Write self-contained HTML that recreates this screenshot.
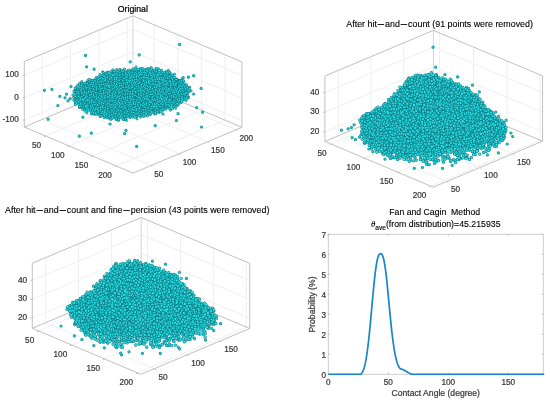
<!DOCTYPE html>
<html><head><meta charset="utf-8"><title>Figure</title>
<style>html,body{margin:0;padding:0;background:#fff;overflow:hidden}svg{display:block}</style>
</head><body>
<svg width="550" height="402" viewBox="0 0 550 402" font-family="Liberation Sans, Arial, sans-serif">
<rect width="550" height="402" fill="#fff"/>
<line x1="45.41" y1="135.94" x2="154.05" y2="90.14" stroke="#efefef" stroke-width="1.0"/>
<line x1="69.02" y1="145.95" x2="177.7" y2="100.15" stroke="#efefef" stroke-width="1.0"/>
<line x1="92.63" y1="155.95" x2="201.35" y2="110.15" stroke="#efefef" stroke-width="1.0"/>
<line x1="116.24" y1="165.95" x2="225" y2="120.15" stroke="#efefef" stroke-width="1.0"/>
<line x1="42.11" y1="119.49" x2="150.94" y2="165.59" stroke="#efefef" stroke-width="1.0"/>
<line x1="70.45" y1="107.53" x2="179.34" y2="153.63" stroke="#efefef" stroke-width="1.0"/>
<line x1="98.8" y1="95.58" x2="207.74" y2="141.68" stroke="#efefef" stroke-width="1.0"/>
<line x1="127.14" y1="83.63" x2="236.13" y2="129.73" stroke="#efefef" stroke-width="1.0"/>
<line x1="42.11" y1="119.49" x2="42.11" y2="54.09" stroke="#efefef" stroke-width="1.0"/>
<line x1="70.45" y1="107.53" x2="70.45" y2="42.13" stroke="#efefef" stroke-width="1.0"/>
<line x1="98.8" y1="95.58" x2="98.8" y2="30.18" stroke="#efefef" stroke-width="1.0"/>
<line x1="127.14" y1="83.63" x2="127.14" y2="18.23" stroke="#efefef" stroke-width="1.0"/>
<line x1="24.3" y1="120" x2="132.9" y2="74.2" stroke="#efefef" stroke-width="1.0"/>
<line x1="24.3" y1="97.6" x2="132.9" y2="51.8" stroke="#efefef" stroke-width="1.0"/>
<line x1="24.3" y1="75.2" x2="132.9" y2="29.4" stroke="#efefef" stroke-width="1.0"/>
<line x1="154.05" y1="90.14" x2="154.05" y2="24.74" stroke="#efefef" stroke-width="1.0"/>
<line x1="177.7" y1="100.15" x2="177.7" y2="34.75" stroke="#efefef" stroke-width="1.0"/>
<line x1="201.35" y1="110.15" x2="201.35" y2="44.75" stroke="#efefef" stroke-width="1.0"/>
<line x1="225" y1="120.15" x2="225" y2="54.75" stroke="#efefef" stroke-width="1.0"/>
<line x1="132.9" y1="74.2" x2="241.9" y2="120.3" stroke="#efefef" stroke-width="1.0"/>
<line x1="132.9" y1="51.8" x2="241.9" y2="97.9" stroke="#efefef" stroke-width="1.0"/>
<line x1="132.9" y1="29.4" x2="241.9" y2="75.5" stroke="#efefef" stroke-width="1.0"/>
<line x1="132.9" y1="81.2" x2="132.9" y2="15.8" stroke="#d6d6d6" stroke-width="1.0"/>
<line x1="24.3" y1="127" x2="132.9" y2="81.2" stroke="#c0c0c0" stroke-width="1.0"/>
<line x1="132.9" y1="81.2" x2="241.9" y2="127.3" stroke="#c0c0c0" stroke-width="1.0"/>
<line x1="24.3" y1="61.6" x2="132.9" y2="15.8" stroke="#c0c0c0" stroke-width="1.0"/>
<line x1="132.9" y1="15.8" x2="241.9" y2="61.9" stroke="#c0c0c0" stroke-width="1.0"/>
<line x1="241.9" y1="61.9" x2="241.9" y2="127.3" stroke="#c0c0c0" stroke-width="1.0"/>
<line x1="24.3" y1="127" x2="133.1" y2="173.1" stroke="#c0c0c0" stroke-width="1.0"/>
<line x1="133.1" y1="173.1" x2="241.9" y2="127.3" stroke="#c0c0c0" stroke-width="1.0"/>
<line x1="24.3" y1="127" x2="24.3" y2="61.6" stroke="#c0c0c0" stroke-width="1.0"/>
<line x1="45.41" y1="135.94" x2="43.81" y2="136.84" stroke="#c0c0c0" stroke-width="1.0"/>
<line x1="69.02" y1="145.95" x2="67.42" y2="146.85" stroke="#c0c0c0" stroke-width="1.0"/>
<line x1="92.63" y1="155.95" x2="91.03" y2="156.85" stroke="#c0c0c0" stroke-width="1.0"/>
<line x1="116.24" y1="165.95" x2="114.64" y2="166.85" stroke="#c0c0c0" stroke-width="1.0"/>
<line x1="150.94" y1="165.59" x2="152.54" y2="166.49" stroke="#c0c0c0" stroke-width="1.0"/>
<line x1="179.34" y1="153.63" x2="180.94" y2="154.53" stroke="#c0c0c0" stroke-width="1.0"/>
<line x1="207.74" y1="141.68" x2="209.34" y2="142.58" stroke="#c0c0c0" stroke-width="1.0"/>
<line x1="236.13" y1="129.73" x2="237.73" y2="130.63" stroke="#c0c0c0" stroke-width="1.0"/>
<line x1="24.3" y1="120" x2="22.5" y2="120" stroke="#c0c0c0" stroke-width="1.0"/>
<line x1="24.3" y1="97.6" x2="22.5" y2="97.6" stroke="#c0c0c0" stroke-width="1.0"/>
<line x1="24.3" y1="75.2" x2="22.5" y2="75.2" stroke="#c0c0c0" stroke-width="1.0"/>
<text x="41.01" y="147.74" font-size="8.2" text-anchor="end" fill="#383838" stroke="#383838" stroke-width="0.22">50</text>
<text x="64.62" y="157.75" font-size="8.2" text-anchor="end" fill="#383838" stroke="#383838" stroke-width="0.22">100</text>
<text x="88.23" y="167.75" font-size="8.2" text-anchor="end" fill="#383838" stroke="#383838" stroke-width="0.22">150</text>
<text x="111.84" y="177.75" font-size="8.2" text-anchor="end" fill="#383838" stroke="#383838" stroke-width="0.22">200</text>
<text x="154.24" y="176.79" font-size="8.2" text-anchor="start" fill="#383838" stroke="#383838" stroke-width="0.22">50</text>
<text x="182.64" y="164.83" font-size="8.2" text-anchor="start" fill="#383838" stroke="#383838" stroke-width="0.22">100</text>
<text x="211.04" y="152.88" font-size="8.2" text-anchor="start" fill="#383838" stroke="#383838" stroke-width="0.22">150</text>
<text x="239.43" y="140.93" font-size="8.2" text-anchor="start" fill="#383838" stroke="#383838" stroke-width="0.22">200</text>
<text x="18.9" y="122.2" font-size="8.2" text-anchor="end" fill="#383838" stroke="#383838" stroke-width="0.22">-100</text>
<text x="18.9" y="99.8" font-size="8.2" text-anchor="end" fill="#383838" stroke="#383838" stroke-width="0.22">0</text>
<text x="18.9" y="77.4" font-size="8.2" text-anchor="end" fill="#383838" stroke="#383838" stroke-width="0.22">100</text>
<line x1="331.07" y1="144.01" x2="439.62" y2="98.39" stroke="#efefef" stroke-width="1.0"/>
<line x1="364.65" y1="158.21" x2="473.44" y2="112.46" stroke="#efefef" stroke-width="1.0"/>
<line x1="397.79" y1="172.22" x2="506.82" y2="126.35" stroke="#efefef" stroke-width="1.0"/>
<line x1="430.82" y1="186.19" x2="540.1" y2="140.2" stroke="#efefef" stroke-width="1.0"/>
<line x1="338.35" y1="135.75" x2="446.75" y2="181.5" stroke="#efefef" stroke-width="1.0"/>
<line x1="371.12" y1="121.97" x2="479.76" y2="167.6" stroke="#efefef" stroke-width="1.0"/>
<line x1="403.78" y1="108.25" x2="512.66" y2="153.76" stroke="#efefef" stroke-width="1.0"/>
<line x1="338.35" y1="135.75" x2="338.35" y2="70.35" stroke="#efefef" stroke-width="1.0"/>
<line x1="371.12" y1="121.97" x2="371.12" y2="56.57" stroke="#efefef" stroke-width="1.0"/>
<line x1="403.78" y1="108.25" x2="403.78" y2="42.85" stroke="#efefef" stroke-width="1.0"/>
<line x1="324.9" y1="131.81" x2="433.4" y2="86.21" stroke="#efefef" stroke-width="1.0"/>
<line x1="324.9" y1="112.23" x2="433.4" y2="66.63" stroke="#efefef" stroke-width="1.0"/>
<line x1="324.9" y1="92.68" x2="433.4" y2="47.08" stroke="#efefef" stroke-width="1.0"/>
<line x1="439.62" y1="98.39" x2="439.62" y2="32.99" stroke="#efefef" stroke-width="1.0"/>
<line x1="473.44" y1="112.46" x2="473.44" y2="47.06" stroke="#efefef" stroke-width="1.0"/>
<line x1="506.82" y1="126.35" x2="506.82" y2="60.95" stroke="#efefef" stroke-width="1.0"/>
<line x1="540.1" y1="140.2" x2="540.1" y2="74.8" stroke="#efefef" stroke-width="1.0"/>
<line x1="433.4" y1="86.21" x2="542.5" y2="131.61" stroke="#efefef" stroke-width="1.0"/>
<line x1="433.4" y1="66.63" x2="542.5" y2="112.03" stroke="#efefef" stroke-width="1.0"/>
<line x1="433.4" y1="47.08" x2="542.5" y2="92.48" stroke="#efefef" stroke-width="1.0"/>
<line x1="433.4" y1="95.8" x2="433.4" y2="30.4" stroke="#d6d6d6" stroke-width="1.0"/>
<line x1="324.9" y1="141.4" x2="433.4" y2="95.8" stroke="#c0c0c0" stroke-width="1.0"/>
<line x1="433.4" y1="95.8" x2="542.5" y2="141.2" stroke="#c0c0c0" stroke-width="1.0"/>
<line x1="324.9" y1="76" x2="433.4" y2="30.4" stroke="#c0c0c0" stroke-width="1.0"/>
<line x1="433.4" y1="30.4" x2="542.5" y2="75.8" stroke="#c0c0c0" stroke-width="1.0"/>
<line x1="542.5" y1="75.8" x2="542.5" y2="141.2" stroke="#c0c0c0" stroke-width="1.0"/>
<line x1="324.9" y1="141.4" x2="433.2" y2="187.2" stroke="#c0c0c0" stroke-width="1.0"/>
<line x1="433.2" y1="187.2" x2="542.5" y2="141.2" stroke="#c0c0c0" stroke-width="1.0"/>
<line x1="324.9" y1="141.4" x2="324.9" y2="76" stroke="#c0c0c0" stroke-width="1.0"/>
<line x1="331.07" y1="144.01" x2="329.47" y2="144.91" stroke="#c0c0c0" stroke-width="1.0"/>
<line x1="364.65" y1="158.21" x2="363.05" y2="159.11" stroke="#c0c0c0" stroke-width="1.0"/>
<line x1="397.79" y1="172.22" x2="396.19" y2="173.12" stroke="#c0c0c0" stroke-width="1.0"/>
<line x1="430.82" y1="186.19" x2="429.22" y2="187.09" stroke="#c0c0c0" stroke-width="1.0"/>
<line x1="446.75" y1="181.5" x2="448.35" y2="182.4" stroke="#c0c0c0" stroke-width="1.0"/>
<line x1="479.76" y1="167.6" x2="481.36" y2="168.5" stroke="#c0c0c0" stroke-width="1.0"/>
<line x1="512.66" y1="153.76" x2="514.26" y2="154.66" stroke="#c0c0c0" stroke-width="1.0"/>
<line x1="324.9" y1="131.81" x2="323.1" y2="131.81" stroke="#c0c0c0" stroke-width="1.0"/>
<line x1="324.9" y1="112.23" x2="323.1" y2="112.23" stroke="#c0c0c0" stroke-width="1.0"/>
<line x1="324.9" y1="92.68" x2="323.1" y2="92.68" stroke="#c0c0c0" stroke-width="1.0"/>
<text x="326.67" y="155.81" font-size="8.2" text-anchor="end" fill="#383838" stroke="#383838" stroke-width="0.22">50</text>
<text x="360.25" y="170.01" font-size="8.2" text-anchor="end" fill="#383838" stroke="#383838" stroke-width="0.22">100</text>
<text x="393.39" y="184.02" font-size="8.2" text-anchor="end" fill="#383838" stroke="#383838" stroke-width="0.22">150</text>
<text x="426.42" y="197.99" font-size="8.2" text-anchor="end" fill="#383838" stroke="#383838" stroke-width="0.22">200</text>
<text x="451.05" y="192.28" font-size="8.2" text-anchor="start" fill="#383838" stroke="#383838" stroke-width="0.22">50</text>
<text x="484.06" y="178.38" font-size="8.2" text-anchor="start" fill="#383838" stroke="#383838" stroke-width="0.22">100</text>
<text x="516.96" y="164.54" font-size="8.2" text-anchor="start" fill="#383838" stroke="#383838" stroke-width="0.22">150</text>
<text x="319.4" y="134.01" font-size="8.2" text-anchor="end" fill="#383838" stroke="#383838" stroke-width="0.22">20</text>
<text x="319.4" y="114.43" font-size="8.2" text-anchor="end" fill="#383838" stroke="#383838" stroke-width="0.22">30</text>
<text x="319.4" y="94.88" font-size="8.2" text-anchor="end" fill="#383838" stroke="#383838" stroke-width="0.22">40</text>
<line x1="38.6" y1="330.97" x2="147.49" y2="285.26" stroke="#efefef" stroke-width="1.0"/>
<line x1="71.61" y1="344.95" x2="180.48" y2="299.22" stroke="#efefef" stroke-width="1.0"/>
<line x1="104.52" y1="358.89" x2="213.35" y2="313.12" stroke="#efefef" stroke-width="1.0"/>
<line x1="137.53" y1="372.87" x2="246.34" y2="327.08" stroke="#efefef" stroke-width="1.0"/>
<line x1="45.69" y1="322.68" x2="154.28" y2="368.67" stroke="#efefef" stroke-width="1.0"/>
<line x1="78.58" y1="308.88" x2="187.14" y2="354.84" stroke="#efefef" stroke-width="1.0"/>
<line x1="111.58" y1="295.03" x2="220.11" y2="340.96" stroke="#efefef" stroke-width="1.0"/>
<line x1="45.69" y1="322.68" x2="45.69" y2="257.58" stroke="#efefef" stroke-width="1.0"/>
<line x1="78.58" y1="308.88" x2="78.58" y2="243.78" stroke="#efefef" stroke-width="1.0"/>
<line x1="111.58" y1="295.03" x2="111.58" y2="229.93" stroke="#efefef" stroke-width="1.0"/>
<line x1="32.3" y1="318.01" x2="141.2" y2="272.31" stroke="#efefef" stroke-width="1.0"/>
<line x1="32.3" y1="299.2" x2="141.2" y2="253.5" stroke="#efefef" stroke-width="1.0"/>
<line x1="32.3" y1="280.32" x2="141.2" y2="234.62" stroke="#efefef" stroke-width="1.0"/>
<line x1="147.49" y1="285.26" x2="147.49" y2="220.16" stroke="#efefef" stroke-width="1.0"/>
<line x1="180.48" y1="299.22" x2="180.48" y2="234.12" stroke="#efefef" stroke-width="1.0"/>
<line x1="213.35" y1="313.12" x2="213.35" y2="248.02" stroke="#efefef" stroke-width="1.0"/>
<line x1="246.34" y1="327.08" x2="246.34" y2="261.98" stroke="#efefef" stroke-width="1.0"/>
<line x1="141.2" y1="272.31" x2="249.7" y2="318.21" stroke="#efefef" stroke-width="1.0"/>
<line x1="141.2" y1="253.5" x2="249.7" y2="299.4" stroke="#efefef" stroke-width="1.0"/>
<line x1="141.2" y1="234.62" x2="249.7" y2="280.52" stroke="#efefef" stroke-width="1.0"/>
<line x1="141.2" y1="282.6" x2="141.2" y2="217.5" stroke="#d6d6d6" stroke-width="1.0"/>
<line x1="32.3" y1="328.3" x2="141.2" y2="282.6" stroke="#c0c0c0" stroke-width="1.0"/>
<line x1="141.2" y1="282.6" x2="249.7" y2="328.5" stroke="#c0c0c0" stroke-width="1.0"/>
<line x1="32.3" y1="263.2" x2="141.2" y2="217.5" stroke="#c0c0c0" stroke-width="1.0"/>
<line x1="141.2" y1="217.5" x2="249.7" y2="263.4" stroke="#c0c0c0" stroke-width="1.0"/>
<line x1="249.7" y1="263.4" x2="249.7" y2="328.5" stroke="#c0c0c0" stroke-width="1.0"/>
<line x1="32.3" y1="328.3" x2="140.9" y2="374.3" stroke="#c0c0c0" stroke-width="1.0"/>
<line x1="140.9" y1="374.3" x2="249.7" y2="328.5" stroke="#c0c0c0" stroke-width="1.0"/>
<line x1="32.3" y1="328.3" x2="32.3" y2="263.2" stroke="#c0c0c0" stroke-width="1.0"/>
<line x1="38.6" y1="330.97" x2="37" y2="331.87" stroke="#c0c0c0" stroke-width="1.0"/>
<line x1="71.61" y1="344.95" x2="70.01" y2="345.85" stroke="#c0c0c0" stroke-width="1.0"/>
<line x1="104.52" y1="358.89" x2="102.92" y2="359.79" stroke="#c0c0c0" stroke-width="1.0"/>
<line x1="137.53" y1="372.87" x2="135.93" y2="373.77" stroke="#c0c0c0" stroke-width="1.0"/>
<line x1="154.28" y1="368.67" x2="155.88" y2="369.57" stroke="#c0c0c0" stroke-width="1.0"/>
<line x1="187.14" y1="354.84" x2="188.74" y2="355.74" stroke="#c0c0c0" stroke-width="1.0"/>
<line x1="220.11" y1="340.96" x2="221.71" y2="341.86" stroke="#c0c0c0" stroke-width="1.0"/>
<line x1="32.3" y1="318.01" x2="30.5" y2="318.01" stroke="#c0c0c0" stroke-width="1.0"/>
<line x1="32.3" y1="299.2" x2="30.5" y2="299.2" stroke="#c0c0c0" stroke-width="1.0"/>
<line x1="32.3" y1="280.32" x2="30.5" y2="280.32" stroke="#c0c0c0" stroke-width="1.0"/>
<text x="34.2" y="342.77" font-size="8.2" text-anchor="end" fill="#383838" stroke="#383838" stroke-width="0.22">50</text>
<text x="67.21" y="356.75" font-size="8.2" text-anchor="end" fill="#383838" stroke="#383838" stroke-width="0.22">100</text>
<text x="100.12" y="370.69" font-size="8.2" text-anchor="end" fill="#383838" stroke="#383838" stroke-width="0.22">150</text>
<text x="133.13" y="384.67" font-size="8.2" text-anchor="end" fill="#383838" stroke="#383838" stroke-width="0.22">200</text>
<text x="158.38" y="379.53" font-size="8.2" text-anchor="start" fill="#383838" stroke="#383838" stroke-width="0.22">50</text>
<text x="191.24" y="365.7" font-size="8.2" text-anchor="start" fill="#383838" stroke="#383838" stroke-width="0.22">100</text>
<text x="224.21" y="351.82" font-size="8.2" text-anchor="start" fill="#383838" stroke="#383838" stroke-width="0.22">150</text>
<text x="27" y="320.21" font-size="8.2" text-anchor="end" fill="#383838" stroke="#383838" stroke-width="0.22">20</text>
<text x="27" y="301.4" font-size="8.2" text-anchor="end" fill="#383838" stroke="#383838" stroke-width="0.22">30</text>
<text x="27" y="282.52" font-size="8.2" text-anchor="end" fill="#383838" stroke="#383838" stroke-width="0.22">40</text>
<polygon points="75.63,94.83 76.3,99.86 77.97,103.27 81.76,106.39 87.27,109.78 95.82,112.67 104.65,115.61 114.65,117.82 124.35,118.47 133.11,115.93 133.47,115.84 142.16,114.38 149.46,112.14 149.77,112.06 157.13,110.59 164.39,108.43 164.4,108.43 171.61,106.31 176.8,103.68 180.94,99.54 181.17,99.33 181.42,99.14 185.39,96.49 187.65,93.11 188.08,90.4 186.56,87.29 182.6,83.32 177,79.13 171.48,76.32 164.25,73.43 157.33,71.37 147.19,70.69 147.15,70.69 137.28,69.93 128.79,72.1 128.49,72.16 128.18,72.19 127.88,72.2 120.41,71.91 111.95,73.34 103.61,75.37 99.58,78.06 99.3,78.23 99,78.37 91.6,81.37 91.59,81.37 84.34,84.27 79.03,87.54 76.23,90.95 75.63,94.83" fill="#18b0b6"/>
<polygon points="361.65,126.44 361.69,126.72 361.7,127 361.7,131.83 365.77,138.34 372.56,144.16 383.37,149.57 395.22,153.02 410.02,155.49 424.87,153.51 424.87,153.51 449.87,150.31 474.78,147.02 494.69,140.55 501.66,138.23 501.76,138.14 502,137.96 505.29,135.71 507.1,131.14 505.11,127.08 502.45,122.95 499.43,119.57 493.79,115.37 493.44,115.06 481.44,103.06 481.13,102.71 476.95,97.11 472.75,93.56 468.67,90.2 463.15,88.09 462.87,87.96 455.48,84.27 448.1,80.62 440.75,77.69 435.22,75.62 429.97,74.92 423.47,75.68 423.4,75.69 416.6,76.33 411.44,78.91 408.13,81.59 402.96,86.66 398.59,91.14 398.56,91.16 394.06,95.66 394.04,95.69 389.55,100.08 385.06,104.56 384.78,104.82 384.46,105.03 377.06,109.53 376.83,109.66 364.83,115.66 364.6,115.77 361.4,117.06 360.57,120.32 361.65,126.44" fill="#18b0b6"/>
<polygon points="68.3,309.02 68.57,309.17 68.83,309.35 69.07,309.55 69.29,309.77 69.48,310.01 69.65,310.27 69.8,310.54 69.91,310.83 70,311.12 71.35,316.5 74.58,320.81 76.07,322.54 76.83,323.31 95.32,333.04 121.87,337 152.64,337 183.36,333.02 204.82,325.11 215.06,317.62 214.31,315.61 211.27,310.7 207.59,307.01 202.66,303.24 202.48,303.1 196.59,297.91 190.6,292.72 190.44,292.56 184.44,286.56 184.24,286.34 184.06,286.1 181.22,281.94 176.15,276.79 171.02,275.5 170.7,275.4 170.38,275.27 162.88,271.57 162.84,271.55 155.56,267.81 147.01,264.3 138.66,262.89 130.11,262.5 123.41,262.87 115.53,266.11 111.59,270.14 111.56,270.16 107.14,274.58 102.72,279.69 102.68,279.73 96.68,286.43 96.44,286.68 90.54,291.98 90.29,292.18 84.29,296.58 84.11,296.7 78.11,300.5 77.83,300.66 71,304.08 67.22,308.44 67.2,308.49 68.3,309.02" fill="#18b0b6"/>
<g transform="scale(0.1)" fill="none" stroke-linecap="round">
<path d="M1262 962h0m151-89h0m-277-57h0m607 106h0m56 84h0m-707 24h0m-50 147h0m546-47h0m-113-430h0m-309 227h0m-92 89h0m394-268h0m342 234h0m-437-91h0m-106 181h0m505-98h0m-942 48h0m393 123h0m416-288h0m249 116h0m-848-16h0m-147 1h0m434 179h0m148-249h0m133-39h0m-116 11h0m-635 53h0m632-127h0m-103 93h0m-350 167h0m-183-164h0m757 142h0m-108-56h0m198-158h0m-518-69h0m297 269h0m-536 51h0m424 8h0m89-353h0m-216 312h0" stroke="#0b6a74" stroke-width="27"/>
<path d="M1262 962h0m151-89h0m-277-57h0m607 106h0m56 84h0m-707 24h0m-50 147h0m546-47h0m-113-430h0m-309 227h0m-92 89h0m394-268h0m342 234h0m-437-91h0m-106 181h0m505-98h0m-942 48h0m393 123h0m416-288h0m249 116h0m-848-16h0m-147 1h0m434 179h0m148-249h0m133-39h0m-116 11h0m-635 53h0m632-127h0m-103 93h0m-350 167h0m-183-164h0m757 142h0m-108-56h0m198-158h0m-518-69h0m297 269h0m-536 51h0m424 8h0m89-353h0m-216 312h0" stroke="#28dce2" stroke-width="19"/>
<path d="M1177 844h0m526-114h0m-942 161h0m485-32h0m173-4h0m-204-36h0m-296 172h0m248-27h0m-172 88h0m148-201h0m361-167h0m-568 308h0m712 87h0m-518-42h0m224 117h0m-360-386h0m428 358h0m144-143h0m257-24h0m-898-91h0m-39-31h0m316 284h0m390-143h0m-177-69h0m0-184h0m-289 76h0m-142 202h0m131 148h0m665-184h0m-934-30h0m311 204h0m137-136h0m83-98h0m139 106h0m90 105h0m-156-3h0m172-3h0m-663-251h0m672 9h0m-532-138h0" stroke="#0b6a74" stroke-width="27"/>
<path d="M1177 844h0m526-114h0m-942 161h0m485-32h0m173-4h0m-204-36h0m-296 172h0m248-27h0m-172 88h0m148-201h0m361-167h0m-568 308h0m712 87h0m-518-42h0m224 117h0m-360-386h0m428 358h0m144-143h0m257-24h0m-898-91h0m-39-31h0m316 284h0m390-143h0m-177-69h0m0-184h0m-289 76h0m-142 202h0m131 148h0m665-184h0m-934-30h0m311 204h0m137-136h0m83-98h0m139 106h0m90 105h0m-156-3h0m172-3h0m-663-251h0m672 9h0m-532-138h0" stroke="#28dce2" stroke-width="19"/>
<path d="M1457 808h0m54-7h0m-52 78h0m-661-49h0m627-37h0m-466 224h0m296-299h0m-320 94h0m-113 62h0m953-38h0m-261 131h0m-420 217h0m82-316h0m78-26h0m340 181h0m88 24h0m-302-295h0m-400 186h0m564-109h0m255 98h0m-728 252h0m21-71h0m393-267h0m-114 64h0m-488 108h0m342 74h0m554-33h0m-365 55h0m247-392h0m-545 23h0m433 334h0m-57-364h0m404 161h0m-445 42h0m-96-135h0m-156-85h0m143 6h0m346 342h0m-910-11h0m662-282h0" stroke="#0b6a74" stroke-width="27"/>
<path d="M1457 808h0m54-7h0m-52 78h0m-661-49h0m627-37h0m-466 224h0m296-299h0m-320 94h0m-113 62h0m953-38h0m-261 131h0m-420 217h0m82-316h0m78-26h0m340 181h0m88 24h0m-302-295h0m-400 186h0m564-109h0m255 98h0m-728 252h0m21-71h0m393-267h0m-114 64h0m-488 108h0m342 74h0m554-33h0m-365 55h0m247-392h0m-545 23h0m433 334h0m-57-364h0m404 161h0m-445 42h0m-96-135h0m-156-85h0m143 6h0m346 342h0m-910-11h0m662-282h0" stroke="#28dce2" stroke-width="19"/>
<path d="M904 1095h0m150-38h0m-244-130h0m258 39h0m354 67h0m-77-108h0m-481 21h0m166-166h0m590-38h0m-454 234h0m103 110h0m564-176h0m-184 121h0m-443-286h0m320 306h0m-628-80h0m258 24h0m158-9h0m411-59h0m99-22h0m-252 193h0m72-320h0m32 242h0m-915-138h0m124-66h0m52 327h0m146-40h0m433-30h0m11-46h0m88-239h0m-416-13h0m5 340h0m132-376h0m207 37h0m-363 304h0m666-132h0m-189-141h0m-529 309h0m306-157h0m-503 151h0" stroke="#0b6a74" stroke-width="27"/>
<path d="M904 1095h0m150-38h0m-244-130h0m258 39h0m354 67h0m-77-108h0m-481 21h0m166-166h0m590-38h0m-454 234h0m103 110h0m564-176h0m-184 121h0m-443-286h0m320 306h0m-628-80h0m258 24h0m158-9h0m411-59h0m99-22h0m-252 193h0m72-320h0m32 242h0m-915-138h0m124-66h0m52 327h0m146-40h0m433-30h0m11-46h0m88-239h0m-416-13h0m5 340h0m132-376h0m207 37h0m-363 304h0m666-132h0m-189-141h0m-529 309h0m306-157h0m-503 151h0" stroke="#28dce2" stroke-width="19"/>
<path d="M1468 957h0m-56 119h0m-29-353h0m268 131h0m-507-14h0m80 43h0m365 165h0m-282-249h0m-323 47h0m-116 67h0m366 285h0m-267-295h0m194 294h0m409-393h0m-324 362h0m140-66h0m-266-133h0m-275 15h0m961-142h0m-442 36h0m-542 94h0m500 89h0m121 3h0m-123-216h0m-455 243h0m343-207h0m631 10h0m-952 1h0m796 80h0m107-119h0m-611 33h0m436-9h0m60 0h0m-408-38h0m216 208h0m-200-116h0m419-128h0m-798 217h0m-4-90h0m89-18h0" stroke="#0b6a74" stroke-width="27"/>
<path d="M1468 957h0m-56 119h0m-29-353h0m268 131h0m-507-14h0m80 43h0m365 165h0m-282-249h0m-323 47h0m-116 67h0m366 285h0m-267-295h0m194 294h0m409-393h0m-324 362h0m140-66h0m-266-133h0m-275 15h0m961-142h0m-442 36h0m-542 94h0m500 89h0m121 3h0m-123-216h0m-455 243h0m343-207h0m631 10h0m-952 1h0m796 80h0m107-119h0m-611 33h0m436-9h0m60 0h0m-408-38h0m216 208h0m-200-116h0m419-128h0m-798 217h0m-4-90h0m89-18h0" stroke="#28dce2" stroke-width="19"/>
<path d="M1245 789h0m-7-91h0m-368 123h0m11 226h0m346-197h0m282 252h0m298-73h0m-725-276h0m-31 380h0m513-112h0m-279-115h0m-161 177h0m404-88h0m200-120h0m-588 136h0m439-314h0m122 374h0m-336-140h0m395 75h0m-942-191h0m474-7h0m-555 195h0m277 84h0m341-89h0m52-97h0m360 25h0m-160 72h0m-432-138h0m-137-93h0m-42 99h0m776 28h0m-669 33h0m11-208h0m-365 185h0m812-161h0m66 356h0m-744-68h0m151-127h0m798 76h0m-585-210h0" stroke="#0b6a74" stroke-width="27"/>
<path d="M1245 789h0m-7-91h0m-368 123h0m11 226h0m346-197h0m282 252h0m298-73h0m-725-276h0m-31 380h0m513-112h0m-279-115h0m-161 177h0m404-88h0m200-120h0m-588 136h0m439-314h0m122 374h0m-336-140h0m395 75h0m-942-191h0m474-7h0m-555 195h0m277 84h0m341-89h0m52-97h0m360 25h0m-160 72h0m-432-138h0m-137-93h0m-42 99h0m776 28h0m-669 33h0m11-208h0m-365 185h0m812-161h0m66 356h0m-744-68h0m151-127h0m798 76h0m-585-210h0" stroke="#28dce2" stroke-width="19"/>
<path d="M1058 1116h0m290-361h0m-85 19h0m255 217h0m-763 1h0m433 8h0m-38 105h0m32-327h0m36-19h0m-28 122h0m313-102h0m-430-16h0m300 268h0m-123 13h0m182-318h0m-167 477h0m-75-456h0m9 155h0m58-14h0m-367-69h0m745 238h0m-584-10h0m-253 26h0m111-21h0m466 14h0m-16 56h0m199-158h0m-156 93h0m335-72h0m-570 76h0m184-39h0m386-222h0m-912 39h0m470 88h0m122-228h0m17 407h0m-285-105h0m84-92h0m61-209h0m-129 490h0" stroke="#0b6a74" stroke-width="27"/>
<path d="M1058 1116h0m290-361h0m-85 19h0m255 217h0m-763 1h0m433 8h0m-38 105h0m32-327h0m36-19h0m-28 122h0m313-102h0m-430-16h0m300 268h0m-123 13h0m182-318h0m-167 477h0m-75-456h0m9 155h0m58-14h0m-367-69h0m745 238h0m-584-10h0m-253 26h0m111-21h0m466 14h0m-16 56h0m199-158h0m-156 93h0m335-72h0m-570 76h0m184-39h0m386-222h0m-912 39h0m470 88h0m122-228h0m17 407h0m-285-105h0m84-92h0m61-209h0m-129 490h0" stroke="#28dce2" stroke-width="19"/>
<path d="M1340 860h0m147 269h0m-424-213h0m642-134h0m-638 263h0m341 34h0m-208 80h0m-24 13h0m300-341h0m-93 26h0m-40-72h0m306-20h0m-188 68h0m-102 250h0m-225-4h0m131-267h0m-352 74h0m735 16h0m-1 58h0m-55 42h0m-417 113h0m536-242h0m-475 200h0m59-129h0m199 19h0m-416 82h0m185 102h0m388-110h0m-553 5h0m136-81h0m-116 228h0m27-9h0m-210-69h0m193-413h0m427 302h0m-145 120h0m149-13h0m-669-244h0m621-36h0m-528 273h0" stroke="#0b6a74" stroke-width="27"/>
<path d="M1340 860h0m147 269h0m-424-213h0m642-134h0m-638 263h0m341 34h0m-208 80h0m-24 13h0m300-341h0m-93 26h0m-40-72h0m306-20h0m-188 68h0m-102 250h0m-225-4h0m131-267h0m-352 74h0m735 16h0m-1 58h0m-55 42h0m-417 113h0m536-242h0m-475 200h0m59-129h0m199 19h0m-416 82h0m185 102h0m388-110h0m-553 5h0m136-81h0m-116 228h0m27-9h0m-210-69h0m193-413h0m427 302h0m-145 120h0m149-13h0m-669-244h0m621-36h0m-528 273h0" stroke="#28dce2" stroke-width="19"/>
<path d="M1010 995h0m741 2h0m-744 134h0m106-129h0m634-37h0m-647 8h0m37 115h0m404-295h0m-94-96h0m-46-11h0m-639 188h0m937 42h0m-273-170h0m136 111h0m-302-57h0m-380 72h0m396-162h0m-328 364h0m167-37h0m0-67h0m373 81h0m46-77h0m-213-151h0m318-58h0m49 92h0m-812 20h0m769-5h0m-423-32h0m-270 147h0m240 201h0m513-86h0m-469 54h0m568-185h0m-941 24h0m486-126h0m162 69h0m-590-85h0m60 198h0m774-19h0m-606-169h0" stroke="#0b6a74" stroke-width="27"/>
<path d="M1010 995h0m741 2h0m-744 134h0m106-129h0m634-37h0m-647 8h0m37 115h0m404-295h0m-94-96h0m-46-11h0m-639 188h0m937 42h0m-273-170h0m136 111h0m-302-57h0m-380 72h0m396-162h0m-328 364h0m167-37h0m0-67h0m373 81h0m46-77h0m-213-151h0m318-58h0m49 92h0m-812 20h0m769-5h0m-423-32h0m-270 147h0m240 201h0m513-86h0m-469 54h0m568-185h0m-941 24h0m486-126h0m162 69h0m-590-85h0m60 198h0m774-19h0m-606-169h0" stroke="#28dce2" stroke-width="19"/>
<path d="M809 1002h0m647-24h0m-466 42h0m409-187h0m403-4h0m-679 171h0m315-142h0m286 168h0m-355-160h0m-199 235h0m-216-142h0m179-171h0m144 86h0m1-101h0m-108 34h0m619 37h0m-41 179h0m-358-153h0m50-35h0m-194-144h0m-30 283h0m265-60h0m-241 103h0m-442-96h0m1021 1h0m-896 183h0m405-73h0m139-132h0m-507 162h0m679-323h0m124 111h0m-208 67h0m-449-89h0m212-97h0m478 285h0m47-19h0m-608 49h0m489 4h0m-697-139h0m101 43h0" stroke="#0b6a74" stroke-width="27"/>
<path d="M809 1002h0m647-24h0m-466 42h0m409-187h0m403-4h0m-679 171h0m315-142h0m286 168h0m-355-160h0m-199 235h0m-216-142h0m179-171h0m144 86h0m1-101h0m-108 34h0m619 37h0m-41 179h0m-358-153h0m50-35h0m-194-144h0m-30 283h0m265-60h0m-241 103h0m-442-96h0m1021 1h0m-896 183h0m405-73h0m139-132h0m-507 162h0m679-323h0m124 111h0m-208 67h0m-449-89h0m212-97h0m478 285h0m47-19h0m-608 49h0m489 4h0m-697-139h0m101 43h0" stroke="#28dce2" stroke-width="19"/>
<path d="M1329 937h0m115 158h0m-294-183h0m566-53h0m-897-26h0m221-2h0m431 308h0m-299-80h0m247 81h0m-471-255h0m536 143h0m-280-111h0m492 122h0m-505 8h0m514-117h0m-207-136h0m-444 232h0m435-58h0m-550-19h0m81-42h0m598 0h0m-241-96h0m38-104h0m-245 342h0m614-216h0m-868 97h0m376-47h0m161 127h0m-122-21h0m450-17h0m-293-233h0m-490 104h0m842 51h0m-809-113h0m435 151h0m137 134h0m-229-124h0m494 4h0m-447 26h0m-160 199h0" stroke="#0b6a74" stroke-width="27"/>
<path d="M1329 937h0m115 158h0m-294-183h0m566-53h0m-897-26h0m221-2h0m431 308h0m-299-80h0m247 81h0m-471-255h0m536 143h0m-280-111h0m492 122h0m-505 8h0m514-117h0m-207-136h0m-444 232h0m435-58h0m-550-19h0m81-42h0m598 0h0m-241-96h0m38-104h0m-245 342h0m614-216h0m-868 97h0m376-47h0m161 127h0m-122-21h0m450-17h0m-293-233h0m-490 104h0m842 51h0m-809-113h0m435 151h0m137 134h0m-229-124h0m494 4h0m-447 26h0m-160 199h0" stroke="#28dce2" stroke-width="19"/>
<path d="M1088 789h0m12 365h0m267-402h0m-488 48h0m694-73h0m-324 225h0m568-77h0m-469 256h0m-6-247h0m-408 59h0m730-117h0m-379 306h0m-294-12h0m383-147h0m-582-14h0m374 21h0m-342-62h0m217-123h0m329-39h0m244 109h0m-458 143h0m487-1h0m-646-191h0m549 3h0m128-18h0m-463-70h0m-161 147h0m80 273h0m447-408h0m-178 175h0m-69 40h0m234-249h0m-99 25h0m-324 295h0m198-53h0m384-180h0m-494 206h0m-339-102h0m501 212h0m-329-276h0" stroke="#0b6a74" stroke-width="27"/>
<path d="M1088 789h0m12 365h0m267-402h0m-488 48h0m694-73h0m-324 225h0m568-77h0m-469 256h0m-6-247h0m-408 59h0m730-117h0m-379 306h0m-294-12h0m383-147h0m-582-14h0m374 21h0m-342-62h0m217-123h0m329-39h0m244 109h0m-458 143h0m487-1h0m-646-191h0m549 3h0m128-18h0m-463-70h0m-161 147h0m80 273h0m447-408h0m-178 175h0m-69 40h0m234-249h0m-99 25h0m-324 295h0m198-53h0m384-180h0m-494 206h0m-339-102h0m501 212h0m-329-276h0" stroke="#28dce2" stroke-width="19"/>
<path d="M1170 695h0m591 216h0m49 37h0m50-83h0m-263-102h0m-541 322h0m14 41h0m174-313h0m184-118h0m-634 246h0m243-85h0m311 286h0m147-305h0m201 151h0m90 28h0m-666-21h0m271 7h0m455-127h0m-614 94h0m133 162h0m-49-424h0m115 88h0m-221 152h0m-148-166h0m528 129h0m77-104h0m65 268h0m-753-180h0m275-115h0m193 66h0m88-132h0m-244 401h0m-414-134h0m586 33h0m-224 120h0m129-169h0m203-141h0m-107 16h0m-395 43h0m-321 22h0" stroke="#0b6a74" stroke-width="27"/>
<path d="M1170 695h0m591 216h0m49 37h0m50-83h0m-263-102h0m-541 322h0m14 41h0m174-313h0m184-118h0m-634 246h0m243-85h0m311 286h0m147-305h0m201 151h0m90 28h0m-666-21h0m271 7h0m455-127h0m-614 94h0m133 162h0m-49-424h0m115 88h0m-221 152h0m-148-166h0m528 129h0m77-104h0m65 268h0m-753-180h0m275-115h0m193 66h0m88-132h0m-244 401h0m-414-134h0m586 33h0m-224 120h0m129-169h0m203-141h0m-107 16h0m-395 43h0m-321 22h0" stroke="#28dce2" stroke-width="19"/>
<path d="M1351 943h0m-434-38h0m620 112h0m-535-16h0m224-172h0m-21 234h0m475-140h0m-579-106h0m-167 258h0m558-130h0m-464-160h0m55 12h0m4 194h0m-37-182h0m481 20h0m136 250h0m-132 35h0m-458-55h0m-13-179h0m778-28h0m-1030 171h0m717 17h0m-328-83h0m561 96h0m-811-239h0m32 322h0m-142-126h0m597 62h0m137-3h0m-419-362h0m154 53h0m510 127h0m-1025 191h0m684-152h0m-49-56h0m-62-88h0m-328 367h0m376-140h0m101-83h0m-159-210h0" stroke="#0b6a74" stroke-width="27"/>
<path d="M1351 943h0m-434-38h0m620 112h0m-535-16h0m224-172h0m-21 234h0m475-140h0m-579-106h0m-167 258h0m558-130h0m-464-160h0m55 12h0m4 194h0m-37-182h0m481 20h0m136 250h0m-132 35h0m-458-55h0m-13-179h0m778-28h0m-1030 171h0m717 17h0m-328-83h0m561 96h0m-811-239h0m32 322h0m-142-126h0m597 62h0m137-3h0m-419-362h0m154 53h0m510 127h0m-1025 191h0m684-152h0m-49-56h0m-62-88h0m-328 367h0m376-140h0m101-83h0m-159-210h0" stroke="#28dce2" stroke-width="19"/>
<path d="M1448 999h0m-513-159h0m690 232h0m-355-26h0m-389-58h0m28-84h0m152-57h0m308-29h0m-621 98h0m839-189h0m-391 132h0m470 154h0m-54-58h0m-360-88h0m492-67h0m41 114h0m-78 59h0m73-57h0m-890 13h0m436-201h0m-330 261h0m302 140h0m-468-193h0m867-79h0m-484-150h0m-353 272h0m290-221h0m-43 253h0m-200 102h0m837-303h0m-228 196h0m-84 43h0m-465-216h0m91-81h0m103 73h0m121 42h0m-382 3h0m439 29h0m-26 46h0m416-192h0" stroke="#0b6a74" stroke-width="27"/>
<path d="M1448 999h0m-513-159h0m690 232h0m-355-26h0m-389-58h0m28-84h0m152-57h0m308-29h0m-621 98h0m839-189h0m-391 132h0m470 154h0m-54-58h0m-360-88h0m492-67h0m41 114h0m-78 59h0m73-57h0m-890 13h0m436-201h0m-330 261h0m302 140h0m-468-193h0m867-79h0m-484-150h0m-353 272h0m290-221h0m-43 253h0m-200 102h0m837-303h0m-228 196h0m-84 43h0m-465-216h0m91-81h0m103 73h0m121 42h0m-382 3h0m439 29h0m-26 46h0m416-192h0" stroke="#28dce2" stroke-width="19"/>
<path d="M852 1050h0m431-350h0m514 302h0m-975-171h0m464 265h0m-318-141h0m-32-92h0m104 272h0m561-188h0m-489-13h0m361 40h0m342-153h0m-432-40h0m234 30h0m-339 329h0m81-403h0m432 107h0m-297 240h0m-583-1h0m646-265h0m125 253h0m-517 43h0m-292-96h0m83-167h0m-9 17h0m540 54h0m-599-4h0m216-28h0m29-169h0m-249 198h0m90-7h0m190-97h0m7 256h0m-11 106h0m429-489h0m-108 292h0m-268 62h0m-21 40h0m-71-305h0m740 185h0" stroke="#0b6a74" stroke-width="27"/>
<path d="M852 1050h0m431-350h0m514 302h0m-975-171h0m464 265h0m-318-141h0m-32-92h0m104 272h0m561-188h0m-489-13h0m361 40h0m342-153h0m-432-40h0m234 30h0m-339 329h0m81-403h0m432 107h0m-297 240h0m-583-1h0m646-265h0m125 253h0m-517 43h0m-292-96h0m83-167h0m-9 17h0m540 54h0m-599-4h0m216-28h0m29-169h0m-249 198h0m90-7h0m190-97h0m7 256h0m-11 106h0m429-489h0m-108 292h0m-268 62h0m-21 40h0m-71-305h0m740 185h0" stroke="#28dce2" stroke-width="19"/>
<path d="M1214 713h0m500 286h0m-29 50h0m-573-239h0m743 126h0m-559-159h0m482 22h0m-680 331h0m537-247h0m-30-156h0m252 192h0m-794 187h0m801-254h0m-899 67h0m449-156h0m90 326h0m407-180h0m-804 285h0m288-59h0m153-286h0m-304 287h0m373-385h0m-304-40h0m-252 456h0m607-112h0m-676-164h0m326 4h0m264 55h0m-408 4h0m48 162h0m-439-226h0m594-193h0m166 27h0m-520 300h0m-39 106h0m-232-103h0m766-304h0m-748 188h0m1074 89h0m-592-70h0" stroke="#0b6a74" stroke-width="27"/>
<path d="M1214 713h0m500 286h0m-29 50h0m-573-239h0m743 126h0m-559-159h0m482 22h0m-680 331h0m537-247h0m-30-156h0m252 192h0m-794 187h0m801-254h0m-899 67h0m449-156h0m90 326h0m407-180h0m-804 285h0m288-59h0m153-286h0m-304 287h0m373-385h0m-304-40h0m-252 456h0m607-112h0m-676-164h0m326 4h0m264 55h0m-408 4h0m48 162h0m-439-226h0m594-193h0m166 27h0m-520 300h0m-39 106h0m-232-103h0m766-304h0m-748 188h0m1074 89h0m-592-70h0" stroke="#28dce2" stroke-width="19"/>
<path d="M1347 843h0m-164 239h0m709-189h0m-1 25h0m-891-19h0m659 105h0m-106 25h0m-91-177h0m-270 281h0m442-144h0m-333 76h0m-18 91h0m261-393h0m-332 276h0m-211 1h0m-234-50h0m447-209h0m-102 292h0m73 131h0m156-418h0m-84 78h0m617 39h0m-480 115h0m-181 68h0m-402-97h0m51-69h0m-86-68h0m758 161h0m-655-59h0m158-85h0m627 13h0m-796-55h0m726 192h0m-775-128h0m3 186h0m83 19h0m147-167h0m15 228h0m-331-183h0m405-201h0" stroke="#0b6a74" stroke-width="27"/>
<path d="M1347 843h0m-164 239h0m709-189h0m-1 25h0m-891-19h0m659 105h0m-106 25h0m-91-177h0m-270 281h0m442-144h0m-333 76h0m-18 91h0m261-393h0m-332 276h0m-211 1h0m-234-50h0m447-209h0m-102 292h0m73 131h0m156-418h0m-84 78h0m617 39h0m-480 115h0m-181 68h0m-402-97h0m51-69h0m-86-68h0m758 161h0m-655-59h0m158-85h0m627 13h0m-796-55h0m726 192h0m-775-128h0m3 186h0m83 19h0m147-167h0m15 228h0m-331-183h0m405-201h0" stroke="#28dce2" stroke-width="19"/>
<path d="M1365 1046h0m257-101h0m122 31h0m-717-257h0m0 389h0m-7-270h0m265 242h0m-94 53h0m-309-277h0m128 1h0m-91-17h0m-70 199h0m572-49h0m-604-46h0m958-138h0m-26 241h0m-648-297h0m420 66h0m354 94h0m-449-71h0m-25 196h0m-133-122h0m-259 201h0m-26-57h0m299-262h0m120 3h0m-314 350h0m-282-271h0m883-132h0m-598 138h0m-238 169h0m879 5h0m-228-299h0m193 197h0m-456 39h0m-128-154h0m-30 253h0m663-167h0m-341-105h0m-162 307h0" stroke="#0b6a74" stroke-width="27"/>
<path d="M1365 1046h0m257-101h0m122 31h0m-717-257h0m0 389h0m-7-270h0m265 242h0m-94 53h0m-309-277h0m128 1h0m-91-17h0m-70 199h0m572-49h0m-604-46h0m958-138h0m-26 241h0m-648-297h0m420 66h0m354 94h0m-449-71h0m-25 196h0m-133-122h0m-259 201h0m-26-57h0m299-262h0m120 3h0m-314 350h0m-282-271h0m883-132h0m-598 138h0m-238 169h0m879 5h0m-228-299h0m193 197h0m-456 39h0m-128-154h0m-30 253h0m663-167h0m-341-105h0m-162 307h0" stroke="#28dce2" stroke-width="19"/>
<path d="M989 953h0m285-18h0m360-203h0m-53 383h0m-568-52h0m542-345h0m-293 155h0m83 205h0m-545-106h0m508 149h0m499-164h0m-338-177h0m-240 35h0m-165 74h0m439-12h0m-572 37h0m103 136h0m161-338h0m121 448h0m220-350h0m-138-24h0m-646 148h0m850-133h0m135 234h0m-479-135h0m-413 7h0m291 258h0m30-143h0m411-45h0m-49-263h0m-498 403h0m593-29h0m-453 75h0m-355-101h0m117-16h0m258-146h0m-64-33h0m82 306h0m-262-176h0m-129 31h0" stroke="#0b6a74" stroke-width="27"/>
<path d="M989 953h0m285-18h0m360-203h0m-53 383h0m-568-52h0m542-345h0m-293 155h0m83 205h0m-545-106h0m508 149h0m499-164h0m-338-177h0m-240 35h0m-165 74h0m439-12h0m-572 37h0m103 136h0m161-338h0m121 448h0m220-350h0m-138-24h0m-646 148h0m850-133h0m135 234h0m-479-135h0m-413 7h0m291 258h0m30-143h0m411-45h0m-49-263h0m-498 403h0m593-29h0m-453 75h0m-355-101h0m117-16h0m258-146h0m-64-33h0m82 306h0m-262-176h0m-129 31h0" stroke="#28dce2" stroke-width="19"/>
<path d="M1043 1027h0m799-197h0m31 57h0m-838-72h0m185 148h0m448-193h0m-480 405h0m-118-104h0m120-261h0m171 231h0m34-92h0m-74-63h0m266 160h0m181-57h0m-12-42h0m-54 83h0m-805 37h0m-7 1h0m423-255h0m-54 287h0m-204-204h0m311 268h0m219-113h0m188-8h0m30-242h0m-620-80h0m645 274h0m-916 145h0m303-139h0m460-37h0m-98 151h0m-266-287h0m164-32h0m-267 23h0m76-15h0m367 82h0m-814 184h0m853-156h0m-47 75h0m81-157h0" stroke="#0b6a74" stroke-width="27"/>
<path d="M1043 1027h0m799-197h0m31 57h0m-838-72h0m185 148h0m448-193h0m-480 405h0m-118-104h0m120-261h0m171 231h0m34-92h0m-74-63h0m266 160h0m181-57h0m-12-42h0m-54 83h0m-805 37h0m-7 1h0m423-255h0m-54 287h0m-204-204h0m311 268h0m219-113h0m188-8h0m30-242h0m-620-80h0m645 274h0m-916 145h0m303-139h0m460-37h0m-98 151h0m-266-287h0m164-32h0m-267 23h0m76-15h0m367 82h0m-814 184h0m853-156h0m-47 75h0m81-157h0" stroke="#28dce2" stroke-width="19"/>
<path d="M1277 987h0m-316 158h0m617-291h0m103 128h0m-55-216h0m-595 384h0m46-41h0m-124-85h0m92-280h0m745 140h0m-610-85h0m265 87h0m-20-51h0m-532 195h0m727 28h0m-144-345h0m-2 230h0m-122-219h0m-163 236h0m350-214h0m-433 339h0m-182-119h0m303-196h0m-56 321h0m37-15h0m579-38h0m-547-55h0m45 63h0m191 85h0m-335-30h0m393-94h0m-664 122h0m379 6h0m-21-116h0m56 43h0m431-87h0m-489 126h0m597-314h0m-753 109h0m335 82h0" stroke="#0b6a74" stroke-width="27"/>
<path d="M1277 987h0m-316 158h0m617-291h0m103 128h0m-55-216h0m-595 384h0m46-41h0m-124-85h0m92-280h0m745 140h0m-610-85h0m265 87h0m-20-51h0m-532 195h0m727 28h0m-144-345h0m-2 230h0m-122-219h0m-163 236h0m350-214h0m-433 339h0m-182-119h0m303-196h0m-56 321h0m37-15h0m579-38h0m-547-55h0m45 63h0m191 85h0m-335-30h0m393-94h0m-664 122h0m379 6h0m-21-116h0m56 43h0m431-87h0m-489 126h0m597-314h0m-753 109h0m335 82h0" stroke="#28dce2" stroke-width="19"/>
<path d="M1364 770h0m192 293h0m-1 34h0m-216 27h0m-433-213h0m-86 51h0m658 98h0m-465-289h0m6 266h0m323 30h0m268-353h0m-404 273h0m141-75h0m251 184h0m-27-35h0m119-159h0m-345 84h0m-383-210h0m620 40h0m-509 319h0m293-33h0m-388-176h0m553-36h0m61-90h0m-436 87h0m554 128h0m-603-165h0m350-74h0m20 222h0m-488-174h0m837 60h0m-356-110h0m-321 2h0m48-52h0m169 337h0m-336-78h0m-234-91h0m45 31h0m956 35h0m-111-200h0" stroke="#0b6a74" stroke-width="27"/>
<path d="M1364 770h0m192 293h0m-1 34h0m-216 27h0m-433-213h0m-86 51h0m658 98h0m-465-289h0m6 266h0m323 30h0m268-353h0m-404 273h0m141-75h0m251 184h0m-27-35h0m119-159h0m-345 84h0m-383-210h0m620 40h0m-509 319h0m293-33h0m-388-176h0m553-36h0m61-90h0m-436 87h0m554 128h0m-603-165h0m350-74h0m20 222h0m-488-174h0m837 60h0m-356-110h0m-321 2h0m48-52h0m169 337h0m-336-78h0m-234-91h0m45 31h0m956 35h0m-111-200h0" stroke="#28dce2" stroke-width="19"/>
<path d="M1152 960h0m508 98h0m-597-254h0m464 67h0m-212 15h0m-117 119h0m542 4h0m-760-230h0m-53 84h0m664-88h0m-693 335h0m-83-271h0m905-68h0m-902 163h0m426-23h0m587 23h0m-620-142h0m640 183h0m-235-145h0m-377 367h0m-9-21h0m255-71h0m-347-98h0m695-151h0m-252 49h0m-193-139h0m-510 293h0m572-239h0m198-62h0m-121 103h0m126-20h0m-710-41h0m754-77h0m-381 403h0m-284-379h0m-178 274h0m457 44h0m-105-239h0m96 45h0m245 227h0" stroke="#0b6a74" stroke-width="27"/>
<path d="M1152 960h0m508 98h0m-597-254h0m464 67h0m-212 15h0m-117 119h0m542 4h0m-760-230h0m-53 84h0m664-88h0m-693 335h0m-83-271h0m905-68h0m-902 163h0m426-23h0m587 23h0m-620-142h0m640 183h0m-235-145h0m-377 367h0m-9-21h0m255-71h0m-347-98h0m695-151h0m-252 49h0m-193-139h0m-510 293h0m572-239h0m198-62h0m-121 103h0m126-20h0m-710-41h0m754-77h0m-381 403h0m-284-379h0m-178 274h0m457 44h0m-105-239h0m96 45h0m245 227h0" stroke="#28dce2" stroke-width="19"/>
<path d="M1064 1002h0m77-131h0m-64 162h0m-91 113h0m500-270h0m-34-3h0m-11 121h0m-8-66h0m-120-58h0m249-96h0m-477 390h0m-130-46h0m558-441h0m-404 41h0m238 379h0m-356-250h0m278-118h0m-225 304h0m-123 17h0m158-74h0m279-59h0m-31 83h0m-321 154h0m601-265h0m-360 51h0m562-16h0m-709 19h0m-171-57h0m113 213h0m660-346h0m-478 415h0m184-394h0m-223 381h0m265-260h0m-448-110h0m400 49h0m-112 147h0m445-158h0m-367 264h0m-3-93h0" stroke="#0b6a74" stroke-width="27"/>
<path d="M1064 1002h0m77-131h0m-64 162h0m-91 113h0m500-270h0m-34-3h0m-11 121h0m-8-66h0m-120-58h0m249-96h0m-477 390h0m-130-46h0m558-441h0m-404 41h0m238 379h0m-356-250h0m278-118h0m-225 304h0m-123 17h0m158-74h0m279-59h0m-31 83h0m-321 154h0m601-265h0m-360 51h0m562-16h0m-709 19h0m-171-57h0m113 213h0m660-346h0m-478 415h0m184-394h0m-223 381h0m265-260h0m-448-110h0m400 49h0m-112 147h0m445-158h0m-367 264h0m-3-93h0" stroke="#28dce2" stroke-width="19"/>
<path d="M838 953h0m749-15h0m-10-21h0m38 8h0m-275 69h0m-284-262h0m-56 374h0m54-264h0m548 19h0m-91 272h0m308-304h0m3 75h0m-793 20h0m109-23h0m262-11h0m368 142h0m-237-331h0m-238 47h0m53-48h0m-251 247h0m671 14h0m-950-42h0m455 251h0m-166-294h0m544 39h0m-403 96h0m-291-11h0m219 39h0m-98-37h0m-237-135h0m689-109h0m-392 73h0m163 156h0m237 135h0m44-226h0m-512-38h0m512 86h0m-396 155h0m271-48h0m-522-26h0" stroke="#0b6a74" stroke-width="27"/>
<path d="M838 953h0m749-15h0m-10-21h0m38 8h0m-275 69h0m-284-262h0m-56 374h0m54-264h0m548 19h0m-91 272h0m308-304h0m3 75h0m-793 20h0m109-23h0m262-11h0m368 142h0m-237-331h0m-238 47h0m53-48h0m-251 247h0m671 14h0m-950-42h0m455 251h0m-166-294h0m544 39h0m-403 96h0m-291-11h0m219 39h0m-98-37h0m-237-135h0m689-109h0m-392 73h0m163 156h0m237 135h0m44-226h0m-512-38h0m512 86h0m-396 155h0m271-48h0m-522-26h0" stroke="#28dce2" stroke-width="19"/>
<path d="M1489 989h0m-562-167h0m110 87h0m134-11h0m-165 14h0m133-196h0m156 292h0m-422 28h0m984-147h0m-1003-41h0m477 25h0m-306 136h0m-26 142h0m770-353h0m-464 370h0m-17-26h0m106-325h0m317 175h0m-208 156h0m-401-228h0m691-40h0m-593 48h0m48-101h0m288 116h0m119 11h0m-398 237h0m416-452h0m-324 57h0m-353 301h0m164 82h0m317-19h0m-424-214h0m796-84h0m-480 155h0m-523 19h0m719-198h0m-728 249h0m909-226h0m-172 134h0m-397 157h0" stroke="#0b6a74" stroke-width="27"/>
<path d="M1489 989h0m-562-167h0m110 87h0m134-11h0m-165 14h0m133-196h0m156 292h0m-422 28h0m984-147h0m-1003-41h0m477 25h0m-306 136h0m-26 142h0m770-353h0m-464 370h0m-17-26h0m106-325h0m317 175h0m-208 156h0m-401-228h0m691-40h0m-593 48h0m48-101h0m288 116h0m119 11h0m-398 237h0m416-452h0m-324 57h0m-353 301h0m164 82h0m317-19h0m-424-214h0m796-84h0m-480 155h0m-523 19h0m719-198h0m-728 249h0m909-226h0m-172 134h0m-397 157h0" stroke="#28dce2" stroke-width="19"/>
<path d="M1082 921h0m366 149h0m194-272h0m24 246h0m-172-320h0m-381 453h0m248-313h0m119-84h0m-288 190h0m-243-39h0m99 232h0m329-41h0m391-298h0m-23 79h0m-242 172h0m-732-102h0m69-64h0m134 116h0m247-147h0m-347 86h0m932-48h0m-43-75h0m-568-3h0m497 246h0m152-100h0m-283-266h0m-505 47h0m103 89h0m211 335h0m-398-321h0m548 40h0m4 84h0m108-24h0m-212-71h0m76-4h0m-331 239h0m-12 31h0m464-142h0m32-49h0m-667 138h0" stroke="#0b6a74" stroke-width="27"/>
<path d="M1082 921h0m366 149h0m194-272h0m24 246h0m-172-320h0m-381 453h0m248-313h0m119-84h0m-288 190h0m-243-39h0m99 232h0m329-41h0m391-298h0m-23 79h0m-242 172h0m-732-102h0m69-64h0m134 116h0m247-147h0m-347 86h0m932-48h0m-43-75h0m-568-3h0m497 246h0m152-100h0m-283-266h0m-505 47h0m103 89h0m211 335h0m-398-321h0m548 40h0m4 84h0m108-24h0m-212-71h0m76-4h0m-331 239h0m-12 31h0m464-142h0m32-49h0m-667 138h0" stroke="#28dce2" stroke-width="19"/>
<path d="M1127 1037h0m-143 39h0m562-39h0m-291-7h0m265-159h0m-414 200h0m55-42h0m552-252h0m-896 266h0m908 45h0m-673-16h0m81-158h0m443-125h0m-824 93h0m8 41h0m382 8h0m191 17h0m69 51h0m293 64h0m-403-350h0m-33 396h0m-101-172h0m397 1h0m85-105h0m97 51h0m-317-108h0m44 300h0m-677-114h0m510-172h0m263 97h0m-224 127h0m-13-51h0m272-173h0m-145-32h0m-258 228h0m-253-162h0m-22 2h0m384 87h0m-514 75h0m304-57h0" stroke="#0b6a74" stroke-width="27"/>
<path d="M1127 1037h0m-143 39h0m562-39h0m-291-7h0m265-159h0m-414 200h0m55-42h0m552-252h0m-896 266h0m908 45h0m-673-16h0m81-158h0m443-125h0m-824 93h0m8 41h0m382 8h0m191 17h0m69 51h0m293 64h0m-403-350h0m-33 396h0m-101-172h0m397 1h0m85-105h0m97 51h0m-317-108h0m44 300h0m-677-114h0m510-172h0m263 97h0m-224 127h0m-13-51h0m272-173h0m-145-32h0m-258 228h0m-253-162h0m-22 2h0m384 87h0m-514 75h0m304-57h0" stroke="#28dce2" stroke-width="19"/>
<path d="M799 1013h0m923-261h0m-496 284h0m244 64h0m92-405h0m317 235h0m-422 150h0m41-32h0m-348-1h0m-132-72h0m609-196h0m30 149h0m-143 158h0m87-157h0m-279-71h0m-34 231h0m226-229h0m-130 127h0m-204-163h0m-197-52h0m445 228h0m-288-56h0m610 119h0m-721-121h0m373-242h0m-78 94h0m314 183h0m-777 25h0m499-157h0m399 24h0m12-75h0m-217 325h0m307-115h0m-860 162h0m484-43h0m-398-44h0m-88-332h0m148 159h0m412 211h0m-111-187h0" stroke="#0b6a74" stroke-width="27"/>
<path d="M799 1013h0m923-261h0m-496 284h0m244 64h0m92-405h0m317 235h0m-422 150h0m41-32h0m-348-1h0m-132-72h0m609-196h0m30 149h0m-143 158h0m87-157h0m-279-71h0m-34 231h0m226-229h0m-130 127h0m-204-163h0m-197-52h0m445 228h0m-288-56h0m610 119h0m-721-121h0m373-242h0m-78 94h0m314 183h0m-777 25h0m499-157h0m399 24h0m12-75h0m-217 325h0m307-115h0m-860 162h0m484-43h0m-398-44h0m-88-332h0m148 159h0m412 211h0m-111-187h0" stroke="#28dce2" stroke-width="19"/>
<path d="M1102 1121h0m159-40h0m500-250h0m-487 330h0m386-420h0m-7 346h0m-438 43h0m149-392h0m16 230h0m-73 66h0m392-73h0m41-16h0m-391 222h0m43-72h0m31-415h0m278 170h0m-426 98h0m430 52h0m-160 141h0m-749-75h0m511-59h0m16-38h0m-168-41h0m-192-29h0m183 220h0m437-227h0m-148 272h0m322-81h0m-253-374h0m-209 41h0m-539 266h0m296-31h0m461-295h0m160 295h0m103-39h0m-937 115h0m454 10h0m60-15h0m222-139h0m-638 39h0" stroke="#0b6a74" stroke-width="27"/>
<path d="M1102 1121h0m159-40h0m500-250h0m-487 330h0m386-420h0m-7 346h0m-438 43h0m149-392h0m16 230h0m-73 66h0m392-73h0m41-16h0m-391 222h0m43-72h0m31-415h0m278 170h0m-426 98h0m430 52h0m-160 141h0m-749-75h0m511-59h0m16-38h0m-168-41h0m-192-29h0m183 220h0m437-227h0m-148 272h0m322-81h0m-253-374h0m-209 41h0m-539 266h0m296-31h0m461-295h0m160 295h0m103-39h0m-937 115h0m454 10h0m60-15h0m222-139h0m-638 39h0" stroke="#28dce2" stroke-width="19"/>
<path d="M1306 731h0m390 58h0m-417 55h0m436 203h0m-950-14h0m802 9h0m-181-136h0m83 84h0m-362-192h0m367 160h0m-36 191h0m264-128h0m-19-192h0m-842 33h0m558 281h0m-473-9h0m597-232h0m-292-183h0m-111 350h0m611-175h0m-70-115h0m159 242h0m-241-6h0m-502 67h0m487-400h0m223 263h0m-160 99h0m56-230h0m-802 272h0m934-67h0m-872-8h0m15 118h0m161-232h0m752-23h0m-542-185h0m-256 124h0m252 275h0m199 29h0m-526-249h0m627-143h0" stroke="#0b6a74" stroke-width="27"/>
<path d="M1306 731h0m390 58h0m-417 55h0m436 203h0m-950-14h0m802 9h0m-181-136h0m83 84h0m-362-192h0m367 160h0m-36 191h0m264-128h0m-19-192h0m-842 33h0m558 281h0m-473-9h0m597-232h0m-292-183h0m-111 350h0m611-175h0m-70-115h0m159 242h0m-241-6h0m-502 67h0m487-400h0m223 263h0m-160 99h0m56-230h0m-802 272h0m934-67h0m-872-8h0m15 118h0m161-232h0m752-23h0m-542-185h0m-256 124h0m252 275h0m199 29h0m-526-249h0m627-143h0" stroke="#28dce2" stroke-width="19"/>
<path d="M1036 843h0m450 27h0m-540 103h0m714-103h0m-57 229h0m78-263h0m-219-145h0m-497 237h0m-175 118h0m402-243h0m-43 9h0m263 121h0m-64-203h0m231 126h0m-619-13h0m585 146h0m-686 120h0m979-168h0m-736-46h0m453 233h0m190-387h0m-368 60h0m240 111h0m-205-68h0m-103 151h0m-442 115h0m521-49h0m-473-35h0m759-301h0m-221 405h0m-715-212h0m788-137h0m-14 339h0m74-306h0m-198 276h0m197-262h0m-495 7h0m-137 38h0m898 66h0m-342-29h0" stroke="#0b6a74" stroke-width="27"/>
<path d="M1036 843h0m450 27h0m-540 103h0m714-103h0m-57 229h0m78-263h0m-219-145h0m-497 237h0m-175 118h0m402-243h0m-43 9h0m263 121h0m-64-203h0m231 126h0m-619-13h0m585 146h0m-686 120h0m979-168h0m-736-46h0m453 233h0m190-387h0m-368 60h0m240 111h0m-205-68h0m-103 151h0m-442 115h0m521-49h0m-473-35h0m759-301h0m-221 405h0m-715-212h0m788-137h0m-14 339h0m74-306h0m-198 276h0m197-262h0m-495 7h0m-137 38h0m898 66h0m-342-29h0" stroke="#28dce2" stroke-width="19"/>
<path d="M916 969h0m292 181h0m464-238h0m-207 137h0m-114 21h0m-264-227h0m-303 95h0m213 22h0m305-152h0m-4 370h0m-97-138h0m-116-29h0m406-314h0m-415 24h0m157 126h0m-41 179h0m-259 104h0m-107-277h0m73-42h0m740 130h0m-621 192h0m400 27h0m-404 2h0m534-202h0m-686-76h0m557 122h0m48 85h0m242-265h0m-462 333h0m281-430h0m110 116h0m-175 181h0m-142-256h0m-474 72h0m567 113h0m-128-226h0m197 394h0m-296-121h0m643-161h0m-650 75h0" stroke="#0b6a74" stroke-width="27"/>
<path d="M916 969h0m292 181h0m464-238h0m-207 137h0m-114 21h0m-264-227h0m-303 95h0m213 22h0m305-152h0m-4 370h0m-97-138h0m-116-29h0m406-314h0m-415 24h0m157 126h0m-41 179h0m-259 104h0m-107-277h0m73-42h0m740 130h0m-621 192h0m400 27h0m-404 2h0m534-202h0m-686-76h0m557 122h0m48 85h0m242-265h0m-462 333h0m281-430h0m110 116h0m-175 181h0m-142-256h0m-474 72h0m567 113h0m-128-226h0m197 394h0m-296-121h0m643-161h0m-650 75h0" stroke="#28dce2" stroke-width="19"/>
<path d="M1140 968h0m245 60h0m-22-332h0m-133 242h0m-360 103h0m837-204h0m-313-90h0m-59 84h0m526 159h0m-632-236h0m358 95h0m-188-96h0m-150 368h0m298-423h0m318 150h0m-1057 199h0m635-133h0m327 124h0m-696-296h0m36 112h0m324-94h0m163 103h0m-157 85h0m298 27h0m-738-23h0m-46 151h0m-47-304h0m-124 119h0m727-71h0m-57 249h0m-125-187h0m-136-134h0m-378 83h0m208-50h0m147-71h0m-313 129h0m878-18h0m-480-89h0m-91 19h0m391 61h0" stroke="#0b6a74" stroke-width="27"/>
<path d="M1140 968h0m245 60h0m-22-332h0m-133 242h0m-360 103h0m837-204h0m-313-90h0m-59 84h0m526 159h0m-632-236h0m358 95h0m-188-96h0m-150 368h0m298-423h0m318 150h0m-1057 199h0m635-133h0m327 124h0m-696-296h0m36 112h0m324-94h0m163 103h0m-157 85h0m298 27h0m-738-23h0m-46 151h0m-47-304h0m-124 119h0m727-71h0m-57 249h0m-125-187h0m-136-134h0m-378 83h0m208-50h0m147-71h0m-313 129h0m878-18h0m-480-89h0m-91 19h0m391 61h0" stroke="#28dce2" stroke-width="19"/>
<path d="M1438 767h0m-124-21h0m-387 216h0m739-107h0m-407 144h0m-172-28h0m662-97h0m-535 25h0m401-198h0m-495 404h0m281-171h0m-224 34h0m-346-78h0m246-168h0m42 413h0m392-380h0m40 347h0m-93-214h0m46-73h0m-209 95h0m-435-30h0m1021 24h0m-612 227h0m368-222h0m-324 180h0m85-261h0m213 185h0m-233-213h0m-191 136h0m116 161h0m-81 85h0m15-350h0m465 100h0m-258-147h0m-102 66h0m291-68h0m137 104h0m-766 185h0m34 5h0m58-281h0" stroke="#0b6a74" stroke-width="27"/>
<path d="M1438 767h0m-124-21h0m-387 216h0m739-107h0m-407 144h0m-172-28h0m662-97h0m-535 25h0m401-198h0m-495 404h0m281-171h0m-224 34h0m-346-78h0m246-168h0m42 413h0m392-380h0m40 347h0m-93-214h0m46-73h0m-209 95h0m-435-30h0m1021 24h0m-612 227h0m368-222h0m-324 180h0m85-261h0m213 185h0m-233-213h0m-191 136h0m116 161h0m-81 85h0m15-350h0m465 100h0m-258-147h0m-102 66h0m291-68h0m137 104h0m-766 185h0m34 5h0m58-281h0" stroke="#28dce2" stroke-width="19"/>
<path d="M1751 772h0m-961 98h0m891 148h0m-484 47h0m-104 81h0m440-233h0m-402 145h0m591-34h0m-468 164h0m-23-316h0m-385 52h0m463 177h0m429-328h0m-601 144h0m140 196h0m-260-187h0m708-114h0m-395 284h0m-237-33h0m193-97h0m39 188h0m114-32h0m-110-46h0m-427-8h0m721-104h0m-858 4h0m554 79h0m58-2h0m17 35h0m-479-3h0m148 66h0m735-159h0m17-43h0m-937 58h0m666-126h0m-678 56h0m407-180h0m30 315h0m137-91h0m-251-41h0" stroke="#0b6a74" stroke-width="27"/>
<path d="M1751 772h0m-961 98h0m891 148h0m-484 47h0m-104 81h0m440-233h0m-402 145h0m591-34h0m-468 164h0m-23-316h0m-385 52h0m463 177h0m429-328h0m-601 144h0m140 196h0m-260-187h0m708-114h0m-395 284h0m-237-33h0m193-97h0m39 188h0m114-32h0m-110-46h0m-427-8h0m721-104h0m-858 4h0m554 79h0m58-2h0m17 35h0m-479-3h0m148 66h0m735-159h0m17-43h0m-937 58h0m666-126h0m-678 56h0m407-180h0m30 315h0m137-91h0m-251-41h0" stroke="#28dce2" stroke-width="19"/>
<path d="M1120 1185h0m589-433h0m-455-24h0m-210 133h0m300-46h0m29 337h0m-307-411h0m238 420h0m-102-390h0m295 363h0m-269-163h0m306-8h0m-501 123h0m-16-58h0m91 25h0m17 119h0m128-197h0m441-200h0m-276 273h0m-377 105h0m-312-203h0m848-160h0m121 14h0m-772 0h0m-77 308h0m1028-131h0m-794-167h0m-306 121h0m255-211h0m-173 238h0m441 1h0m-301-155h0m578 153h0m-355-169h0m468 147h0m-405-29h0m-222 55h0m-47 30h0m424 26h0m-55-82h0" stroke="#0b6a74" stroke-width="27"/>
<path d="M1120 1185h0m589-433h0m-455-24h0m-210 133h0m300-46h0m29 337h0m-307-411h0m238 420h0m-102-390h0m295 363h0m-269-163h0m306-8h0m-501 123h0m-16-58h0m91 25h0m17 119h0m128-197h0m441-200h0m-276 273h0m-377 105h0m-312-203h0m848-160h0m121 14h0m-772 0h0m-77 308h0m1028-131h0m-794-167h0m-306 121h0m255-211h0m-173 238h0m441 1h0m-301-155h0m578 153h0m-355-169h0m468 147h0m-405-29h0m-222 55h0m-47 30h0m424 26h0m-55-82h0" stroke="#28dce2" stroke-width="19"/>
<path d="M1357 880h0m252 186h0m-147 67h0m-33-75h0m211 37h0m-788-117h0m699-136h0m14 31h0m-435 106h0m195 193h0m335-227h0m-89-92h0m-557-24h0m278 18h0m189 231h0m-521-247h0m507-11h0m-596 250h0m640-283h0m-284 278h0m170-107h0m-302-194h0m-97 249h0m450 30h0m18-343h0m-285 17h0m58 70h0m-254 184h0m6 8h0m154-186h0m237 338h0m-115-118h0m310 79h0m-129-107h0m-607 6h0m913-200h0m-535 227h0m235 126h0m-178-159h0m-311 109h0" stroke="#0b6a74" stroke-width="27"/>
<path d="M1357 880h0m252 186h0m-147 67h0m-33-75h0m211 37h0m-788-117h0m699-136h0m14 31h0m-435 106h0m195 193h0m335-227h0m-89-92h0m-557-24h0m278 18h0m189 231h0m-521-247h0m507-11h0m-596 250h0m640-283h0m-284 278h0m170-107h0m-302-194h0m-97 249h0m450 30h0m18-343h0m-285 17h0m58 70h0m-254 184h0m6 8h0m154-186h0m237 338h0m-115-118h0m310 79h0m-129-107h0m-607 6h0m913-200h0m-535 227h0m235 126h0m-178-159h0m-311 109h0" stroke="#28dce2" stroke-width="19"/>
<path d="M1386 715h0m-287 74h0m514 5h0m-380 12h0m175 243h0m-385 25h0m2-9h0m431 95h0m95-238h0m43-27h0m-297 145h0m35-285h0m455 116h0m-113 117h0m-269 183h0m-487-345h0m-20 121h0m732-144h0m-379 258h0m-301-15h0m398-160h0m331-118h0m-315 243h0m-101-243h0m-477 251h0m240-140h0m95 130h0m-188-59h0m423-268h0m-559 320h0m476 2h0m-238-71h0m766-113h0m-985 70h0m715-80h0m252 120h0m-185 134h0m-175 33h0m-150-269h0m-147-82h0" stroke="#0b6a74" stroke-width="27"/>
<path d="M1386 715h0m-287 74h0m514 5h0m-380 12h0m175 243h0m-385 25h0m2-9h0m431 95h0m95-238h0m43-27h0m-297 145h0m35-285h0m455 116h0m-113 117h0m-269 183h0m-487-345h0m-20 121h0m732-144h0m-379 258h0m-301-15h0m398-160h0m331-118h0m-315 243h0m-101-243h0m-477 251h0m240-140h0m95 130h0m-188-59h0m423-268h0m-559 320h0m476 2h0m-238-71h0m766-113h0m-985 70h0m715-80h0m252 120h0m-185 134h0m-175 33h0m-150-269h0m-147-82h0" stroke="#28dce2" stroke-width="19"/>
<path d="M1717 884h0m-507 4h0m122 155h0m-333-109h0m50-52h0m712 103h0m-408 58h0m76-232h0m94 32h0m339 86h0m-729-78h0m276-141h0m34 1h0m-305 419h0m-162-40h0m412-139h0m-290 7h0m552-146h0m-159 18h0m-55 269h0m-492 7h0m-67-268h0m605-17h0m60 238h0m-10 9h0m-640-63h0m59 92h0m741-97h0m4-123h0m23 77h0m-501 114h0m-459-96h0m851-14h0m-257-128h0m-392 241h0m468-176h0m94-95h0m286 89h0m-686 68h0m475-122h0" stroke="#0b6a74" stroke-width="27"/>
<path d="M1717 884h0m-507 4h0m122 155h0m-333-109h0m50-52h0m712 103h0m-408 58h0m76-232h0m94 32h0m339 86h0m-729-78h0m276-141h0m34 1h0m-305 419h0m-162-40h0m412-139h0m-290 7h0m552-146h0m-159 18h0m-55 269h0m-492 7h0m-67-268h0m605-17h0m60 238h0m-10 9h0m-640-63h0m59 92h0m741-97h0m4-123h0m23 77h0m-501 114h0m-459-96h0m851-14h0m-257-128h0m-392 241h0m468-176h0m94-95h0m286 89h0m-686 68h0m475-122h0" stroke="#28dce2" stroke-width="19"/>
<path d="M1464 1032h0m21-280h0m-700 268h0m967-170h0m-513 230h0m279-16h0m-136-350h0m-567 254h0m469 57h0m476-231h0m-354 352h0m51-184h0m367-148h0m-586-98h0m-185 241h0m272-159h0m8 234h0m-420-89h0m818-103h0m-806 225h0m52-179h0m272 171h0m-242 39h0m375 59h0m-81-385h0m-209 103h0m-15 70h0m-113 6h0m681-14h0m-417 4h0m294-168h0m-568 17h0m-193 146h0m945-57h0m-45 113h0m-520-102h0m153-44h0m-77 267h0m-326-315h0m43 96h0" stroke="#0b6a74" stroke-width="27"/>
<path d="M1464 1032h0m21-280h0m-700 268h0m967-170h0m-513 230h0m279-16h0m-136-350h0m-567 254h0m469 57h0m476-231h0m-354 352h0m51-184h0m367-148h0m-586-98h0m-185 241h0m272-159h0m8 234h0m-420-89h0m818-103h0m-806 225h0m52-179h0m272 171h0m-242 39h0m375 59h0m-81-385h0m-209 103h0m-15 70h0m-113 6h0m681-14h0m-417 4h0m294-168h0m-568 17h0m-193 146h0m945-57h0m-45 113h0m-520-102h0m153-44h0m-77 267h0m-326-315h0m43 96h0" stroke="#28dce2" stroke-width="19"/>
<path d="M924 999h0m-73-167h0m667-97h0m-196-14h0m-410 281h0m778-116h0m-646-121h0m693 197h0m-688 158h0m556-150h0m-244-302h0m-290 110h0m527-50h0m18 260h0m-204 148h0m-76-363h0m26 21h0m-578 136h0m90-96h0m537-91h0m-84 65h0m-87-64h0m523 162h0m-139 92h0m-612-61h0m113-168h0m425 135h0m163-5h0m-33 1h0m-203 3h0m-111 61h0m-409 125h0m600 51h0m-248 6h0m14-213h0m323-209h0m-743 335h0m-96-28h0m373-15h0m-134-11h0" stroke="#0b6a74" stroke-width="27"/>
<path d="M924 999h0m-73-167h0m667-97h0m-196-14h0m-410 281h0m778-116h0m-646-121h0m693 197h0m-688 158h0m556-150h0m-244-302h0m-290 110h0m527-50h0m18 260h0m-204 148h0m-76-363h0m26 21h0m-578 136h0m90-96h0m537-91h0m-84 65h0m-87-64h0m523 162h0m-139 92h0m-612-61h0m113-168h0m425 135h0m163-5h0m-33 1h0m-203 3h0m-111 61h0m-409 125h0m600 51h0m-248 6h0m14-213h0m323-209h0m-743 335h0m-96-28h0m373-15h0m-134-11h0" stroke="#28dce2" stroke-width="19"/>
<path d="M1016 962h0m284 63h0m-246-237h0m267 84h0m267 106h0m-812 18h0m1116-109h0m-220 84h0m-274 184h0m326-365h0m-246-107h0m-264 172h0m448-11h0m-611-40h0m164 181h0m-11 121h0m-81-168h0m259-243h0m321 123h0m-399 203h0m370-190h0m-585 290h0m725-317h0m-613-50h0m-220 56h0m645 14h0m-535 79h0m-57 129h0m489-145h0m-431 32h0m-341 129h0m341-190h0m-45 115h0m547-60h0m66 179h0m-228-300h0m-350 69h0m-63 109h0m777-67h0m-646 236h0" stroke="#0b6a74" stroke-width="27"/>
<path d="M1016 962h0m284 63h0m-246-237h0m267 84h0m267 106h0m-812 18h0m1116-109h0m-220 84h0m-274 184h0m326-365h0m-246-107h0m-264 172h0m448-11h0m-611-40h0m164 181h0m-11 121h0m-81-168h0m259-243h0m321 123h0m-399 203h0m370-190h0m-585 290h0m725-317h0m-613-50h0m-220 56h0m645 14h0m-535 79h0m-57 129h0m489-145h0m-431 32h0m-341 129h0m341-190h0m-45 115h0m547-60h0m66 179h0m-228-300h0m-350 69h0m-63 109h0m777-67h0m-646 236h0" stroke="#28dce2" stroke-width="19"/>
<path d="M1489 807h0m-360-51h0m-129 398h0m430-248h0m237-11h0m-519-57h0m-281 220h0m299-268h0m220 69h0m-534 205h0m346-229h0m-77-86h0m314 195h0m134-175h0m-736 234h0m723-208h0m-148 98h0m94 28h0m-271-211h0m-106 179h0m519 119h0m-369-107h0m-157 145h0m174-195h0m-335 75h0m-75 174h0m102-71h0m-154-36h0m86 17h0m109-127h0m631 144h0m-46 11h0m-415-291h0m150-5h0m155 275h0m11 9h0m-766-83h0m52-94h0m763-103h0m-64 357h0" stroke="#0b6a74" stroke-width="27"/>
<path d="M1489 807h0m-360-51h0m-129 398h0m430-248h0m237-11h0m-519-57h0m-281 220h0m299-268h0m220 69h0m-534 205h0m346-229h0m-77-86h0m314 195h0m134-175h0m-736 234h0m723-208h0m-148 98h0m94 28h0m-271-211h0m-106 179h0m519 119h0m-369-107h0m-157 145h0m174-195h0m-335 75h0m-75 174h0m102-71h0m-154-36h0m86 17h0m109-127h0m631 144h0m-46 11h0m-415-291h0m150-5h0m155 275h0m11 9h0m-766-83h0m52-94h0m763-103h0m-64 357h0" stroke="#28dce2" stroke-width="19"/>
<path d="M1445 746h0m-140 190h0m-367 149h0m-37-107h0m622-37h0m-121 48h0m-157-90h0m192 129h0m-538-147h0m249-8h0m481 222h0m-433 45h0m363-56h0m261-115h0m-517-1h0m438 93h0m-718-307h0m603 265h0m-478-288h0m153 185h0m-48 25h0m-243-137h0m-44 84h0m528 161h0m-59-241h0m-86 365h0m-452-221h0m461 214h0m252-424h0m-843 263h0m646-143h0m-339 65h0m475 113h0m-539-152h0m141 252h0m315-202h0m-116 16h0m470-89h0m48 114h0m-699-222h0" stroke="#0b6a74" stroke-width="27"/>
<path d="M1445 746h0m-140 190h0m-367 149h0m-37-107h0m622-37h0m-121 48h0m-157-90h0m192 129h0m-538-147h0m249-8h0m481 222h0m-433 45h0m363-56h0m261-115h0m-517-1h0m438 93h0m-718-307h0m603 265h0m-478-288h0m153 185h0m-48 25h0m-243-137h0m-44 84h0m528 161h0m-59-241h0m-86 365h0m-452-221h0m461 214h0m252-424h0m-843 263h0m646-143h0m-339 65h0m475 113h0m-539-152h0m141 252h0m315-202h0m-116 16h0m470-89h0m48 114h0m-699-222h0" stroke="#28dce2" stroke-width="19"/>
<path d="M1014 847h0m237 224h0m317-40h0m-595-215h0m-139 275h0m331-250h0m638 14h0m-177 28h0m-406 48h0m-127 234h0m541-241h0m-467-56h0m-18 204h0m359-156h0m59 47h0m-631 62h0m573-83h0m329-134h0m-741 196h0m61-256h0m366 221h0m-265-229h0m-285 310h0m-13-79h0m737-210h0m-893 138h0m422-93h0m550 191h0m-436 162h0m-373-170h0m145-211h0m-103 38h0m-14 220h0m573 47h0m-179-111h0m-424-103h0m793 109h0m-147-204h0m266 180h0m-199-172h0" stroke="#0b6a74" stroke-width="27"/>
<path d="M1014 847h0m237 224h0m317-40h0m-595-215h0m-139 275h0m331-250h0m638 14h0m-177 28h0m-406 48h0m-127 234h0m541-241h0m-467-56h0m-18 204h0m359-156h0m59 47h0m-631 62h0m573-83h0m329-134h0m-741 196h0m61-256h0m366 221h0m-265-229h0m-285 310h0m-13-79h0m737-210h0m-893 138h0m422-93h0m550 191h0m-436 162h0m-373-170h0m145-211h0m-103 38h0m-14 220h0m573 47h0m-179-111h0m-424-103h0m793 109h0m-147-204h0m266 180h0m-199-172h0" stroke="#28dce2" stroke-width="19"/>
<path d="M1223 911h0m252-50h0m-166-79h0m8 341h0m-41-154h0m114-242h0m-97 96h0m203-98h0m136 173h0m-536 86h0m-291 8h0m420-251h0m-38 455h0m187-202h0m116 3h0m-111-163h0m-396-43h0m597 182h0m-531 126h0m94-362h0m262 173h0m-325 60h0m384-214h0m-559 87h0m603-104h0m-318 181h0m540-8h0m-410-153h0m-231-32h0m-14 107h0m-319 134h0m364 181h0m-21-413h0m-95 248h0m754-98h0m-181-138h0m138 210h0m-891 135h0m764-347h0m-137-21h0" stroke="#0b6a74" stroke-width="27"/>
<path d="M1223 911h0m252-50h0m-166-79h0m8 341h0m-41-154h0m114-242h0m-97 96h0m203-98h0m136 173h0m-536 86h0m-291 8h0m420-251h0m-38 455h0m187-202h0m116 3h0m-111-163h0m-396-43h0m597 182h0m-531 126h0m94-362h0m262 173h0m-325 60h0m384-214h0m-559 87h0m603-104h0m-318 181h0m540-8h0m-410-153h0m-231-32h0m-14 107h0m-319 134h0m364 181h0m-21-413h0m-95 248h0m754-98h0m-181-138h0m138 210h0m-891 135h0m764-347h0m-137-21h0" stroke="#28dce2" stroke-width="19"/>
<path d="M1054 1017h0m504-117h0m-602-91h0m546 60h0" stroke="#0b6a74" stroke-width="27"/>
<path d="M1054 1017h0m504-117h0m-602-91h0m546 60h0" stroke="#28dce2" stroke-width="19"/>
</g>
<g transform="scale(0.1)" fill="none" stroke-linecap="round">
<path d="M855 554h0m11 114h0m75 24h0m361-74h0m-858 285h0m75-10h0m80 70h0m1197-519h0m-404 105h0m545 208h0m-53 15h0m-52 4h0m179 108h0m-74 56h0m30 135h0m59 47h0m-246 15h0m-97-430h0m-973 159h0m-45 75h0m-15 37h0m30 30h0m22-22h0m127 186h0m-250-117h0m-98 137h0m312 170h0m120-30h0m187-92h0m160 64h0m-13 33h0m120 127h0m397-259h0m-212 52h0m463 13h0m-385-130h0" stroke="#118c94" stroke-width="32"/>
<path d="M855 554h0m11 114h0m75 24h0m361-74h0m-858 285h0m75-10h0m80 70h0m1197-519h0m-404 105h0m545 208h0m-53 15h0m-52 4h0m179 108h0m-74 56h0m30 135h0m59 47h0m-246 15h0m-97-430h0m-973 159h0m-45 75h0m-15 37h0m30 30h0m22-22h0m127 186h0m-250-117h0m-98 137h0m312 170h0m120-30h0m187-92h0m160 64h0m-13 33h0m120 127h0m397-259h0m-212 52h0m463 13h0m-385-130h0" stroke="#1cc2c6" stroke-width="22"/>
</g>
<g transform="scale(0.1)" fill="none" stroke-linecap="round">
<path d="M3652 1325h0m884 159h0m-448-198h0m879 98h0m-754 33h0m-130-153h0m-71-96h0m611-286h0m183 560h0m-740-540h0m-235 424h0m201 219h0m-172-457h0m827 322h0m-810 100h0m79-15h0m403 125h0m188-533h0m-575 203h0m29 26h0m875 105h0m-411-158h0m-36 17h0m-102-87h0m414-166h0m-481 284h0m-392-238h0m621-10h0m74-166h0m-160 296h0m438-138h0m-851-7h0m-63 111h0m14 40h0m886-178h0m-1070 431h0m724-224h0m-141 26h0m-21-111h0m-12 171h0" stroke="#0b6a74" stroke-width="33"/>
<path d="M3652 1325h0m884 159h0m-448-198h0m879 98h0m-754 33h0m-130-153h0m-71-96h0m611-286h0m183 560h0m-740-540h0m-235 424h0m201 219h0m-172-457h0m827 322h0m-810 100h0m79-15h0m403 125h0m188-533h0m-575 203h0m29 26h0m875 105h0m-411-158h0m-36 17h0m-102-87h0m414-166h0m-481 284h0m-392-238h0m621-10h0m74-166h0m-160 296h0m438-138h0m-851-7h0m-63 111h0m14 40h0m886-178h0m-1070 431h0m724-224h0m-141 26h0m-21-111h0m-12 171h0" stroke="#28dce2" stroke-width="24"/>
<path d="M4332 870h0m64 597h0m-62-113h0m-650 48h0m804 75h0m-365-145h0m130 229h0m-421-128h0m896-208h0m-810 95h0m486 129h0m49 32h0m-83-280h0m-602 153h0m723 228h0m391-364h0m-264 45h0m-756 256h0m117 62h0m93-584h0m410 28h0m484 190h0m-1199-20h0m266 212h0m325-550h0m-746 487h0m564-511h0m-383 501h0m1253 37h0m-302 148h0m-186-137h0m-253-411h0m-555 402h0m971 20h0m-1034-195h0m1022-67h0m-300 212h0m476-177h0m-587-23h0m-543 64h0" stroke="#0b6a74" stroke-width="33"/>
<path d="M4332 870h0m64 597h0m-62-113h0m-650 48h0m804 75h0m-365-145h0m130 229h0m-421-128h0m896-208h0m-810 95h0m486 129h0m49 32h0m-83-280h0m-602 153h0m723 228h0m391-364h0m-264 45h0m-756 256h0m117 62h0m93-584h0m410 28h0m484 190h0m-1199-20h0m266 212h0m325-550h0m-746 487h0m564-511h0m-383 501h0m1253 37h0m-302 148h0m-186-137h0m-253-411h0m-555 402h0m971 20h0m-1034-195h0m1022-67h0m-300 212h0m476-177h0m-587-23h0m-543 64h0" stroke="#28dce2" stroke-width="24"/>
<path d="M4585 1233h0m-872 235h0m707-420h0m-680 138h0m966 51h0m-274-248h0m85 45h0m123-132h0m-207-33h0m-370-56h0m334 610h0m21 100h0m406-93h0m-948 55h0m1069-118h0m-732-108h0m-333 213h0m141-287h0m-193 168h0m643-303h0m199 48h0m-488-123h0m-540 179h0m16 48h0m1377 186h0m-903-113h0m-145-37h0m277 222h0m47-279h0m353-308h0m-599-22h0m329 47h0m-60-114h0m9 586h0m296-406h0m-676 203h0m168 371h0m814-259h0m-1043 6h0m-76 247h0" stroke="#0b6a74" stroke-width="33"/>
<path d="M4585 1233h0m-872 235h0m707-420h0m-680 138h0m966 51h0m-274-248h0m85 45h0m123-132h0m-207-33h0m-370-56h0m334 610h0m21 100h0m406-93h0m-948 55h0m1069-118h0m-732-108h0m-333 213h0m141-287h0m-193 168h0m643-303h0m199 48h0m-488-123h0m-540 179h0m16 48h0m1377 186h0m-903-113h0m-145-37h0m277 222h0m47-279h0m353-308h0m-599-22h0m329 47h0m-60-114h0m9 586h0m296-406h0m-676 203h0m168 371h0m814-259h0m-1043 6h0m-76 247h0" stroke="#28dce2" stroke-width="24"/>
<path d="M4101 1083h0m272-145h0m628 338h0m-1011-348h0m770 81h0m1 326h0m-766 104h0m70-402h0m224 83h0m-630 158h0m889-48h0m-398-155h0m893 236h0m-947-64h0m719-107h0m-594-268h0m-244 199h0m612-59h0m9-52h0m-563 417h0m-165 15h0m126-375h0m441-215h0m-369 736h0m442-589h0m89 234h0m-187-317h0m597 468h0m-604-207h0m-359-134h0m209 138h0m-207 76h0m556-147h0m124 77h0m-448 9h0m-148-334h0m700 649h0m-16-403h0m-429-36h0m275 533h0" stroke="#0b6a74" stroke-width="33"/>
<path d="M4101 1083h0m272-145h0m628 338h0m-1011-348h0m770 81h0m1 326h0m-766 104h0m70-402h0m224 83h0m-630 158h0m889-48h0m-398-155h0m893 236h0m-947-64h0m719-107h0m-594-268h0m-244 199h0m612-59h0m9-52h0m-563 417h0m-165 15h0m126-375h0m441-215h0m-369 736h0m442-589h0m89 234h0m-187-317h0m597 468h0m-604-207h0m-359-134h0m209 138h0m-207 76h0m556-147h0m124 77h0m-448 9h0m-148-334h0m700 649h0m-16-403h0m-429-36h0m275 533h0" stroke="#28dce2" stroke-width="24"/>
<path d="M3934 1522h0m31 48h0m340-218h0m592-37h0m-849-70h0m-112-260h0m463-65h0m168 591h0m-717 27h0m632-674h0m282 384h0m-423 266h0m127-481h0m453 414h0m34-192h0m-121-130h0m-754-59h0m180 50h0m292-27h0m-234 292h0m-175-117h0m674 35h0m-568-122h0m-98 126h0m100 288h0m-139-363h0m37 244h0m148-604h0m109 539h0m154-354h0m-231-2h0m-402 525h0m-48-405h0m579-93h0m15 357h0m425-18h0m-646-522h0m-631 496h0m835-91h0m149-157h0" stroke="#0b6a74" stroke-width="33"/>
<path d="M3934 1522h0m31 48h0m340-218h0m592-37h0m-849-70h0m-112-260h0m463-65h0m168 591h0m-717 27h0m632-674h0m282 384h0m-423 266h0m127-481h0m453 414h0m34-192h0m-121-130h0m-754-59h0m180 50h0m292-27h0m-234 292h0m-175-117h0m674 35h0m-568-122h0m-98 126h0m100 288h0m-139-363h0m37 244h0m148-604h0m109 539h0m154-354h0m-231-2h0m-402 525h0m-48-405h0m579-93h0m15 357h0m425-18h0m-646-522h0m-631 496h0m835-91h0m149-157h0" stroke="#28dce2" stroke-width="24"/>
<path d="M4290 745h0m-113 45h0m-352 724h0m423-316h0m263-332h0m-730 231h0m77 362h0m988-187h0m19-143h0m-1084 279h0m307-627h0m536 413h0m-757 217h0m433-249h0m-219-64h0m223 196h0m-384-278h0m221 211h0m589 253h0m-330-447h0m-412 30h0m1072 213h0m-375-176h0m-213 387h0m-21 78h0m135-514h0m-159 436h0m-97-205h0m-45-197h0m422 121h0m-382 30h0m-261-209h0m300-68h0m-645 491h0m924-299h0m-793-114h0m549-19h0m-167-100h0m-348 452h0m520-211h0" stroke="#0b6a74" stroke-width="33"/>
<path d="M4290 745h0m-113 45h0m-352 724h0m423-316h0m263-332h0m-730 231h0m77 362h0m988-187h0m19-143h0m-1084 279h0m307-627h0m536 413h0m-757 217h0m433-249h0m-219-64h0m223 196h0m-384-278h0m221 211h0m589 253h0m-330-447h0m-412 30h0m1072 213h0m-375-176h0m-213 387h0m-21 78h0m135-514h0m-159 436h0m-97-205h0m-45-197h0m422 121h0m-382 30h0m-261-209h0m300-68h0m-645 491h0m924-299h0m-793-114h0m549-19h0m-167-100h0m-348 452h0m520-211h0" stroke="#28dce2" stroke-width="24"/>
<path d="M4603 903h0m-601 177h0m39 268h0m548 248h0m-467-296h0m-241 43h0m639-445h0m138 267h0m-560 100h0m419-409h0m-840 309h0m1215 107h0m-534-345h0m-343 522h0m544-580h0m195 552h0m-1054-138h0m137-194h0m1021 206h0m76-139h0m-835-277h0m109 74h0m574 62h0m-641-210h0m-112 178h0m-1-99h0m96 562h0m-233-416h0m652 434h0m-494-413h0m424 301h0m-272-504h0m127 189h0m-273 462h0m-108-374h0m946 365h0m-407-482h0m507 319h0m-688-293h0m277 127h0" stroke="#0b6a74" stroke-width="33"/>
<path d="M4603 903h0m-601 177h0m39 268h0m548 248h0m-467-296h0m-241 43h0m639-445h0m138 267h0m-560 100h0m419-409h0m-840 309h0m1215 107h0m-534-345h0m-343 522h0m544-580h0m195 552h0m-1054-138h0m137-194h0m1021 206h0m76-139h0m-835-277h0m109 74h0m574 62h0m-641-210h0m-112 178h0m-1-99h0m96 562h0m-233-416h0m652 434h0m-494-413h0m424 301h0m-272-504h0m127 189h0m-273 462h0m-108-374h0m946 365h0m-407-482h0m507 319h0m-688-293h0m277 127h0" stroke="#28dce2" stroke-width="24"/>
<path d="M3770 1148h0m991 334h0m-1052-194h0m-37 128h0m1023-74h0m340 13h0m-1284-58h0m674-95h0m405 206h0m-97-71h0m-808-151h0m790 18h0m129 94h0m-792-467h0m31 539h0m371-509h0m-474 42h0m98-102h0m166 477h0m-96 144h0m-181 111h0m354-368h0m-94 290h0m128-318h0m322 239h0m-606-421h0m42 375h0m567-292h0m79-95h0m-913 587h0m971-360h0m-572-77h0m383 5h0m-916 141h0m507-326h0m580 177h0m-791-84h0m216 470h0m745-196h0m-1277-1h0" stroke="#0b6a74" stroke-width="33"/>
<path d="M3770 1148h0m991 334h0m-1052-194h0m-37 128h0m1023-74h0m340 13h0m-1284-58h0m674-95h0m405 206h0m-97-71h0m-808-151h0m790 18h0m129 94h0m-792-467h0m31 539h0m371-509h0m-474 42h0m98-102h0m166 477h0m-96 144h0m-181 111h0m354-368h0m-94 290h0m128-318h0m322 239h0m-606-421h0m42 375h0m567-292h0m79-95h0m-913 587h0m971-360h0m-572-77h0m383 5h0m-916 141h0m507-326h0m580 177h0m-791-84h0m216 470h0m745-196h0m-1277-1h0" stroke="#28dce2" stroke-width="24"/>
<path d="M4361 1192h0m-109 181h0m17-365h0m-50 378h0m159-493h0m379 212h0m-215 327h0m209-56h0m-693-46h0m107-447h0m-35 286h0m124 188h0m10 70h0m-638-258h0m272 303h0m427-37h0m-576-202h0m21 7h0m505-397h0m525 402h0m-58 174h0m-792 21h0m721 136h0m-770-428h0m422-285h0m589 420h0m-574-156h0m-500 75h0m667 414h0m-92-180h0m-52-470h0m-413 151h0m684 296h0m-412-481h0m169 42h0m-148-137h0m766 510h0m-977-311h0m-124 548h0m116-305h0" stroke="#0b6a74" stroke-width="33"/>
<path d="M4361 1192h0m-109 181h0m17-365h0m-50 378h0m159-493h0m379 212h0m-215 327h0m209-56h0m-693-46h0m107-447h0m-35 286h0m124 188h0m10 70h0m-638-258h0m272 303h0m427-37h0m-576-202h0m21 7h0m505-397h0m525 402h0m-58 174h0m-792 21h0m721 136h0m-770-428h0m422-285h0m589 420h0m-574-156h0m-500 75h0m667 414h0m-92-180h0m-52-470h0m-413 151h0m684 296h0m-412-481h0m169 42h0m-148-137h0m766 510h0m-977-311h0m-124 548h0m116-305h0" stroke="#28dce2" stroke-width="24"/>
<path d="M4742 956h0m-60 465h0m-479-332h0m308 337h0m-356-648h0m-30-3h0m-9 399h0m-117-234h0m397 179h0m460 250h0m-360-484h0m178 302h0m-447-65h0m402 418h0m-805-62h0m176-115h0m-257-40h0m372-100h0m449-193h0m-581 295h0m341-234h0m-201-109h0m829 408h0m-752-170h0m557-180h0m-620-215h0m546 289h0m-409 327h0m711-276h0m-733-56h0m-541 107h0m657-215h0m396 512h0m-193 2h0m-61 8h0m-208-760h0m174 489h0m18-18h0m168 204h0m-560-323h0" stroke="#0b6a74" stroke-width="33"/>
<path d="M4742 956h0m-60 465h0m-479-332h0m308 337h0m-356-648h0m-30-3h0m-9 399h0m-117-234h0m397 179h0m460 250h0m-360-484h0m178 302h0m-447-65h0m402 418h0m-805-62h0m176-115h0m-257-40h0m372-100h0m449-193h0m-581 295h0m341-234h0m-201-109h0m829 408h0m-752-170h0m557-180h0m-620-215h0m546 289h0m-409 327h0m711-276h0m-733-56h0m-541 107h0m657-215h0m396 512h0m-193 2h0m-61 8h0m-208-760h0m174 489h0m18-18h0m168 204h0m-560-323h0" stroke="#28dce2" stroke-width="24"/>
<path d="M4621 1335h0m-700 91h0m705-58h0m-470-610h0m-95 371h0m-45 391h0m-127-18h0m298-93h0m-211-291h0m382 229h0m212 202h0m-924-116h0m831 69h0m-805-138h0m475-329h0m482-159h0m269 501h0m-438-319h0m140-23h0m61-28h0m248 429h0m-448-45h0m-464-145h0m751-48h0m-590 110h0m-6-176h0m-68 71h0m169-207h0m66 85h0m-678 119h0m553-177h0m-453 97h0m170 414h0m831-149h0m-865 151h0m905-555h0m24 418h0m-585-108h0m-62-441h0m338 641h0" stroke="#0b6a74" stroke-width="33"/>
<path d="M4621 1335h0m-700 91h0m705-58h0m-470-610h0m-95 371h0m-45 391h0m-127-18h0m298-93h0m-211-291h0m382 229h0m212 202h0m-924-116h0m831 69h0m-805-138h0m475-329h0m482-159h0m269 501h0m-438-319h0m140-23h0m61-28h0m248 429h0m-448-45h0m-464-145h0m751-48h0m-590 110h0m-6-176h0m-68 71h0m169-207h0m66 85h0m-678 119h0m553-177h0m-453 97h0m170 414h0m831-149h0m-865 151h0m905-555h0m24 418h0m-585-108h0m-62-441h0m338 641h0" stroke="#28dce2" stroke-width="24"/>
<path d="M3828 1113h0m99 111h0m-36-65h0m680-187h0m-24 91h0m313 151h0m-447 98h0m249-240h0m-633 32h0m76 499h0m850-424h0m-1322 134h0m568-81h0m738 128h0m-931 108h0m114-329h0m-227 428h0m-62-20h0m576-543h0m22 437h0m157-163h0m-438 298h0m334-399h0m-361-26h0m259 258h0m-320-558h0m263 688h0m154-588h0m-645 316h0m545-212h0m-525 194h0m996-179h0m-532 187h0m-157-319h0m462 588h0m40-314h0m-410-399h0m162 368h0m-244-176h0m465-30h0" stroke="#0b6a74" stroke-width="33"/>
<path d="M3828 1113h0m99 111h0m-36-65h0m680-187h0m-24 91h0m313 151h0m-447 98h0m249-240h0m-633 32h0m76 499h0m850-424h0m-1322 134h0m568-81h0m738 128h0m-931 108h0m114-329h0m-227 428h0m-62-20h0m576-543h0m22 437h0m157-163h0m-438 298h0m334-399h0m-361-26h0m259 258h0m-320-558h0m263 688h0m154-588h0m-645 316h0m545-212h0m-525 194h0m996-179h0m-532 187h0m-157-319h0m462 588h0m40-314h0m-410-399h0m162 368h0m-244-176h0m465-30h0" stroke="#28dce2" stroke-width="24"/>
<path d="M3684 1355h0m851-424h0m-361 162h0m-460 290h0m73 8h0m430-145h0m440-252h0m-547 296h0m124-315h0m606 468h0m147-88h0m-618 30h0m-442 84h0m290-176h0m43 12h0m-121-362h0m262 540h0m-173-660h0m556 228h0m-781 402h0m710 124h0m106-482h0m-500-166h0m-699 324h0m448-198h0m543 396h0m-27-470h0m346 429h0m-930-179h0m323-298h0m-199 618h0m152-300h0m64 354h0m-455-315h0m846-174h0m122 364h0m-314-164h0m467 79h0m-327-146h0m-501 273h0" stroke="#0b6a74" stroke-width="33"/>
<path d="M3684 1355h0m851-424h0m-361 162h0m-460 290h0m73 8h0m430-145h0m440-252h0m-547 296h0m124-315h0m606 468h0m147-88h0m-618 30h0m-442 84h0m290-176h0m43 12h0m-121-362h0m262 540h0m-173-660h0m556 228h0m-781 402h0m710 124h0m106-482h0m-500-166h0m-699 324h0m448-198h0m543 396h0m-27-470h0m346 429h0m-930-179h0m323-298h0m-199 618h0m152-300h0m64 354h0m-455-315h0m846-174h0m122 364h0m-314-164h0m467 79h0m-327-146h0m-501 273h0" stroke="#28dce2" stroke-width="24"/>
<path d="M4497 1361h0m-106-2h0m-400-57h0m650 258h0m-531-549h0m-232 443h0m723-587h0m11 548h0m228-319h0m-703 512h0m-186-361h0m129-157h0m225-102h0m83 508h0m-247-173h0m-321-35h0m739 231h0m-617-453h0m87 152h0m839-8h0m-1141 14h0m350 259h0m292-332h0m-284 229h0m-439-159h0m201 209h0m468 124h0m458-601h0m-395-121h0m-102 201h0m19-125h0m592 557h0m-712-210h0m-22-502h0m-13 200h0m431 451h0m-236-510h0m-107 516h0m-37-97h0m433-295h0" stroke="#0b6a74" stroke-width="33"/>
<path d="M4497 1361h0m-106-2h0m-400-57h0m650 258h0m-531-549h0m-232 443h0m723-587h0m11 548h0m228-319h0m-703 512h0m-186-361h0m129-157h0m225-102h0m83 508h0m-247-173h0m-321-35h0m739 231h0m-617-453h0m87 152h0m839-8h0m-1141 14h0m350 259h0m292-332h0m-284 229h0m-439-159h0m201 209h0m468 124h0m458-601h0m-395-121h0m-102 201h0m19-125h0m592 557h0m-712-210h0m-22-502h0m-13 200h0m431 451h0m-236-510h0m-107 516h0m-37-97h0m433-295h0" stroke="#28dce2" stroke-width="24"/>
<path d="M4382 806h0m-775 422h0m1118 287h0m34-157h0m-832 5h0m13-190h0m404 460h0m-243-317h0m442 83h0m-369-338h0m40 275h0m100-609h0m63 582h0m367 78h0m-200 139h0m-61-489h0m-557 443h0m1133-174h0m-700 98h0m-327-56h0m-55-26h0m670-193h0m264-12h0m-3 50h0m-98 80h0m-203 32h0m347 60h0m-779-449h0m-263 160h0m352-38h0m560 24h0m-966 325h0m245-551h0m-47 584h0m652 5h0m-1036-94h0m1087-22h0m-843-67h0m745 31h0m-511 271h0" stroke="#0b6a74" stroke-width="33"/>
<path d="M4382 806h0m-775 422h0m1118 287h0m34-157h0m-832 5h0m13-190h0m404 460h0m-243-317h0m442 83h0m-369-338h0m40 275h0m100-609h0m63 582h0m367 78h0m-200 139h0m-61-489h0m-557 443h0m1133-174h0m-700 98h0m-327-56h0m-55-26h0m670-193h0m264-12h0m-3 50h0m-98 80h0m-203 32h0m347 60h0m-779-449h0m-263 160h0m352-38h0m560 24h0m-966 325h0m245-551h0m-47 584h0m652 5h0m-1036-94h0m1087-22h0m-843-67h0m745 31h0m-511 271h0" stroke="#28dce2" stroke-width="24"/>
<path d="M4366 1467h0m-370 29h0m545-356h0m71 101h0m-284-320h0m-208 507h0m723-287h0m-843 135h0m-402-75h0m695 111h0m172-353h0m242 420h0m-463 30h0m374-17h0m-536-484h0m393 431h0m-486-63h0m700-44h0m-134-235h0m394 469h0m-1136 5h0m46 8h0m455-207h0m-375 301h0m85-623h0m-41 395h0m33 60h0m653-424h0m-369 240h0m419-270h0m-450 696h0m-374-388h0m493-166h0m113-87h0m205 44h0m-793 126h0m392-233h0m306 367h0m59 125h0m-334-619h0" stroke="#0b6a74" stroke-width="33"/>
<path d="M4366 1467h0m-370 29h0m545-356h0m71 101h0m-284-320h0m-208 507h0m723-287h0m-843 135h0m-402-75h0m695 111h0m172-353h0m242 420h0m-463 30h0m374-17h0m-536-484h0m393 431h0m-486-63h0m700-44h0m-134-235h0m394 469h0m-1136 5h0m46 8h0m455-207h0m-375 301h0m85-623h0m-41 395h0m33 60h0m653-424h0m-369 240h0m419-270h0m-450 696h0m-374-388h0m493-166h0m113-87h0m205 44h0m-793 126h0m392-233h0m306 367h0m59 125h0m-334-619h0" stroke="#28dce2" stroke-width="24"/>
<path d="M4652 1035h0m-972 342h0m534 106h0m223-692h0m112 487h0m-97 242h0m-527-140h0m22-1h0m659 206h0m-237-501h0m-477 319h0m-158-200h0m857 59h0m-240 290h0m65-697h0m-45 687h0m492-128h0m-492-253h0m311 76h0m-345-271h0m582 261h0m15 69h0m-300 6h0m-664-196h0m584 9h0m-678 237h0m492 125h0m237-80h0m-362-253h0m416 443h0m-605-40h0m56-507h0m-170 53h0m183-211h0m-67 603h0m142-350h0m-410 145h0m740-427h0m118 485h0m-447-58h0" stroke="#0b6a74" stroke-width="33"/>
<path d="M4652 1035h0m-972 342h0m534 106h0m223-692h0m112 487h0m-97 242h0m-527-140h0m22-1h0m659 206h0m-237-501h0m-477 319h0m-158-200h0m857 59h0m-240 290h0m65-697h0m-45 687h0m492-128h0m-492-253h0m311 76h0m-345-271h0m582 261h0m15 69h0m-300 6h0m-664-196h0m584 9h0m-678 237h0m492 125h0m237-80h0m-362-253h0m416 443h0m-605-40h0m56-507h0m-170 53h0m183-211h0m-67 603h0m142-350h0m-410 145h0m740-427h0m118 485h0m-447-58h0" stroke="#28dce2" stroke-width="24"/>
<path d="M4167 1276h0m78-197h0m475 94h0m-253-318h0m-72 256h0m-762 157h0m414 198h0m-161 59h0m404-267h0m443-242h0m-184 313h0m-199-127h0m-111 357h0m-212-90h0m554-435h0m-53 128h0m-768 116h0m537 26h0m72-449h0m-583 279h0m1109 96h0m-1183 143h0m411-185h0m876 128h0m-590-338h0m420 373h0m-865 97h0m224-229h0m359-15h0m-332-254h0m-231 553h0m-216 0h0m694-95h0m-441-13h0m-112 39h0m635-544h0m-203 392h0m-229 246h0m534-322h0m-62 300h0" stroke="#0b6a74" stroke-width="33"/>
<path d="M4167 1276h0m78-197h0m475 94h0m-253-318h0m-72 256h0m-762 157h0m414 198h0m-161 59h0m404-267h0m443-242h0m-184 313h0m-199-127h0m-111 357h0m-212-90h0m554-435h0m-53 128h0m-768 116h0m537 26h0m72-449h0m-583 279h0m1109 96h0m-1183 143h0m411-185h0m876 128h0m-590-338h0m420 373h0m-865 97h0m224-229h0m359-15h0m-332-254h0m-231 553h0m-216 0h0m694-95h0m-441-13h0m-112 39h0m635-544h0m-203 392h0m-229 246h0m534-322h0m-62 300h0" stroke="#28dce2" stroke-width="24"/>
<path d="M4019 1316h0m-37-126h0m740 275h0m-327-351h0m-32-86h0m-174 449h0m-498-343h0m771-23h0m18 187h0m397 73h0m-1029 124h0m245 118h0m193-220h0m438-288h0m-477 403h0m565-408h0m-558-114h0m-389 322h0m903 149h0m8-332h0m-407 474h0m145-550h0m255 243h0m-657 139h0m-31 11h0m462-452h0m-87 512h0m-331-489h0m4 297h0m236-329h0m481 377h0m-188-400h0m-387-155h0m421 509h0m-113-195h0m-59 70h0m-18-395h0m-232 471h0m668-3h0m-1182 40h0" stroke="#0b6a74" stroke-width="33"/>
<path d="M4019 1316h0m-37-126h0m740 275h0m-327-351h0m-32-86h0m-174 449h0m-498-343h0m771-23h0m18 187h0m397 73h0m-1029 124h0m245 118h0m193-220h0m438-288h0m-477 403h0m565-408h0m-558-114h0m-389 322h0m903 149h0m8-332h0m-407 474h0m145-550h0m255 243h0m-657 139h0m-31 11h0m462-452h0m-87 512h0m-331-489h0m4 297h0m236-329h0m481 377h0m-188-400h0m-387-155h0m421 509h0m-113-195h0m-59 70h0m-18-395h0m-232 471h0m668-3h0m-1182 40h0" stroke="#28dce2" stroke-width="24"/>
<path d="M4356 1592h0m-325-169h0m-19-310h0m-281 254h0m443-616h0m280 224h0m454 260h0m-609 261h0m-488-197h0m708-276h0m-333 279h0m730 29h0m-1079 85h0m29-355h0m571 209h0m346 67h0m-490-275h0m0 302h0m512-264h0m233 125h0m-1133 118h0m107-266h0m-246 392h0m809-344h0m-343-129h0m125 526h0m-115-317h0m-549-53h0m117 97h0m628-232h0m-167-138h0m454 635h0m-425-715h0m-492 618h0m472 51h0m-125-257h0m225 350h0m-271-637h0m-320 494h0m882-106h0" stroke="#0b6a74" stroke-width="33"/>
<path d="M4356 1592h0m-325-169h0m-19-310h0m-281 254h0m443-616h0m280 224h0m454 260h0m-609 261h0m-488-197h0m708-276h0m-333 279h0m730 29h0m-1079 85h0m29-355h0m571 209h0m346 67h0m-490-275h0m0 302h0m512-264h0m233 125h0m-1133 118h0m107-266h0m-246 392h0m809-344h0m-343-129h0m125 526h0m-115-317h0m-549-53h0m117 97h0m628-232h0m-167-138h0m454 635h0m-425-715h0m-492 618h0m472 51h0m-125-257h0m225 350h0m-271-637h0m-320 494h0m882-106h0" stroke="#28dce2" stroke-width="24"/>
<path d="M4463 945h0m-418 331h0m15-309h0m-52-75h0m90-35h0m406 358h0m16-233h0m-551 425h0m918-56h0m-751-308h0m-416 82h0m424 328h0m103 66h0m406-244h0m-625-262h0m515 174h0m241-76h0m-825 232h0m171 21h0m-203-380h0m1000 443h0m-473-192h0m132-291h0m-338-67h0m509 262h0m-180-46h0m290 320h0m-408 53h0m-539 98h0m683-588h0m111-26h0m-873 248h0m248-69h0m857 78h0m-690 128h0m5-56h0m178-457h0m-172 758h0m77-114h0m316-283h0" stroke="#0b6a74" stroke-width="33"/>
<path d="M4463 945h0m-418 331h0m15-309h0m-52-75h0m90-35h0m406 358h0m16-233h0m-551 425h0m918-56h0m-751-308h0m-416 82h0m424 328h0m103 66h0m406-244h0m-625-262h0m515 174h0m241-76h0m-825 232h0m171 21h0m-203-380h0m1000 443h0m-473-192h0m132-291h0m-338-67h0m509 262h0m-180-46h0m290 320h0m-408 53h0m-539 98h0m683-588h0m111-26h0m-873 248h0m248-69h0m857 78h0m-690 128h0m5-56h0m178-457h0m-172 758h0m77-114h0m316-283h0" stroke="#28dce2" stroke-width="24"/>
<path d="M4899 1299h0m-453 146h0m-717-300h0m723 436h0m-579-386h0m-61 143h0m965 140h0m-1008 42h0m381-57h0m11-354h0m461 187h0m82-337h0m-300-35h0m-231 341h0m-491 59h0m539-31h0m173-459h0m-220 679h0m-303-188h0m225-540h0m166 666h0m283-573h0m-217 624h0m-377-296h0m379 353h0m91-780h0m318 403h0m-875-33h0m150 4h0m518-23h0m-480 257h0m976-59h0m-532-502h0m-782 437h0m796-157h0m-575 226h0m917-195h0m-21 259h0m-845 61h0m169-392h0" stroke="#0b6a74" stroke-width="33"/>
<path d="M4899 1299h0m-453 146h0m-717-300h0m723 436h0m-579-386h0m-61 143h0m965 140h0m-1008 42h0m381-57h0m11-354h0m461 187h0m82-337h0m-300-35h0m-231 341h0m-491 59h0m539-31h0m173-459h0m-220 679h0m-303-188h0m225-540h0m166 666h0m283-573h0m-217 624h0m-377-296h0m379 353h0m91-780h0m318 403h0m-875-33h0m150 4h0m518-23h0m-480 257h0m976-59h0m-532-502h0m-782 437h0m796-157h0m-575 226h0m917-195h0m-21 259h0m-845 61h0m169-392h0" stroke="#28dce2" stroke-width="24"/>
<path d="M4661 1375h0m-312 199h0m174-278h0m162-245h0m-588 522h0m346-373h0m-126 338h0m-444-454h0m367-135h0m-466 388h0m1004-29h0m-798-98h0m-75-174h0m661 123h0m-291-237h0m216-18h0m-470 149h0m758 217h0m-592-305h0m395-61h0m48 164h0m-23 21h0m-156 376h0m-497-213h0m37 263h0m38-577h0m515 43h0m-604 10h0m-119 228h0m384 355h0m-274-332h0m305 76h0m-534 42h0m39 34h0m105 95h0m226-418h0m92-195h0m195 282h0m678 80h0m-974 187h0" stroke="#0b6a74" stroke-width="33"/>
<path d="M4661 1375h0m-312 199h0m174-278h0m162-245h0m-588 522h0m346-373h0m-126 338h0m-444-454h0m367-135h0m-466 388h0m1004-29h0m-798-98h0m-75-174h0m661 123h0m-291-237h0m216-18h0m-470 149h0m758 217h0m-592-305h0m395-61h0m48 164h0m-23 21h0m-156 376h0m-497-213h0m37 263h0m38-577h0m515 43h0m-604 10h0m-119 228h0m384 355h0m-274-332h0m305 76h0m-534 42h0m39 34h0m105 95h0m226-418h0m92-195h0m195 282h0m678 80h0m-974 187h0" stroke="#28dce2" stroke-width="24"/>
<path d="M4432 930h0m-303 592h0m396-694h0m-321 39h0m642 369h0m-314 115h0m-501 172h0m262-125h0m-450-176h0m786 175h0m-863 31h0m669 194h0m-233-826h0m280 654h0m9-518h0m-423 437h0m663-426h0m-643 404h0m109-438h0m176 102h0m276-87h0m-598 146h0m64 345h0m718-77h0m-1038-72h0m871 71h0m-586-468h0m150 732h0m-154-42h0m-411-228h0m1136-145h0m37 23h0m-319 39h0m478-36h0m47 85h0m-592 293h0m373-116h0m-603 61h0m514-324h0m-736 14h0" stroke="#0b6a74" stroke-width="33"/>
<path d="M4432 930h0m-303 592h0m396-694h0m-321 39h0m642 369h0m-314 115h0m-501 172h0m262-125h0m-450-176h0m786 175h0m-863 31h0m669 194h0m-233-826h0m280 654h0m9-518h0m-423 437h0m663-426h0m-643 404h0m109-438h0m176 102h0m276-87h0m-598 146h0m64 345h0m718-77h0m-1038-72h0m871 71h0m-586-468h0m150 732h0m-154-42h0m-411-228h0m1136-145h0m37 23h0m-319 39h0m478-36h0m47 85h0m-592 293h0m373-116h0m-603 61h0m514-324h0m-736 14h0" stroke="#28dce2" stroke-width="24"/>
<path d="M4600 1366h0m-350-614h0m-143 156h0m205 578h0m275-191h0m-483 115h0m294-203h0m19-366h0m-7 435h0m387-109h0m-545 368h0m5-750h0m-446 566h0m173-220h0m441 434h0m211-561h0m-440 455h0m802-58h0m-231-169h0m-803 191h0m362-18h0m117-286h0m425 179h0m-637 40h0m-448-28h0m994 194h0m-538-21h0m-405-431h0m-18 123h0m204 31h0m20-277h0m-3 172h0m114-84h0m574 423h0m-740-409h0m-82 506h0m844-362h0m-664-2h0m127-419h0m-154 764h0" stroke="#0b6a74" stroke-width="33"/>
<path d="M4600 1366h0m-350-614h0m-143 156h0m205 578h0m275-191h0m-483 115h0m294-203h0m19-366h0m-7 435h0m387-109h0m-545 368h0m5-750h0m-446 566h0m173-220h0m441 434h0m211-561h0m-440 455h0m802-58h0m-231-169h0m-803 191h0m362-18h0m117-286h0m425 179h0m-637 40h0m-448-28h0m994 194h0m-538-21h0m-405-431h0m-18 123h0m204 31h0m20-277h0m-3 172h0m114-84h0m574 423h0m-740-409h0m-82 506h0m844-362h0m-664-2h0m127-419h0m-154 764h0" stroke="#28dce2" stroke-width="24"/>
<path d="M4526 883h0m-27 280h0m-642 230h0m941-215h0m-6 255h0m-384-640h0m-227 134h0m-205 9h0m695 615h0m-649-263h0m110-70h0m498-206h0m-278 248h0m-351-52h0m-167-57h0m840-78h0m-97-76h0m-688 192h0m531 113h0m-225-499h0m607 521h0m-461-320h0m669 301h0m-909-108h0m197-201h0m-631 139h0m450-274h0m254 31h0m296 163h0m-211-249h0m-236 172h0m329 627h0m-648-477h0m520 208h0m528-14h0m-1160-230h0m728 264h0m-290-78h0m399-110h0m256 17h0" stroke="#0b6a74" stroke-width="33"/>
<path d="M4526 883h0m-27 280h0m-642 230h0m941-215h0m-6 255h0m-384-640h0m-227 134h0m-205 9h0m695 615h0m-649-263h0m110-70h0m498-206h0m-278 248h0m-351-52h0m-167-57h0m840-78h0m-97-76h0m-688 192h0m531 113h0m-225-499h0m607 521h0m-461-320h0m669 301h0m-909-108h0m197-201h0m-631 139h0m450-274h0m254 31h0m296 163h0m-211-249h0m-236 172h0m329 627h0m-648-477h0m520 208h0m528-14h0m-1160-230h0m728 264h0m-290-78h0m399-110h0m256 17h0" stroke="#28dce2" stroke-width="24"/>
<path d="M4480 1204h0m465 23h0m-882-336h0m393 379h0m-180-460h0m-194 651h0m-207-237h0m-199 202h0m368-466h0m-173 464h0m-96-265h0m815-159h0m-473 547h0m430-268h0m-879-24h0m809-286h0m-778 367h0m596-529h0m222 512h0m-192-403h0m-8 527h0m-160-357h0m453 284h0m-358-280h0m-53-334h0m297 520h0m-699-107h0m649 246h0m-731 70h0m977-580h0m-540 374h0m478 299h0m261-135h0m-1116-124h0m281 255h0m36-570h0m-180 273h0m499 112h0m125-160h0m-11-273h0" stroke="#0b6a74" stroke-width="33"/>
<path d="M4480 1204h0m465 23h0m-882-336h0m393 379h0m-180-460h0m-194 651h0m-207-237h0m-199 202h0m368-466h0m-173 464h0m-96-265h0m815-159h0m-473 547h0m430-268h0m-879-24h0m809-286h0m-778 367h0m596-529h0m222 512h0m-192-403h0m-8 527h0m-160-357h0m453 284h0m-358-280h0m-53-334h0m297 520h0m-699-107h0m649 246h0m-731 70h0m977-580h0m-540 374h0m478 299h0m261-135h0m-1116-124h0m281 255h0m36-570h0m-180 273h0m499 112h0m125-160h0m-11-273h0" stroke="#28dce2" stroke-width="24"/>
<path d="M4691 1287h0m-823-58h0m98 323h0m861-478h0m-681-142h0m869 393h0m-1277 141h0m696-383h0m-247 279h0m266-228h0m408 204h0m-580-224h0m-13 425h0m244 67h0m272-382h0m-83-97h0m-790 334h0m796-314h0m-95 270h0m-656 54h0m187-456h0m275-48h0m262 177h0m-233 166h0m-310 84h0m367-73h0m-159-416h0m-310 124h0m545 191h0m-228-349h0m-52 372h0m-341 261h0m-174-372h0m138 202h0m151-207h0m669 173h0m-576-150h0m434 18h0m-507 72h0m-471 67h0" stroke="#0b6a74" stroke-width="33"/>
<path d="M4691 1287h0m-823-58h0m98 323h0m861-478h0m-681-142h0m869 393h0m-1277 141h0m696-383h0m-247 279h0m266-228h0m408 204h0m-580-224h0m-13 425h0m244 67h0m272-382h0m-83-97h0m-790 334h0m796-314h0m-95 270h0m-656 54h0m187-456h0m275-48h0m262 177h0m-233 166h0m-310 84h0m367-73h0m-159-416h0m-310 124h0m545 191h0m-228-349h0m-52 372h0m-341 261h0m-174-372h0m138 202h0m151-207h0m669 173h0m-576-150h0m434 18h0m-507 72h0m-471 67h0" stroke="#28dce2" stroke-width="24"/>
<path d="M4928 1159h0m-1206 84h0m1013 181h0m-646 92h0m528-279h0m160-43h0m-553-141h0m-182-198h0m-228 476h0m408-561h0m243 399h0m-522-143h0m-9 97h0m902 146h0m-360 140h0m-357-300h0m393 338h0m-343-404h0m762 89h0m-1152 162h0m6 59h0m340-261h0m-458 166h0m308-260h0m-9 94h0m716 204h0m-902-136h0m384 252h0m201-654h0m-618 347h0m207 32h0m1009 166h0m-345-96h0m-385-62h0m122 224h0m-228 129h0m497-237h0m-107-200h0m445 404h0m-803-111h0" stroke="#0b6a74" stroke-width="33"/>
<path d="M4928 1159h0m-1206 84h0m1013 181h0m-646 92h0m528-279h0m160-43h0m-553-141h0m-182-198h0m-228 476h0m408-561h0m243 399h0m-522-143h0m-9 97h0m902 146h0m-360 140h0m-357-300h0m393 338h0m-343-404h0m762 89h0m-1152 162h0m6 59h0m340-261h0m-458 166h0m308-260h0m-9 94h0m716 204h0m-902-136h0m384 252h0m201-654h0m-618 347h0m207 32h0m1009 166h0m-345-96h0m-385-62h0m122 224h0m-228 129h0m497-237h0m-107-200h0m445 404h0m-803-111h0" stroke="#28dce2" stroke-width="24"/>
<path d="M4653 1357h0m-487-422h0m-393 443h0m429 55h0m33-475h0m287 189h0m-377 299h0m299-524h0m-211 324h0m-482-79h0m515-414h0m271 147h0m-678 262h0m230-203h0m659 81h0m189 397h0m-764-529h0m78 319h0m332 242h0m245-140h0m-725 6h0m-286-190h0m608-29h0m-398 41h0m425-195h0m252 488h0m-317-226h0m300 115h0m-781-208h0m-264 52h0m462-36h0m115 83h0m-132-362h0m507 554h0m298-318h0m-619-241h0m11 381h0m326-287h0m-394 388h0m-485 89h0" stroke="#0b6a74" stroke-width="33"/>
<path d="M4653 1357h0m-487-422h0m-393 443h0m429 55h0m33-475h0m287 189h0m-377 299h0m299-524h0m-211 324h0m-482-79h0m515-414h0m271 147h0m-678 262h0m230-203h0m659 81h0m189 397h0m-764-529h0m78 319h0m332 242h0m245-140h0m-725 6h0m-286-190h0m608-29h0m-398 41h0m425-195h0m252 488h0m-317-226h0m300 115h0m-781-208h0m-264 52h0m462-36h0m115 83h0m-132-362h0m507 554h0m298-318h0m-619-241h0m11 381h0m326-287h0m-394 388h0m-485 89h0" stroke="#28dce2" stroke-width="24"/>
<path d="M3761 1083h0m677-65h0m-30 51h0m401-14h0m-289 151h0m-612-108h0m638 143h0m251 114h0m-268 146h0m-212-159h0m-473-209h0m448-370h0m175 387h0m10 148h0m-597-153h0m713 399h0m-566-319h0m147-226h0m641 404h0m-833 23h0m306 24h0m62-635h0m48 278h0m550 84h0m-1035 26h0m183-117h0m69 147h0m-319 218h0m479-143h0m561 131h0m-354-106h0m-268 222h0m-325-205h0m-242-90h0m592-79h0m-278 305h0m60-243h0m-272 204h0m787 0h0m-657-382h0" stroke="#0b6a74" stroke-width="33"/>
<path d="M3761 1083h0m677-65h0m-30 51h0m401-14h0m-289 151h0m-612-108h0m638 143h0m251 114h0m-268 146h0m-212-159h0m-473-209h0m448-370h0m175 387h0m10 148h0m-597-153h0m713 399h0m-566-319h0m147-226h0m641 404h0m-833 23h0m306 24h0m62-635h0m48 278h0m550 84h0m-1035 26h0m183-117h0m69 147h0m-319 218h0m479-143h0m561 131h0m-354-106h0m-268 222h0m-325-205h0m-242-90h0m592-79h0m-278 305h0m60-243h0m-272 204h0m787 0h0m-657-382h0" stroke="#28dce2" stroke-width="24"/>
<path d="M4426 1420h0m-423-166h0m909-111h0m-644 203h0m15-406h0m-313 286h0m-26-287h0m-273 245h0m492-223h0m795 256h0m-385 48h0m264-84h0m-379-296h0m280 170h0m-655 170h0m678 39h0m-597 216h0m412-561h0m-459 63h0m518 323h0m-733 240h0m160 35h0m460-503h0m155 382h0m-319-416h0m423 127h0m-153 292h0m-263-242h0m17 62h0m-433-220h0m473-146h0m6 449h0m-532-122h0m746 231h0m-13-420h0m-159 220h0m7 304h0m153-113h0m-286 28h0m-63-308h0" stroke="#0b6a74" stroke-width="33"/>
<path d="M4426 1420h0m-423-166h0m909-111h0m-644 203h0m15-406h0m-313 286h0m-26-287h0m-273 245h0m492-223h0m795 256h0m-385 48h0m264-84h0m-379-296h0m280 170h0m-655 170h0m678 39h0m-597 216h0m412-561h0m-459 63h0m518 323h0m-733 240h0m160 35h0m460-503h0m155 382h0m-319-416h0m423 127h0m-153 292h0m-263-242h0m17 62h0m-433-220h0m473-146h0m6 449h0m-532-122h0m746 231h0m-13-420h0m-159 220h0m7 304h0m153-113h0m-286 28h0m-63-308h0" stroke="#28dce2" stroke-width="24"/>
<path d="M4492 1366h0m-459-68h0m603-354h0m-781 96h0m1074 280h0m-1242-99h0m1116 159h0m-70-209h0m-876-54h0m519-265h0m-168 589h0m621-212h0m-116 195h0m-605-50h0m-416 80h0m570-273h0m-368-133h0m-13 81h0m237-169h0m151 424h0m-390-261h0m425-278h0m429 400h0m-833 235h0m310 53h0m149-143h0m-155 205h0m-12-51h0m330-512h0m135 108h0m170 226h0m-325 45h0m-277-565h0m216 304h0m-342-315h0m347 665h0m-753-218h0m1187-29h0m-679-86h0m585 259h0" stroke="#0b6a74" stroke-width="33"/>
<path d="M4492 1366h0m-459-68h0m603-354h0m-781 96h0m1074 280h0m-1242-99h0m1116 159h0m-70-209h0m-876-54h0m519-265h0m-168 589h0m621-212h0m-116 195h0m-605-50h0m-416 80h0m570-273h0m-368-133h0m-13 81h0m237-169h0m151 424h0m-390-261h0m425-278h0m429 400h0m-833 235h0m310 53h0m149-143h0m-155 205h0m-12-51h0m330-512h0m135 108h0m170 226h0m-325 45h0m-277-565h0m216 304h0m-342-315h0m347 665h0m-753-218h0m1187-29h0m-679-86h0m585 259h0" stroke="#28dce2" stroke-width="24"/>
<path d="M4688 1478h0m-449-696h0m-243 193h0m496 166h0m148 49h0m-821 58h0m492 163h0m-384-375h0m27-4h0m-234 433h0m161-215h0m1083 62h0m-103-170h0m-383 395h0m-110-38h0m-248-576h0m63 160h0m-63 408h0m253-225h0m-203 123h0m-418 7h0m958-471h0m-833 143h0m595-239h0m174 149h0m-831 408h0m-50-262h0m1262 178h0m-1171-114h0m478 269h0m137-235h0m253-38h0m-770 121h0m-213-4h0m1246-42h0m-605 196h0m76-121h0m-514 241h0m301-666h0m47-113h0" stroke="#0b6a74" stroke-width="33"/>
<path d="M4688 1478h0m-449-696h0m-243 193h0m496 166h0m148 49h0m-821 58h0m492 163h0m-384-375h0m27-4h0m-234 433h0m161-215h0m1083 62h0m-103-170h0m-383 395h0m-110-38h0m-248-576h0m63 160h0m-63 408h0m253-225h0m-203 123h0m-418 7h0m958-471h0m-833 143h0m595-239h0m174 149h0m-831 408h0m-50-262h0m1262 178h0m-1171-114h0m478 269h0m137-235h0m253-38h0m-770 121h0m-213-4h0m1246-42h0m-605 196h0m76-121h0m-514 241h0m301-666h0m47-113h0" stroke="#28dce2" stroke-width="24"/>
<path d="M4178 1542h0m293-300h0m-418 314h0m422-473h0m39-167h0m407 423h0m-1035-344h0m182 526h0m728-505h0m-189-141h0m56 158h0m-828 354h0m587-455h0m-740 309h0m912 327h0m453-232h0m-313 4h0m-885 142h0m817-277h0m-639-291h0m670 162h0m-647-223h0m-79 407h0m297 358h0m298-152h0m-459 109h0m-78-459h0m568-185h0m-90-57h0m-341 353h0m-264-42h0m824 125h0m-715-177h0m674 338h0m97-209h0m-273 170h0m-531 108h0m-20-551h0m474 534h0m42-395h0" stroke="#0b6a74" stroke-width="33"/>
<path d="M4178 1542h0m293-300h0m-418 314h0m422-473h0m39-167h0m407 423h0m-1035-344h0m182 526h0m728-505h0m-189-141h0m56 158h0m-828 354h0m587-455h0m-740 309h0m912 327h0m453-232h0m-313 4h0m-885 142h0m817-277h0m-639-291h0m670 162h0m-647-223h0m-79 407h0m297 358h0m298-152h0m-459 109h0m-78-459h0m568-185h0m-90-57h0m-341 353h0m-264-42h0m824 125h0m-715-177h0m674 338h0m97-209h0m-273 170h0m-531 108h0m-20-551h0m474 534h0m42-395h0" stroke="#28dce2" stroke-width="24"/>
<path d="M4816 1240h0m-749-251h0m192 635h0m-538-270h0m1241-53h0m-603-361h0m-58 547h0m-599-326h0m0 263h0m694 124h0m-94-23h0m-463-228h0m435-219h0m48 34h0m557 6h0m-607 96h0m106-362h0m-737 303h0m745 452h0m337-303h0m-489-431h0m-16-96h0m-241 819h0m332-510h0m-61 166h0m265 142h0m-577 59h0m337-90h0m-165-84h0m408-345h0m-502 79h0m-294 319h0m575 77h0m408-204h0m215 173h0m6 21h0m-719-505h0m840 357h0m-532-255h0m-5-28h0" stroke="#0b6a74" stroke-width="33"/>
<path d="M4816 1240h0m-749-251h0m192 635h0m-538-270h0m1241-53h0m-603-361h0m-58 547h0m-599-326h0m0 263h0m694 124h0m-94-23h0m-463-228h0m435-219h0m48 34h0m557 6h0m-607 96h0m106-362h0m-737 303h0m745 452h0m337-303h0m-489-431h0m-16-96h0m-241 819h0m332-510h0m-61 166h0m265 142h0m-577 59h0m337-90h0m-165-84h0m408-345h0m-502 79h0m-294 319h0m575 77h0m408-204h0m215 173h0m6 21h0m-719-505h0m840 357h0m-532-255h0m-5-28h0" stroke="#28dce2" stroke-width="24"/>
<path d="M4074 1038h0m615 347h0m2-403h0m-398 580h0m501-187h0m-1049-113h0m295-188h0m534 480h0m-893-380h0m591-345h0m26 674h0m-125-365h0m-134-144h0m386 534h0m217-309h0m19 194h0m-867-239h0m883-237h0m-720 290h0m639-120h0m-794 115h0m-47-40h0m366-388h0m387 579h0m352 141h0m-75-440h0m-963 340h0m93-439h0m341 541h0m-104-19h0m51-349h0m89-243h0m122 137h0m-766 322h0m-9 14h0m1053-205h0m-309-46h0m345-138h0m-464 69h0m256-131h0" stroke="#0b6a74" stroke-width="33"/>
<path d="M4074 1038h0m615 347h0m2-403h0m-398 580h0m501-187h0m-1049-113h0m295-188h0m534 480h0m-893-380h0m591-345h0m26 674h0m-125-365h0m-134-144h0m386 534h0m217-309h0m19 194h0m-867-239h0m883-237h0m-720 290h0m639-120h0m-794 115h0m-47-40h0m366-388h0m387 579h0m352 141h0m-75-440h0m-963 340h0m93-439h0m341 541h0m-104-19h0m51-349h0m89-243h0m122 137h0m-766 322h0m-9 14h0m1053-205h0m-309-46h0m345-138h0m-464 69h0m256-131h0" stroke="#28dce2" stroke-width="24"/>
<path d="M4474 1067h0m-417 281h0m615-100h0m-429-234h0m-597 300h0m1277-32h0m-622 263h0m114-2h0m-11-579h0m-119 572h0m-152-327h0m245-21h0m371-85h0m-668-173h0m422 284h0m-104-161h0m-247-71h0m169 131h0m-505-12h0m-84 166h0m48-195h0m341-245h0m677 714h0m18-507h0m-993 128h0m260 3h0m562-101h0m-413 324h0m-598-212h0m1332 200h0m-914 29h0m1 47h0m41 3h0m621-472h0m-752 541h0m-220-174h0m951-334h0m-497 93h0m-255-152h0m224 501h0" stroke="#0b6a74" stroke-width="33"/>
<path d="M4474 1067h0m-417 281h0m615-100h0m-429-234h0m-597 300h0m1277-32h0m-622 263h0m114-2h0m-11-579h0m-119 572h0m-152-327h0m245-21h0m371-85h0m-668-173h0m422 284h0m-104-161h0m-247-71h0m169 131h0m-505-12h0m-84 166h0m48-195h0m341-245h0m677 714h0m18-507h0m-993 128h0m260 3h0m562-101h0m-413 324h0m-598-212h0m1332 200h0m-914 29h0m1 47h0m41 3h0m621-472h0m-752 541h0m-220-174h0m951-334h0m-497 93h0m-255-152h0m224 501h0" stroke="#28dce2" stroke-width="24"/>
<path d="M4193 1356h0m155-436h0m-466 276h0m356-161h0m-475 76h0m765-2h0m-320 91h0m-194-317h0m787 401h0m-419-502h0m602 618h0m-708 15h0m707-36h0m-335-449h0m112 198h0m-355 155h0m-265-401h0m509 133h0m-90-52h0m-485-127h0m368 159h0m-707 450h0m1161-271h0m-581-410h0m313 658h0m-686-474h0m504 84h0m456 427h0m-703-474h0m-470 163h0m333 55h0m756-70h0m-855-192h0m227 220h0m208 196h0m-289 19h0m-264-264h0m-219 89h0m1010-293h0m-207 385h0" stroke="#0b6a74" stroke-width="33"/>
<path d="M4193 1356h0m155-436h0m-466 276h0m356-161h0m-475 76h0m765-2h0m-320 91h0m-194-317h0m787 401h0m-419-502h0m602 618h0m-708 15h0m707-36h0m-335-449h0m112 198h0m-355 155h0m-265-401h0m509 133h0m-90-52h0m-485-127h0m368 159h0m-707 450h0m1161-271h0m-581-410h0m313 658h0m-686-474h0m504 84h0m456 427h0m-703-474h0m-470 163h0m333 55h0m756-70h0m-855-192h0m227 220h0m208 196h0m-289 19h0m-264-264h0m-219 89h0m1010-293h0m-207 385h0" stroke="#28dce2" stroke-width="24"/>
<path d="M4720 1346h0m-1004-159h0m923 71h0m-86 4h0m-649-164h0m369 262h0m138 72h0m197-430h0m144 544h0m-179-189h0m164-267h0m-370 339h0m342 35h0m-312-611h0m-218 358h0m684 144h0m-693-50h0m-274 60h0m119 195h0m42-339h0m-17 349h0m547-730h0m143 523h0m-359-127h0m185-398h0m-753 298h0m396-80h0m-8-217h0m165 131h0m341 33h0m-723 522h0m322-491h0m351 104h0m44-180h0m-663 230h0m-121-193h0m425 154h0m-7 447h0m420-150h0m-86-557h0" stroke="#0b6a74" stroke-width="33"/>
<path d="M4720 1346h0m-1004-159h0m923 71h0m-86 4h0m-649-164h0m369 262h0m138 72h0m197-430h0m144 544h0m-179-189h0m164-267h0m-370 339h0m342 35h0m-312-611h0m-218 358h0m684 144h0m-693-50h0m-274 60h0m119 195h0m42-339h0m-17 349h0m547-730h0m143 523h0m-359-127h0m185-398h0m-753 298h0m396-80h0m-8-217h0m165 131h0m341 33h0m-723 522h0m322-491h0m351 104h0m44-180h0m-663 230h0m-121-193h0m425 154h0m-7 447h0m420-150h0m-86-557h0" stroke="#28dce2" stroke-width="24"/>
<path d="M4546 1542h0m-336-501h0m669 186h0m-717 298h0m77-464h0m446-175h0m-543 672h0m420-635h0m-60 217h0m-639 154h0m1050-45h0m-739-388h0m157 348h0m130-28h0m-617 151h0m776-207h0m269 378h0m-364-678h0m-346 30h0m23-39h0m195 67h0m-715 256h0m794 253h0m214-393h0m-73 513h0m-464-677h0m-374 614h0m481-500h0m-27 541h0m471-231h0m-1010 113h0m283-187h0m296-285h0m368 618h0m-67 78h0m-368-223h0m229-325h0m-101-37h0m652 215h0m-468 178h0" stroke="#0b6a74" stroke-width="33"/>
<path d="M4546 1542h0m-336-501h0m669 186h0m-717 298h0m77-464h0m446-175h0m-543 672h0m420-635h0m-60 217h0m-639 154h0m1050-45h0m-739-388h0m157 348h0m130-28h0m-617 151h0m776-207h0m269 378h0m-364-678h0m-346 30h0m23-39h0m195 67h0m-715 256h0m794 253h0m214-393h0m-73 513h0m-464-677h0m-374 614h0m481-500h0m-27 541h0m471-231h0m-1010 113h0m283-187h0m296-285h0m368 618h0m-67 78h0m-368-223h0m229-325h0m-101-37h0m652 215h0m-468 178h0" stroke="#28dce2" stroke-width="24"/>
<path d="M4280 1199h0m650 40h0m-972-228h0m511-201h0m-345 104h0m234-126h0m123 776h0m-157-339h0m-113-145h0m-302 419h0m430-696h0m556 460h0m-235-175h0m-141-130h0m-206-70h0m254 483h0m135-188h0m283 99h0m-916 315h0m606-697h0m110 240h0m-174 60h0m-158-368h0m-164 814h0m-92-695h0m23 268h0m11 145h0m521-222h0m-615 0h0m731 108h0m-833 11h0m267 179h0m303-368h0m-978 269h0m316 55h0m892 128h0m-787-617h0m828 576h0m-1078-4h0m382-478h0" stroke="#0b6a74" stroke-width="33"/>
<path d="M4280 1199h0m650 40h0m-972-228h0m511-201h0m-345 104h0m234-126h0m123 776h0m-157-339h0m-113-145h0m-302 419h0m430-696h0m556 460h0m-235-175h0m-141-130h0m-206-70h0m254 483h0m135-188h0m283 99h0m-916 315h0m606-697h0m110 240h0m-174 60h0m-158-368h0m-164 814h0m-92-695h0m23 268h0m11 145h0m521-222h0m-615 0h0m731 108h0m-833 11h0m267 179h0m303-368h0m-978 269h0m316 55h0m892 128h0m-787-617h0m828 576h0m-1078-4h0m382-478h0" stroke="#28dce2" stroke-width="24"/>
<path d="M4740 1002h0m-202 255h0m-799-36h0m435 203h0m709-329h0m-462 131h0m-77-169h0m50 163h0m-267 44h0m427-99h0m-362-123h0m-92-173h0m-196 503h0m201 130h0m-148-104h0m-316-145h0m1032 226h0m-837-238h0m681-63h0m-543-21h0m-179 355h0m383-37h0m238-116h0m-331 187h0m55-497h0m-89-34h0m-104 318h0m828-149h0m-354-41h0m-362 170h0m420-463h0m-620 422h0m637 179h0m275-35h0m-200-92h0m-203 35h0m233 12h0m83-365h0m-857 147h0m1189 222h0" stroke="#0b6a74" stroke-width="33"/>
<path d="M4740 1002h0m-202 255h0m-799-36h0m435 203h0m709-329h0m-462 131h0m-77-169h0m50 163h0m-267 44h0m427-99h0m-362-123h0m-92-173h0m-196 503h0m201 130h0m-148-104h0m-316-145h0m1032 226h0m-837-238h0m681-63h0m-543-21h0m-179 355h0m383-37h0m238-116h0m-331 187h0m55-497h0m-89-34h0m-104 318h0m828-149h0m-354-41h0m-362 170h0m420-463h0m-620 422h0m637 179h0m275-35h0m-200-92h0m-203 35h0m233 12h0m83-365h0m-857 147h0m1189 222h0" stroke="#28dce2" stroke-width="24"/>
<path d="M4232 1612h0m157-360h0m-600-9h0m665-353h0m533 338h0m-139-119h0m41 82h0m-765 175h0m397 90h0m-385-214h0m-148 141h0m357 46h0m-445-368h0m95 417h0m-214-223h0m411 140h0m497-451h0m-954 469h0m820-339h0m-215-242h0m42 536h0m555-13h0m-555 41h0m313 94h0m-58 29h0m-372-14h0m449-453h0m-218-7h0m-333 556h0m201-855h0m198 549h0m-233-228h0m-148 127h0m-174 200h0m587 124h0m-736-138h0m-222-107h0m409 219h0m343-173h0m-319-185h0" stroke="#0b6a74" stroke-width="33"/>
<path d="M4232 1612h0m157-360h0m-600-9h0m665-353h0m533 338h0m-139-119h0m41 82h0m-765 175h0m397 90h0m-385-214h0m-148 141h0m357 46h0m-445-368h0m95 417h0m-214-223h0m411 140h0m497-451h0m-954 469h0m820-339h0m-215-242h0m42 536h0m555-13h0m-555 41h0m313 94h0m-58 29h0m-372-14h0m449-453h0m-218-7h0m-333 556h0m201-855h0m198 549h0m-233-228h0m-148 127h0m-174 200h0m587 124h0m-736-138h0m-222-107h0m409 219h0m343-173h0m-319-185h0" stroke="#28dce2" stroke-width="24"/>
<path d="M4911 1126h0m-134-81h0m-229 118h0m-210 97h0m24-171h0m-649 321h0m-94-134h0m669-313h0m-634 453h0m1031 20h0m39-89h0m-909-75h0m383-168h0m803 152h0m-120 139h0m-664 29h0m-490-76h0m632-53h0m157-12h0m460 148h0m-772-355h0m519 0h0m-685 422h0m939-258h0m-413 113h0m80 126h0m-802-405h0m389 119h0m292 269h0m-380-84h0m-148-223h0m-122 49h0m192-31h0m-299 217h0m1095-111h0m-880-290h0m102 299h0m207 355h0m114-115h0m610-151h0" stroke="#0b6a74" stroke-width="33"/>
<path d="M4911 1126h0m-134-81h0m-229 118h0m-210 97h0m24-171h0m-649 321h0m-94-134h0m669-313h0m-634 453h0m1031 20h0m39-89h0m-909-75h0m383-168h0m803 152h0m-120 139h0m-664 29h0m-490-76h0m632-53h0m157-12h0m460 148h0m-772-355h0m519 0h0m-685 422h0m939-258h0m-413 113h0m80 126h0m-802-405h0m389 119h0m292 269h0m-380-84h0m-148-223h0m-122 49h0m192-31h0m-299 217h0m1095-111h0m-880-290h0m102 299h0m207 355h0m114-115h0m610-151h0" stroke="#28dce2" stroke-width="24"/>
<path d="M4041 1458h0m45-467h0m-45 319h0m956-111h0m-1381-16h0m1194 157h0m-899-85h0m339 324h0m425-489h0m-71-232h0m-644 420h0m346-86h0m-501 231h0m1154 0h0m-890-441h0m957 278h0m-152 83h0m-386-255h0m-24 2h0m-320 52h0m89-252h0m140 385h0m60 120h0m45-70h0m-143-26h0m234 137h0m-484-642h0m-66 83h0m241-101h0m331 803h0m-263-236h0m-142 152h0m-82-439h0m740 370h0m-1111-99h0m267 236h0m816-369h0m-818 145h0m578-102h0m251 55h0" stroke="#0b6a74" stroke-width="33"/>
<path d="M4041 1458h0m45-467h0m-45 319h0m956-111h0m-1381-16h0m1194 157h0m-899-85h0m339 324h0m425-489h0m-71-232h0m-644 420h0m346-86h0m-501 231h0m1154 0h0m-890-441h0m957 278h0m-152 83h0m-386-255h0m-24 2h0m-320 52h0m89-252h0m140 385h0m60 120h0m45-70h0m-143-26h0m234 137h0m-484-642h0m-66 83h0m241-101h0m331 803h0m-263-236h0m-142 152h0m-82-439h0m740 370h0m-1111-99h0m267 236h0m816-369h0m-818 145h0m578-102h0m251 55h0" stroke="#28dce2" stroke-width="24"/>
<path d="M4766 1073h0m-338-183h0m352 466h0m116-19h0m-884-382h0m728 453h0m109-92h0m-665 13h0m68 34h0m-262 18h0m528 127h0m-369-654h0m-46 143h0m13 356h0m-481 0h0m507-168h0m465-152h0m-963 221h0m798 87h0m-442-268h0m212-270h0m588 654h0m-629-518h0m444-17h0m190 553h0m-269-454h0m51-140h0m264 524h0m-210-476h0m-941 386h0m654-2h0m-169-545h0m93-19h0m187 427h0m-347-378h0m-160 681h0m366-504h0m-507 460h0m464-425h0m-604 196h0" stroke="#0b6a74" stroke-width="33"/>
<path d="M4766 1073h0m-338-183h0m352 466h0m116-19h0m-884-382h0m728 453h0m109-92h0m-665 13h0m68 34h0m-262 18h0m528 127h0m-369-654h0m-46 143h0m13 356h0m-481 0h0m507-168h0m465-152h0m-963 221h0m798 87h0m-442-268h0m212-270h0m588 654h0m-629-518h0m444-17h0m190 553h0m-269-454h0m51-140h0m264 524h0m-210-476h0m-941 386h0m654-2h0m-169-545h0m93-19h0m187 427h0m-347-378h0m-160 681h0m366-504h0m-507 460h0m464-425h0m-604 196h0" stroke="#28dce2" stroke-width="24"/>
<path d="M4060 1297h0m-237 179h0m659-573h0m-481 677h0m-157-409h0m-57 205h0m31-175h0m671-232h0m230 325h0m-59-30h0m111 246h0m-722-354h0m129 167h0m206-547h0m-83 96h0m-355 322h0m886-47h0m0 303h0m43-130h0m-949-64h0m284-94h0m-79 239h0m-150-29h0m515-444h0m281 468h0m-986 84h0m658-264h0m552 21h0m-194-46h0m-485-348h0m-42 739h0m-221-309h0m-104 27h0m997-51h0m-295-83h0m-318-368h0m444 295h0m-268-283h0m249 653h0m-770-457h0" stroke="#0b6a74" stroke-width="33"/>
<path d="M4060 1297h0m-237 179h0m659-573h0m-481 677h0m-157-409h0m-57 205h0m31-175h0m671-232h0m230 325h0m-59-30h0m111 246h0m-722-354h0m129 167h0m206-547h0m-83 96h0m-355 322h0m886-47h0m0 303h0m43-130h0m-949-64h0m284-94h0m-79 239h0m-150-29h0m515-444h0m281 468h0m-986 84h0m658-264h0m552 21h0m-194-46h0m-485-348h0m-42 739h0m-221-309h0m-104 27h0m997-51h0m-295-83h0m-318-368h0m444 295h0m-268-283h0m249 653h0m-770-457h0" stroke="#28dce2" stroke-width="24"/>
<path d="M4051 1099h0m973 305h0m-748-349h0m-241 284h0m701 208h0m-370-451h0m165 272h0m89-429h0m47 451h0m-629 34h0m528-299h0m-341 400h0m329-230h0m-479 164h0m553-5h0m-194-560h0m-420 471h0m224-201h0m-121-335h0m-175 598h0m825-450h0m151 318h0m-461-389h0m-26 75h0m491 370h0m-255 151h0m-227-325h0m592 111h0m-1415 25h0m920 283h0m-236-3h0m62-706h0m-134 423h0m23 130h0m602-189h0m-264 68h0m-549 273h0m-139-273h0m826-40h0m-612-320h0" stroke="#0b6a74" stroke-width="33"/>
<path d="M4051 1099h0m973 305h0m-748-349h0m-241 284h0m701 208h0m-370-451h0m165 272h0m89-429h0m47 451h0m-629 34h0m528-299h0m-341 400h0m329-230h0m-479 164h0m553-5h0m-194-560h0m-420 471h0m224-201h0m-121-335h0m-175 598h0m825-450h0m151 318h0m-461-389h0m-26 75h0m491 370h0m-255 151h0m-227-325h0m592 111h0m-1415 25h0m920 283h0m-236-3h0m62-706h0m-134 423h0m23 130h0m602-189h0m-264 68h0m-549 273h0m-139-273h0m826-40h0m-612-320h0" stroke="#28dce2" stroke-width="24"/>
<path d="M4286 1277h0m601-142h0m-810 145h0m-118-47h0m473 200h0m493-232h0m-282 165h0m-643-495h0m661 423h0m-1026 68h0m306-81h0m-142-81h0m1166 247h0m-321-55h0m-443-392h0m363-156h0m-210-90h0m-298 169h0m-71 159h0m622 399h0m-475-617h0m-273 405h0m175-26h0m845-100h0m-241 291h0m-202-186h0m161 92h0m-20-192h0m-317-324h0m181 556h0m138-490h0m-933 414h0m765-47h0m-290-311h0m-206 144h0m249 251h0m552-249h0m-405-93h0m-175 120h0m340-206h0" stroke="#0b6a74" stroke-width="33"/>
<path d="M4286 1277h0m601-142h0m-810 145h0m-118-47h0m473 200h0m493-232h0m-282 165h0m-643-495h0m661 423h0m-1026 68h0m306-81h0m-142-81h0m1166 247h0m-321-55h0m-443-392h0m363-156h0m-210-90h0m-298 169h0m-71 159h0m622 399h0m-475-617h0m-273 405h0m175-26h0m845-100h0m-241 291h0m-202-186h0m161 92h0m-20-192h0m-317-324h0m181 556h0m138-490h0m-933 414h0m765-47h0m-290-311h0m-206 144h0m249 251h0m552-249h0m-405-93h0m-175 120h0m340-206h0" stroke="#28dce2" stroke-width="24"/>
<path d="M4773 1367h0m-214-161h0m-52 97h0m-620-279h0m931 462h0m-60-382h0m-1007 112h0m329 207h0m-263-348h0m-196 136h0m657-92h0m507 36h0m-155 57h0m279 185h0m-959-272h0m268 433h0m390-483h0m260 313h0m-613-543h0m166 661h0m-423-467h0m280 129h0m355-70h0m201 75h0m-477-102h0m-147-50h0m351 422h0m-720-80h0m583-125h0m184-16h0m-421 149h0m-408-175h0m827-88h0m-179 490h0m279-300h0m291 122h0m-849-508h0m331 193h0m-406-166h0m600 338h0" stroke="#0b6a74" stroke-width="33"/>
<path d="M4773 1367h0m-214-161h0m-52 97h0m-620-279h0m931 462h0m-60-382h0m-1007 112h0m329 207h0m-263-348h0m-196 136h0m657-92h0m507 36h0m-155 57h0m279 185h0m-959-272h0m268 433h0m390-483h0m260 313h0m-613-543h0m166 661h0m-423-467h0m280 129h0m355-70h0m201 75h0m-477-102h0m-147-50h0m351 422h0m-720-80h0m583-125h0m184-16h0m-421 149h0m-408-175h0m827-88h0m-179 490h0m279-300h0m291 122h0m-849-508h0m331 193h0m-406-166h0m600 338h0" stroke="#28dce2" stroke-width="24"/>
<path d="M3984 1164h0m400 170h0m-62-309h0m164-207h0m-494 146h0m-83 485h0m759-96h0m-117 134h0m-161 29h0m-281-520h0m678 303h0m-761-400h0m272-65h0m128 3h0m69 491h0m-265-213h0m34-150h0m-325 433h0m614 14h0m-207-53h0m-228 105h0m609-204h0m-102 239h0m-320-35h0m-382-171h0m939-186h0m-500-328h0m-286 323h0m618 400h0m-106-293h0m-511 299h0m495-431h0m-348 393h0m289 17h0m-98-576h0m-202 589h0m564-23h0m-646-400h0m787 110h0m-968 237h0" stroke="#0b6a74" stroke-width="33"/>
<path d="M3984 1164h0m400 170h0m-62-309h0m164-207h0m-494 146h0m-83 485h0m759-96h0m-117 134h0m-161 29h0m-281-520h0m678 303h0m-761-400h0m272-65h0m128 3h0m69 491h0m-265-213h0m34-150h0m-325 433h0m614 14h0m-207-53h0m-228 105h0m609-204h0m-102 239h0m-320-35h0m-382-171h0m939-186h0m-500-328h0m-286 323h0m618 400h0m-106-293h0m-511 299h0m495-431h0m-348 393h0m289 17h0m-98-576h0m-202 589h0m564-23h0m-646-400h0m787 110h0m-968 237h0" stroke="#28dce2" stroke-width="24"/>
<path d="M4726 1218h0m-347-180h0m-136 9h0m47 391h0m286-474h0m-147 211h0m-86 320h0m69-338h0m344 95h0m-12-278h0m-376 134h0m-476 278h0m157-224h0m305 383h0m394-233h0m-563 130h0m484-310h0m188 59h0m-445-116h0m388-83h0m-105 603h0m-299-337h0m-426-307h0m186 208h0m299-367h0m-139 17h0m316 510h0m-401-244h0m39 224h0m132 241h0m-117-621h0m-460 461h0m2-100h0m369-190h0m485 240h0m-397-358h0m501 440h0m-208 77h0m-484-16h0m-186-185h0" stroke="#0b6a74" stroke-width="33"/>
<path d="M4726 1218h0m-347-180h0m-136 9h0m47 391h0m286-474h0m-147 211h0m-86 320h0m69-338h0m344 95h0m-12-278h0m-376 134h0m-476 278h0m157-224h0m305 383h0m394-233h0m-563 130h0m484-310h0m188 59h0m-445-116h0m388-83h0m-105 603h0m-299-337h0m-426-307h0m186 208h0m299-367h0m-139 17h0m316 510h0m-401-244h0m39 224h0m132 241h0m-117-621h0m-460 461h0m2-100h0m369-190h0m485 240h0m-397-358h0m501 440h0m-208 77h0m-484-16h0m-186-185h0" stroke="#28dce2" stroke-width="24"/>
<path d="M3721 1285h0m733-88h0m-159 133h0m501-91h0m-465-489h0m-49 735h0m403-364h0m-122 286h0m-790-175h0m682 133h0m551-143h0m-425-43h0m-566 156h0m422 133h0m-503-412h0m574 195h0m-189 217h0m524-82h0m-983-60h0m884-248h0m-559 105h0m232 274h0m-387-304h0m545-212h0m-262 119h0m-248 48h0m279 61h0m-549 284h0m623-86h0m525-204h0m-1217 246h0m139-123h0m200-113h0m495-155h0m250 207h0m-1033 117h0m303 68h0m-169 3h0m349-450h0m-87-145h0" stroke="#0b6a74" stroke-width="33"/>
<path d="M3721 1285h0m733-88h0m-159 133h0m501-91h0m-465-489h0m-49 735h0m403-364h0m-122 286h0m-790-175h0m682 133h0m551-143h0m-425-43h0m-566 156h0m422 133h0m-503-412h0m574 195h0m-189 217h0m524-82h0m-983-60h0m884-248h0m-559 105h0m232 274h0m-387-304h0m545-212h0m-262 119h0m-248 48h0m279 61h0m-549 284h0m623-86h0m525-204h0m-1217 246h0m139-123h0m200-113h0m495-155h0m250 207h0m-1033 117h0m303 68h0m-169 3h0m349-450h0m-87-145h0" stroke="#28dce2" stroke-width="24"/>
<path d="M4677 927h0m-1026 471h0m1327-39h0m-820-107h0m-459-24h0m548-306h0m-167 419h0m644-307h0m-568 515h0m302-185h0m35-226h0m-331 16h0m443 291h0m-25-50h0m-147-87h0m-332 243h0m-177-203h0m477-543h0m-399 740h0m-248-59h0m-25-326h0m861 285h0m172-451h0m132 315h0m-1019 244h0m744-399h0m-886-43h0m1135 69h0m151 30h0m-949-313h0m238 129h0m-358 478h0m192-134h0m234-571h0m204 491h0m-146-169h0m223 428h0m-145-171h0m-296-545h0m250 616h0" stroke="#0b6a74" stroke-width="33"/>
<path d="M4677 927h0m-1026 471h0m1327-39h0m-820-107h0m-459-24h0m548-306h0m-167 419h0m644-307h0m-568 515h0m302-185h0m35-226h0m-331 16h0m443 291h0m-25-50h0m-147-87h0m-332 243h0m-177-203h0m477-543h0m-399 740h0m-248-59h0m-25-326h0m861 285h0m172-451h0m132 315h0m-1019 244h0m744-399h0m-886-43h0m1135 69h0m151 30h0m-949-313h0m238 129h0m-358 478h0m192-134h0m234-571h0m204 491h0m-146-169h0m223 428h0m-145-171h0m-296-545h0m250 616h0" stroke="#28dce2" stroke-width="24"/>
<path d="M4386 1476h0m-56-65h0m579-219h0m-399-97h0m-830 307h0m548-209h0m-223 233h0m469-435h0m-130 237h0m362 50h0m-962 147h0m621 23h0m-519-386h0m459 66h0m251 499h0m-127-439h0m-284 218h0m772 0h0" stroke="#0b6a74" stroke-width="33"/>
<path d="M4386 1476h0m-56-65h0m579-219h0m-399-97h0m-830 307h0m548-209h0m-223 233h0m469-435h0m-130 237h0m362 50h0m-962 147h0m621 23h0m-519-386h0m459 66h0m251 499h0m-127-439h0m-284 218h0m772 0h0" stroke="#28dce2" stroke-width="24"/>
</g>
<g transform="scale(0.1)" fill="none" stroke-linecap="round">
<path d="M3414 1302h0m67-14h0m33-13h0m27-27h0m-20 128h0m34 20h0m40-27h0m47 54h0m47 67h0m40 27h0m121 74h0m481-1119h0m26 200h0m92 75h0m127 22h0m149 82h0m68 68h0m164 201h0m104 82h0m11 238h0m-89 89h0m-109 20h0m253-184h0m-18-35h0m-967 353h0m82-8h0m201 8h0m97-30h0" stroke="#118c94" stroke-width="32"/>
<path d="M3414 1302h0m67-14h0m33-13h0m27-27h0m-20 128h0m34 20h0m40-27h0m47 54h0m47 67h0m40 27h0m121 74h0m481-1119h0m26 200h0m92 75h0m127 22h0m149 82h0m68 68h0m164 201h0m104 82h0m11 238h0m-89 89h0m-109 20h0m253-184h0m-18-35h0m-967 353h0m82-8h0m201 8h0m97-30h0" stroke="#1cc2c6" stroke-width="22"/>
</g>
<g transform="scale(0.1)" fill="none" stroke-linecap="round">
<path d="M1437 3097h0m-63-286h0m392 7h0m-175-24h0m-440 576h0m217-715h0m50 460h0m404 171h0m-57-412h0m-201 452h0m78-1h0m92 77h0m402-155h0m-516-76h0m-100-98h0m387-71h0m-594 18h0m-386 19h0m554 118h0m-748 10h0m-33-113h0m830 239h0m-642 22h0m253-1h0m330-455h0m-224 69h0m47 147h0m372 298h0m-479-700h0m857 395h0m-727 249h0m352-197h0m-538-317h0m500 85h0m-340 300h0m546 126h0m-108-413h0m60-66h0m-217 193h0m236 144h0" stroke="#0b6a74" stroke-width="33"/>
<path d="M1437 3097h0m-63-286h0m392 7h0m-175-24h0m-440 576h0m217-715h0m50 460h0m404 171h0m-57-412h0m-201 452h0m78-1h0m92 77h0m402-155h0m-516-76h0m-100-98h0m387-71h0m-594 18h0m-386 19h0m554 118h0m-748 10h0m-33-113h0m830 239h0m-642 22h0m253-1h0m330-455h0m-224 69h0m47 147h0m372 298h0m-479-700h0m857 395h0m-727 249h0m352-197h0m-538-317h0m500 85h0m-340 300h0m546 126h0m-108-413h0m60-66h0m-217 193h0m236 144h0" stroke="#28dce2" stroke-width="24"/>
<path d="M1200 2868h0m401 331h0m201-163h0m156 96h0m-498 24h0m435 76h0m18-276h0m-801 32h0m387 259h0m407-118h0m-196 9h0m-455-159h0m165-142h0m231 425h0m-50 118h0m-309-379h0m435 138h0m-156-130h0m200 183h0m127 94h0m-365 183h0m-479-178h0m934-159h0m-835 208h0m418 41h0m-148 24h0m-106-730h0m249 267h0m265 233h0m-264 231h0m-68-683h0m142 698h0m205-225h0m-581-550h0m522 294h0m-233-33h0m-372 501h0m824-137h0m-922-106h0m349-309h0" stroke="#0b6a74" stroke-width="33"/>
<path d="M1200 2868h0m401 331h0m201-163h0m156 96h0m-498 24h0m435 76h0m18-276h0m-801 32h0m387 259h0m407-118h0m-196 9h0m-455-159h0m165-142h0m231 425h0m-50 118h0m-309-379h0m435 138h0m-156-130h0m200 183h0m127 94h0m-365 183h0m-479-178h0m934-159h0m-835 208h0m418 41h0m-148 24h0m-106-730h0m249 267h0m265 233h0m-264 231h0m-68-683h0m142 698h0m205-225h0m-581-550h0m522 294h0m-233-33h0m-372 501h0m824-137h0m-922-106h0m349-309h0" stroke="#28dce2" stroke-width="24"/>
<path d="M1205 2700h0m640 228h0m-279 36h0m309 62h0m-608-203h0m156 557h0m256-293h0m-636-325h0m295 83h0m324-43h0m-426 253h0m-305 118h0m142 162h0m583-598h0m-312 232h0m-554 262h0m371-241h0m224 71h0m388-27h0m-638-116h0m593 319h0m-651 193h0m341-771h0m-121 136h0m-152 77h0m-146 550h0m739-124h0m363-54h0m-508-208h0m-275-272h0m-105 470h0m145 216h0m259-250h0m-431 130h0m69-565h0m403 296h0m-132 75h0m-233 176h0m499-386h0m-549-248h0" stroke="#0b6a74" stroke-width="33"/>
<path d="M1205 2700h0m640 228h0m-279 36h0m309 62h0m-608-203h0m156 557h0m256-293h0m-636-325h0m295 83h0m324-43h0m-426 253h0m-305 118h0m142 162h0m583-598h0m-312 232h0m-554 262h0m371-241h0m224 71h0m388-27h0m-638-116h0m593 319h0m-651 193h0m341-771h0m-121 136h0m-152 77h0m-146 550h0m739-124h0m363-54h0m-508-208h0m-275-272h0m-105 470h0m145 216h0m259-250h0m-431 130h0m69-565h0m403 296h0m-132 75h0m-233 176h0m499-386h0m-549-248h0" stroke="#28dce2" stroke-width="24"/>
<path d="M1354 3273h0m-333-348h0m-32 264h0m695-277h0m-688-23h0m1004 452h0m-1205-323h0m721-220h0m-453 582h0m71-530h0m-245 339h0m163-412h0m-135 359h0m781 60h0m-656-52h0m514 282h0m19-474h0m-566 206h0m212-212h0m25 55h0m-28 448h0m-237-124h0m433-175h0m330-300h0m-261 375h0m7-188h0m-47 273h0m-294-230h0m591 334h0m-50-178h0m-34-73h0m214-277h0m30 509h0m113-146h0m-268-72h0m-147-30h0m86 309h0m-516-450h0m33-1h0m-121-163h0" stroke="#0b6a74" stroke-width="33"/>
<path d="M1354 3273h0m-333-348h0m-32 264h0m695-277h0m-688-23h0m1004 452h0m-1205-323h0m721-220h0m-453 582h0m71-530h0m-245 339h0m163-412h0m-135 359h0m781 60h0m-656-52h0m514 282h0m19-474h0m-566 206h0m212-212h0m25 55h0m-28 448h0m-237-124h0m433-175h0m330-300h0m-261 375h0m7-188h0m-47 273h0m-294-230h0m591 334h0m-50-178h0m-34-73h0m214-277h0m30 509h0m113-146h0m-268-72h0m-147-30h0m86 309h0m-516-450h0m33-1h0m-121-163h0" stroke="#28dce2" stroke-width="24"/>
<path d="M1291 3218h0m734-135h0m-362-186h0m-242 330h0m-215 57h0m896-52h0m-1298 33h0m403-84h0m-250 193h0m651-123h0m-389 154h0m427 14h0m-42-536h0m-527 173h0m727-118h0m-1011 186h0m575-53h0m-56-112h0m674 136h0m-764-181h0m560 68h0m-824 302h0m866-166h0m-344 213h0m-263-135h0m406-436h0m-172 135h0m61 11h0m94-165h0m-59 656h0m-285-622h0m-230 171h0m523-202h0m58 297h0m-425 204h0m-140-252h0m377 259h0m192 32h0m-41-135h0m-257-334h0" stroke="#0b6a74" stroke-width="33"/>
<path d="M1291 3218h0m734-135h0m-362-186h0m-242 330h0m-215 57h0m896-52h0m-1298 33h0m403-84h0m-250 193h0m651-123h0m-389 154h0m427 14h0m-42-536h0m-527 173h0m727-118h0m-1011 186h0m575-53h0m-56-112h0m674 136h0m-764-181h0m560 68h0m-824 302h0m866-166h0m-344 213h0m-263-135h0m406-436h0m-172 135h0m61 11h0m94-165h0m-59 656h0m-285-622h0m-230 171h0m523-202h0m58 297h0m-425 204h0m-140-252h0m377 259h0m192 32h0m-41-135h0m-257-334h0" stroke="#28dce2" stroke-width="24"/>
<path d="M1794 3044h0m-54 25h0m-234-232h0m-230 121h0m451-121h0m246 149h0m-678-113h0m421 67h0m-875 153h0m625 36h0m-480 78h0m395-226h0m269-113h0m81 277h0m192-169h0m-659-169h0m280-112h0m-335 345h0m258 432h0m-614-230h0m1115 75h0m-12 13h0m-1028-347h0m767-83h0m302 235h0m-659-354h0m-335 259h0m206-38h0m67-130h0m750 228h0m-409 107h0m-104 148h0m-566-163h0m505 79h0m-57 13h0m458-162h0m-953 50h0m692 184h0m-461 86h0m917-129h0" stroke="#0b6a74" stroke-width="33"/>
<path d="M1794 3044h0m-54 25h0m-234-232h0m-230 121h0m451-121h0m246 149h0m-678-113h0m421 67h0m-875 153h0m625 36h0m-480 78h0m395-226h0m269-113h0m81 277h0m192-169h0m-659-169h0m280-112h0m-335 345h0m258 432h0m-614-230h0m1115 75h0m-12 13h0m-1028-347h0m767-83h0m302 235h0m-659-354h0m-335 259h0m206-38h0m67-130h0m750 228h0m-409 107h0m-104 148h0m-566-163h0m505 79h0m-57 13h0m458-162h0m-953 50h0m692 184h0m-461 86h0m917-129h0" stroke="#28dce2" stroke-width="24"/>
<path d="M1818 3003h0m-1001 275h0m108 43h0m599-457h0m-731 290h0m344 27h0m809 205h0m-441-321h0m236-50h0m-342 253h0m212-356h0m413 227h0m-511 193h0m-664-286h0m289-385h0m532 213h0m-133-71h0m-584 140h0m870-92h0m-647 120h0m-57 327h0m709-343h0m-415 94h0m-103 196h0m506-80h0m38 237h0m-604-80h0m587 38h0m-871-367h0m249-188h0m-96 320h0m254-364h0m512 212h0m-421-61h0m-303-277h0m911 434h0m-1204 62h0m368 81h0m-24 257h0m813-269h0" stroke="#0b6a74" stroke-width="33"/>
<path d="M1818 3003h0m-1001 275h0m108 43h0m599-457h0m-731 290h0m344 27h0m809 205h0m-441-321h0m236-50h0m-342 253h0m212-356h0m413 227h0m-511 193h0m-664-286h0m289-385h0m532 213h0m-133-71h0m-584 140h0m870-92h0m-647 120h0m-57 327h0m709-343h0m-415 94h0m-103 196h0m506-80h0m38 237h0m-604-80h0m587 38h0m-871-367h0m249-188h0m-96 320h0m254-364h0m512 212h0m-421-61h0m-303-277h0m911 434h0m-1204 62h0m368 81h0m-24 257h0m813-269h0" stroke="#28dce2" stroke-width="24"/>
<path d="M1244 2885h0m-260 24h0m-129 357h0m297-319h0m-81 20h0m56-231h0m707 420h0m-710 78h0m255-401h0m67 107h0m-528 403h0m648-482h0m-158-28h0m56 374h0m675-31h0m-975 79h0m632-378h0m-222 239h0m425 169h0m-719-596h0m-103 244h0m36 416h0m417-604h0m490 417h0m-907-34h0m29-450h0m266 307h0m-683 135h0m66-78h0m961-31h0m-322 446h0m-10-720h0m-119 145h0m-233-180h0m744 572h0m-510-620h0m79 12h0m-104 201h0m-237 306h0m-139 21h0" stroke="#0b6a74" stroke-width="33"/>
<path d="M1244 2885h0m-260 24h0m-129 357h0m297-319h0m-81 20h0m56-231h0m707 420h0m-710 78h0m255-401h0m67 107h0m-528 403h0m648-482h0m-158-28h0m56 374h0m675-31h0m-975 79h0m632-378h0m-222 239h0m425 169h0m-719-596h0m-103 244h0m36 416h0m417-604h0m490 417h0m-907-34h0m29-450h0m266 307h0m-683 135h0m66-78h0m961-31h0m-322 446h0m-10-720h0m-119 145h0m-233-180h0m744 572h0m-510-620h0m79 12h0m-104 201h0m-237 306h0m-139 21h0" stroke="#28dce2" stroke-width="24"/>
<path d="M903 3170h0m1182 47h0m-909-177h0m245 392h0m163-331h0m127-287h0m-102 639h0m-861-207h0m710-53h0m-526-110h0m863 85h0m-459-257h0m-48 319h0m277 133h0m246-414h0m-771 401h0m284-6h0m265-395h0m-532-2h0m293-199h0m-367 386h0m882-93h0m-241-310h0m-233 710h0m143-763h0m277 384h0m-676 350h0m-198-193h0m-10-123h0m150-305h0m914 437h0m-819-492h0m-133 442h0m474 54h0m-488 5h0m785 11h0m-532-542h0m-375 419h0m-158-102h0m626-388h0" stroke="#0b6a74" stroke-width="33"/>
<path d="M903 3170h0m1182 47h0m-909-177h0m245 392h0m163-331h0m127-287h0m-102 639h0m-861-207h0m710-53h0m-526-110h0m863 85h0m-459-257h0m-48 319h0m277 133h0m246-414h0m-771 401h0m284-6h0m265-395h0m-532-2h0m293-199h0m-367 386h0m882-93h0m-241-310h0m-233 710h0m143-763h0m277 384h0m-676 350h0m-198-193h0m-10-123h0m150-305h0m914 437h0m-819-492h0m-133 442h0m474 54h0m-488 5h0m785 11h0m-532-542h0m-375 419h0m-158-102h0m626-388h0" stroke="#28dce2" stroke-width="24"/>
<path d="M1891 2977h0m-460-204h0m-36-16h0m395 359h0m-1082 27h0m356 184h0m-279-254h0m106 277h0m468-348h0m-270-188h0m668-63h0m-932 329h0m188-186h0m76 148h0m787 64h0m-591-269h0m822 329h0m-1172-304h0m725 499h0m199-472h0m-328 126h0m-421 30h0m942 183h0m-161 46h0m-282-155h0m-413 224h0m370-2h0m-121-288h0m528 155h0m-366-117h0m-300-308h0m280 303h0m-253 243h0m-522-157h0m272-415h0m974 423h0m-392 15h0m-807-179h0m357 382h0m-61-103h0" stroke="#0b6a74" stroke-width="33"/>
<path d="M1891 2977h0m-460-204h0m-36-16h0m395 359h0m-1082 27h0m356 184h0m-279-254h0m106 277h0m468-348h0m-270-188h0m668-63h0m-932 329h0m188-186h0m76 148h0m787 64h0m-591-269h0m822 329h0m-1172-304h0m725 499h0m199-472h0m-328 126h0m-421 30h0m942 183h0m-161 46h0m-282-155h0m-413 224h0m370-2h0m-121-288h0m528 155h0m-366-117h0m-300-308h0m280 303h0m-253 243h0m-522-157h0m272-415h0m974 423h0m-392 15h0m-807-179h0m357 382h0m-61-103h0" stroke="#28dce2" stroke-width="24"/>
<path d="M811 3020h0m170 88h0m-200 140h0m80 67h0m465-642h0m-65 509h0m777-103h0m-1038 284h0m311-728h0m16 447h0m-90-219h0m-166 313h0m683 133h0m-917-14h0m853-545h0m270 342h0m-835 183h0m908-30h0m-744-217h0m-69-102h0m-38 132h0m459-288h0m-776 216h0m516 387h0m-575-370h0m957-154h0m-824 311h0m187-283h0m401-157h0m473 582h0m-801-503h0m-179 280h0m436-144h0m173 139h0m276-166h0m-377-67h0m555 442h0m-1218-314h0m688-96h0m85-40h0" stroke="#0b6a74" stroke-width="33"/>
<path d="M811 3020h0m170 88h0m-200 140h0m80 67h0m465-642h0m-65 509h0m777-103h0m-1038 284h0m311-728h0m16 447h0m-90-219h0m-166 313h0m683 133h0m-917-14h0m853-545h0m270 342h0m-835 183h0m908-30h0m-744-217h0m-69-102h0m-38 132h0m459-288h0m-776 216h0m516 387h0m-575-370h0m957-154h0m-824 311h0m187-283h0m401-157h0m473 582h0m-801-503h0m-179 280h0m436-144h0m173 139h0m276-166h0m-377-67h0m555 442h0m-1218-314h0m688-96h0m85-40h0" stroke="#28dce2" stroke-width="24"/>
<path d="M1601 2971h0m265 147h0m-633 201h0m260-614h0m-511 534h0m149-314h0m710 336h0m288-123h0m-792-456h0m479 656h0m-470-145h0m-551 60h0m21-18h0m25 86h0m379-593h0m303-69h0m-412 103h0m769 327h0m-792-154h0m663 374h0m-398-284h0m83 215h0m523-120h0m-1104 225h0m286-551h0m548 429h0m-987-107h0m68-58h0m646 130h0m-369-263h0m983 192h0m-1156-146h0m325-65h0m882 294h0m-284-196h0m-859 354h0m347-239h0m115 128h0m120 84h0m133-548h0" stroke="#0b6a74" stroke-width="33"/>
<path d="M1601 2971h0m265 147h0m-633 201h0m260-614h0m-511 534h0m149-314h0m710 336h0m288-123h0m-792-456h0m479 656h0m-470-145h0m-551 60h0m21-18h0m25 86h0m379-593h0m303-69h0m-412 103h0m769 327h0m-792-154h0m663 374h0m-398-284h0m83 215h0m523-120h0m-1104 225h0m286-551h0m548 429h0m-987-107h0m68-58h0m646 130h0m-369-263h0m983 192h0m-1156-146h0m325-65h0m882 294h0m-284-196h0m-859 354h0m347-239h0m115 128h0m120 84h0m133-548h0" stroke="#28dce2" stroke-width="24"/>
<path d="M2061 3179h0m-518 196h0m-376-248h0m-33-125h0m408 169h0m400 20h0m-634 204h0m623-71h0m-582-589h0m685 547h0m-169-122h0m-1050-98h0m961-125h0m-143 29h0m-513 27h0m237 361h0m-387 46h0m773-358h0m-986 111h0m753 139h0m53-141h0m-836-67h0m554 166h0m-115-581h0m76 721h0m-62-315h0m449-31h0m104-267h0m-11 436h0m-583-157h0m562 12h0m-408-117h0m-257 447h0m392-349h0m113-330h0m-16 163h0m116 256h0m-247 273h0m401-518h0m-265 579h0" stroke="#0b6a74" stroke-width="33"/>
<path d="M2061 3179h0m-518 196h0m-376-248h0m-33-125h0m408 169h0m400 20h0m-634 204h0m623-71h0m-582-589h0m685 547h0m-169-122h0m-1050-98h0m961-125h0m-143 29h0m-513 27h0m237 361h0m-387 46h0m773-358h0m-986 111h0m753 139h0m53-141h0m-836-67h0m554 166h0m-115-581h0m76 721h0m-62-315h0m449-31h0m104-267h0m-11 436h0m-583-157h0m562 12h0m-408-117h0m-257 447h0m392-349h0m113-330h0m-16 163h0m116 256h0m-247 273h0m401-518h0m-265 579h0" stroke="#28dce2" stroke-width="24"/>
<path d="M1691 3263h0m-247-343h0m-286 229h0m-45-226h0m548 380h0m-184-478h0m81 376h0m-443 157h0m725-509h0m-700-125h0m-26-32h0m734 300h0m-991-38h0m1102 76h0m-699-1h0m183 322h0m-664-291h0m479-51h0m-100-222h0m-431 277h0m429 347h0m-345-110h0m758-480h0m-49 590h0m-356-287h0m246-400h0m351 487h0m-249-52h0m-455-65h0m636-234h0m-677 440h0m648-439h0m204 377h0m-808-271h0m365 394h0m-336-111h0m-100 84h0m186-507h0m283-193h0m295 817h0" stroke="#0b6a74" stroke-width="33"/>
<path d="M1691 3263h0m-247-343h0m-286 229h0m-45-226h0m548 380h0m-184-478h0m81 376h0m-443 157h0m725-509h0m-700-125h0m-26-32h0m734 300h0m-991-38h0m1102 76h0m-699-1h0m183 322h0m-664-291h0m479-51h0m-100-222h0m-431 277h0m429 347h0m-345-110h0m758-480h0m-49 590h0m-356-287h0m246-400h0m351 487h0m-249-52h0m-455-65h0m636-234h0m-677 440h0m648-439h0m204 377h0m-808-271h0m365 394h0m-336-111h0m-100 84h0m186-507h0m283-193h0m295 817h0" stroke="#28dce2" stroke-width="24"/>
<path d="M1129 3100h0m593 229h0m-539 28h0m-228-321h0m239 181h0m563 113h0m-669-198h0m21-404h0m200 185h0m231 210h0m-108-447h0m146 515h0m-526-87h0m324 145h0m290-71h0m-700 116h0m145-589h0m-14 520h0m787-3h0m-954-162h0m894-223h0m1 467h0m-277-279h0m-107 377h0m692-177h0m-257-107h0m-457-130h0m-548 98h0m181 143h0m793-89h0m-894-44h0m658-383h0m341 515h0m-15 56h0m-321-411h0m-846 249h0m353-283h0m-134 263h0m550 290h0m16-632h0" stroke="#0b6a74" stroke-width="33"/>
<path d="M1129 3100h0m593 229h0m-539 28h0m-228-321h0m239 181h0m563 113h0m-669-198h0m21-404h0m200 185h0m231 210h0m-108-447h0m146 515h0m-526-87h0m324 145h0m290-71h0m-700 116h0m145-589h0m-14 520h0m787-3h0m-954-162h0m894-223h0m1 467h0m-277-279h0m-107 377h0m692-177h0m-257-107h0m-457-130h0m-548 98h0m181 143h0m793-89h0m-894-44h0m658-383h0m341 515h0m-15 56h0m-321-411h0m-846 249h0m353-283h0m-134 263h0m550 290h0m16-632h0" stroke="#28dce2" stroke-width="24"/>
<path d="M1583 3453h0m318-237h0m56-217h0m13-13h0m-533-267h0m456 202h0m-1176 130h0m678 212h0m104-413h0m-366-142h0m656 428h0m-1039-50h0m417 311h0m328-433h0m148 44h0m-108 295h0m-532-330h0m-70 75h0m786 132h0m164-52h0m-612 300h0m399-75h0m130-29h0m231-4h0m-507-610h0m537 537h0m-313-449h0m-775 343h0m628 116h0m-381-376h0m330-67h0m-837 357h0m102-12h0m514-272h0m241 104h0m445 158h0m-822-24h0m152-150h0m-343-165h0m57 341h0" stroke="#0b6a74" stroke-width="33"/>
<path d="M1583 3453h0m318-237h0m56-217h0m13-13h0m-533-267h0m456 202h0m-1176 130h0m678 212h0m104-413h0m-366-142h0m656 428h0m-1039-50h0m417 311h0m328-433h0m148 44h0m-108 295h0m-532-330h0m-70 75h0m786 132h0m164-52h0m-612 300h0m399-75h0m130-29h0m231-4h0m-507-610h0m537 537h0m-313-449h0m-775 343h0m628 116h0m-381-376h0m330-67h0m-837 357h0m102-12h0m514-272h0m241 104h0m445 158h0m-822-24h0m152-150h0m-343-165h0m57 341h0" stroke="#28dce2" stroke-width="24"/>
<path d="M1596 2821h0m94-29h0m-121-20h0m-705 244h0m28 38h0m708-70h0m-650 271h0m548-325h0m-318-239h0m128 426h0m-287 230h0m771-288h0m-886 156h0m729-501h0m-697 476h0m471-507h0m190 169h0m-204 450h0m89 90h0m-439-493h0m316-69h0m747 298h0m-169-73h0m-755-288h0m705 276h0m-405 43h0m-631 120h0m839 98h0m-662 116h0m302-165h0m310 103h0m150-108h0m-618-462h0m-146 80h0m-22 186h0m280 275h0m417-455h0m-471 480h0m594-258h0m-470 241h0" stroke="#0b6a74" stroke-width="33"/>
<path d="M1596 2821h0m94-29h0m-121-20h0m-705 244h0m28 38h0m708-70h0m-650 271h0m548-325h0m-318-239h0m128 426h0m-287 230h0m771-288h0m-886 156h0m729-501h0m-697 476h0m471-507h0m190 169h0m-204 450h0m89 90h0m-439-493h0m316-69h0m747 298h0m-169-73h0m-755-288h0m705 276h0m-405 43h0m-631 120h0m839 98h0m-662 116h0m302-165h0m310 103h0m150-108h0m-618-462h0m-146 80h0m-22 186h0m280 275h0m417-455h0m-471 480h0m594-258h0m-470 241h0" stroke="#28dce2" stroke-width="24"/>
<path d="M1615 2841h0m-666 293h0m570 307h0m310-471h0m-46-5h0m-400 339h0m235 68h0m-673-49h0m649-206h0m-40 165h0m-517-135h0m181 234h0m-24-524h0m-134-34h0m578-31h0m-272 597h0m344-577h0m-426 449h0m446-440h0m-616 488h0m299 118h0m-183-745h0m137 619h0m-451-7h0m309-307h0m614 144h0m-347 176h0m-188-616h0m-96 679h0m689-21h0m-389-581h0m-639 492h0m498 142h0m-22-39h0m577-246h0m-205-227h0m-614-18h0m830 161h0m-178 230h0m-316-58h0" stroke="#0b6a74" stroke-width="33"/>
<path d="M1615 2841h0m-666 293h0m570 307h0m310-471h0m-46-5h0m-400 339h0m235 68h0m-673-49h0m649-206h0m-40 165h0m-517-135h0m181 234h0m-24-524h0m-134-34h0m578-31h0m-272 597h0m344-577h0m-426 449h0m446-440h0m-616 488h0m299 118h0m-183-745h0m137 619h0m-451-7h0m309-307h0m614 144h0m-347 176h0m-188-616h0m-96 679h0m689-21h0m-389-581h0m-639 492h0m498 142h0m-22-39h0m577-246h0m-205-227h0m-614-18h0m830 161h0m-178 230h0m-316-58h0" stroke="#28dce2" stroke-width="24"/>
<path d="M1486 2991h0m270 82h0m333 56h0m-987 22h0m47-440h0m98-10h0m180 322h0m264 387h0m26 47h0m-518-309h0m-390-36h0m769-192h0m1-178h0m198 77h0m-272 624h0m335-72h0m-970-197h0m247 85h0m361-554h0m-686 484h0m841 169h0m-586-27h0m547 144h0m-875-362h0m329 215h0m1039-63h0m-983 2h0m628-227h0m253 227h0m-1127-10h0m693-10h0m477-99h0m-755 12h0m734-124h0m-765 391h0m416-701h0m-564 617h0m997-129h0m-212-308h0m-349 154h0" stroke="#0b6a74" stroke-width="33"/>
<path d="M1486 2991h0m270 82h0m333 56h0m-987 22h0m47-440h0m98-10h0m180 322h0m264 387h0m26 47h0m-518-309h0m-390-36h0m769-192h0m1-178h0m198 77h0m-272 624h0m335-72h0m-970-197h0m247 85h0m361-554h0m-686 484h0m841 169h0m-586-27h0m547 144h0m-875-362h0m329 215h0m1039-63h0m-983 2h0m628-227h0m253 227h0m-1127-10h0m693-10h0m477-99h0m-755 12h0m734-124h0m-765 391h0m416-701h0m-564 617h0m997-129h0m-212-308h0m-349 154h0" stroke="#28dce2" stroke-width="24"/>
<path d="M1415 3116h0m49-331h0m211 538h0m-197-284h0m364 39h0m-1064 93h0m585-306h0m403 29h0m-87-65h0m-728 134h0m688-50h0m84 445h0m52 14h0m349-158h0m-1010 134h0m762 45h0m-276-447h0m-588 259h0m29-236h0m628 263h0m97-326h0m-389-189h0m-313 395h0m106-94h0m822 101h0m-931 195h0m562-81h0m542-51h0m-942 293h0m-9-201h0m326-227h0m-170 154h0m-354-63h0m184-378h0m176 637h0m536-311h0m-698 162h0m635-78h0m-40-86h0m-352 235h0" stroke="#0b6a74" stroke-width="33"/>
<path d="M1415 3116h0m49-331h0m211 538h0m-197-284h0m364 39h0m-1064 93h0m585-306h0m403 29h0m-87-65h0m-728 134h0m688-50h0m84 445h0m52 14h0m349-158h0m-1010 134h0m762 45h0m-276-447h0m-588 259h0m29-236h0m628 263h0m97-326h0m-389-189h0m-313 395h0m106-94h0m822 101h0m-931 195h0m562-81h0m542-51h0m-942 293h0m-9-201h0m326-227h0m-170 154h0m-354-63h0m184-378h0m176 637h0m536-311h0m-698 162h0m635-78h0m-40-86h0m-352 235h0" stroke="#28dce2" stroke-width="24"/>
<path d="M1585 3060h0m86-62h0m-544 224h0m209-59h0m590 23h0m1 120h0m-579-636h0m109 619h0m-465-23h0m704-145h0m-241-153h0m420-46h0m38 142h0m-874-70h0m-194 68h0m1246 116h0m-720-372h0m-277 337h0m407-465h0m-532 237h0m294-239h0m33 474h0m75-136h0m-216 36h0m424-351h0m-317 707h0m28-744h0m-17 470h0m654 212h0m-665-336h0m109-42h0m-23 361h0m62-322h0m653 127h0m-1068-177h0m251-86h0m-200 320h0m-35 67h0m80 52h0m243-515h0" stroke="#0b6a74" stroke-width="33"/>
<path d="M1585 3060h0m86-62h0m-544 224h0m209-59h0m590 23h0m1 120h0m-579-636h0m109 619h0m-465-23h0m704-145h0m-241-153h0m420-46h0m38 142h0m-874-70h0m-194 68h0m1246 116h0m-720-372h0m-277 337h0m407-465h0m-532 237h0m294-239h0m33 474h0m75-136h0m-216 36h0m424-351h0m-317 707h0m28-744h0m-17 470h0m654 212h0m-665-336h0m109-42h0m-23 361h0m62-322h0m653 127h0m-1068-177h0m251-86h0m-200 320h0m-35 67h0m80 52h0m243-515h0" stroke="#28dce2" stroke-width="24"/>
<path d="M1084 3241h0m-83-160h0m-227-4h0m895 323h0m-7-492h0m-484 181h0m266-346h0m452 423h0m-787-256h0m355 69h0m-424-65h0m454 463h0m-704-370h0m566-213h0m377 263h0m-784 55h0m815-151h0m-527 335h0m117-534h0m-300 143h0m157-224h0m-179 399h0m-180 69h0m231-219h0m-154 301h0m431-87h0m-255 28h0m687-183h0m-514 184h0m126-194h0m-482 179h0m183 242h0m436-167h0m-170-343h0m-95-107h0m-378 442h0m-20-68h0m705 112h0m-167 24h0m-386-420h0" stroke="#0b6a74" stroke-width="33"/>
<path d="M1084 3241h0m-83-160h0m-227-4h0m895 323h0m-7-492h0m-484 181h0m266-346h0m452 423h0m-787-256h0m355 69h0m-424-65h0m454 463h0m-704-370h0m566-213h0m377 263h0m-784 55h0m815-151h0m-527 335h0m117-534h0m-300 143h0m157-224h0m-179 399h0m-180 69h0m231-219h0m-154 301h0m431-87h0m-255 28h0m687-183h0m-514 184h0m126-194h0m-482 179h0m183 242h0m436-167h0m-170-343h0m-95-107h0m-378 442h0m-20-68h0m705 112h0m-167 24h0m-386-420h0" stroke="#28dce2" stroke-width="24"/>
<path d="M1817 3066h0m-425-281h0m-228 650h0m247-64h0m-451-288h0m716 42h0m27-23h0m-332-196h0m-196 433h0m177-264h0m-203-111h0m229 417h0m146-176h0m-259-166h0m808 230h0m-653-340h0m-282 22h0m335 358h0m-86-634h0m356 603h0m-837-359h0m966 445h0m-30 54h0m-1091-187h0m854-197h0m-556 136h0m397-515h0m282 424h0m-380-149h0m69 25h0m-128 274h0m309-452h0m-204-55h0m-477 363h0m1 99h0m497 26h0m-547-161h0m-15 235h0m550 149h0m-481-186h0" stroke="#0b6a74" stroke-width="33"/>
<path d="M1817 3066h0m-425-281h0m-228 650h0m247-64h0m-451-288h0m716 42h0m27-23h0m-332-196h0m-196 433h0m177-264h0m-203-111h0m229 417h0m146-176h0m-259-166h0m808 230h0m-653-340h0m-282 22h0m335 358h0m-86-634h0m356 603h0m-837-359h0m966 445h0m-30 54h0m-1091-187h0m854-197h0m-556 136h0m397-515h0m282 424h0m-380-149h0m69 25h0m-128 274h0m309-452h0m-204-55h0m-477 363h0m1 99h0m497 26h0m-547-161h0m-15 235h0m550 149h0m-481-186h0" stroke="#28dce2" stroke-width="24"/>
<path d="M1172 2757h0m-106 118h0m-89 143h0m198 258h0m534 28h0m-373-208h0m26 213h0m518-103h0m-619-106h0m618-104h0m-671 116h0m16 36h0m-135 271h0m774-456h0m-761 446h0m233-272h0m162-354h0m91 457h0m305-327h0m-279-119h0m-737 293h0m396-151h0m79-206h0m-291 311h0m295 365h0m-469-214h0m-168-122h0m459-150h0m286-83h0m-265 192h0m-235-173h0m68 210h0m360 44h0m13-207h0m82 233h0m-345 251h0m387-310h0m11-221h0m21 445h0m-317-257h0" stroke="#0b6a74" stroke-width="33"/>
<path d="M1172 2757h0m-106 118h0m-89 143h0m198 258h0m534 28h0m-373-208h0m26 213h0m518-103h0m-619-106h0m618-104h0m-671 116h0m16 36h0m-135 271h0m774-456h0m-761 446h0m233-272h0m162-354h0m91 457h0m305-327h0m-279-119h0m-737 293h0m396-151h0m79-206h0m-291 311h0m295 365h0m-469-214h0m-168-122h0m459-150h0m286-83h0m-265 192h0m-235-173h0m68 210h0m360 44h0m13-207h0m82 233h0m-345 251h0m387-310h0m11-221h0m21 445h0m-317-257h0" stroke="#28dce2" stroke-width="24"/>
<path d="M932 3140h0m162-283h0m-85 422h0m975-99h0m-201 44h0m-324 138h0m-26-331h0m149 307h0m-378-19h0m-181-49h0m962-217h0m-539-68h0m36-221h0m-363 312h0m295-405h0m-142 53h0m381 487h0m178 0h0m-434-381h0m-70 133h0m362 282h0m-461-483h0m-8 200h0m-68 411h0m-190-168h0m-204 25h0m715-300h0m-190 45h0m-59 100h0m-343 171h0m-31 55h0m526-256h0m-329 258h0m359-675h0m-142 651h0m252 82h0m-196-517h0m78-142h0m-238-55h0m296 450h0" stroke="#0b6a74" stroke-width="33"/>
<path d="M932 3140h0m162-283h0m-85 422h0m975-99h0m-201 44h0m-324 138h0m-26-331h0m149 307h0m-378-19h0m-181-49h0m962-217h0m-539-68h0m36-221h0m-363 312h0m295-405h0m-142 53h0m381 487h0m178 0h0m-434-381h0m-70 133h0m362 282h0m-461-483h0m-8 200h0m-68 411h0m-190-168h0m-204 25h0m715-300h0m-190 45h0m-59 100h0m-343 171h0m-31 55h0m526-256h0m-329 258h0m359-675h0m-142 651h0m252 82h0m-196-517h0m78-142h0m-238-55h0m296 450h0" stroke="#28dce2" stroke-width="24"/>
<path d="M1601 3344h0m-710-335h0m387-4h0m-110 363h0m166-726h0m523 413h0m63 219h0m-591 13h0m111 154h0m-471-360h0m-162-44h0m877-52h0m-69 21h0m417 232h0m-905-83h0m-116 166h0m-283-296h0m486-246h0m-49 431h0m-196 35h0m156-218h0m642 361h0m-934-366h0m842 16h0m-142 371h0m112-288h0m-483-248h0m872 421h0m-263 44h0m-908-101h0m146-434h0m-33 68h0m797 426h0m-764-421h0m149 347h0m-212-157h0m393-26h0m85 97h0m573-78h0m-515-315h0" stroke="#0b6a74" stroke-width="33"/>
<path d="M1601 3344h0m-710-335h0m387-4h0m-110 363h0m166-726h0m523 413h0m63 219h0m-591 13h0m111 154h0m-471-360h0m-162-44h0m877-52h0m-69 21h0m417 232h0m-905-83h0m-116 166h0m-283-296h0m486-246h0m-49 431h0m-196 35h0m156-218h0m642 361h0m-934-366h0m842 16h0m-142 371h0m112-288h0m-483-248h0m872 421h0m-263 44h0m-908-101h0m146-434h0m-33 68h0m797 426h0m-764-421h0m149 347h0m-212-157h0m393-26h0m85 97h0m573-78h0m-515-315h0" stroke="#28dce2" stroke-width="24"/>
<path d="M1587 3363h0m-234-132h0m2-229h0m-218 304h0m504-417h0m-760 396h0m29-264h0m98 103h0m214-1h0m349-367h0m396 335h0m-309 233h0m-184-301h0m-259 283h0m228-364h0m342 142h0m-515-403h0m-113 176h0m341 39h0m-296 542h0m-279-491h0m894-76h0m-539 21h0m543-7h0m-1017 98h0m1086 355h0m-87-29h0m-169-134h0m-789-98h0m1255 84h0m-544-99h0m-441 177h0m965-89h0m-597 170h0m87-593h0m146 345h0m25 49h0m292-81h0m-642-221h0m538 387h0" stroke="#0b6a74" stroke-width="33"/>
<path d="M1587 3363h0m-234-132h0m2-229h0m-218 304h0m504-417h0m-760 396h0m29-264h0m98 103h0m214-1h0m349-367h0m396 335h0m-309 233h0m-184-301h0m-259 283h0m228-364h0m342 142h0m-515-403h0m-113 176h0m341 39h0m-296 542h0m-279-491h0m894-76h0m-539 21h0m543-7h0m-1017 98h0m1086 355h0m-87-29h0m-169-134h0m-789-98h0m1255 84h0m-544-99h0m-441 177h0m965-89h0m-597 170h0m87-593h0m146 345h0m25 49h0m292-81h0m-642-221h0m538 387h0" stroke="#28dce2" stroke-width="24"/>
<path d="M1276 2628h0m22 261h0m399 84h0m-256-178h0m-420 584h0m-12-9h0m430-707h0m-597 465h0m258-376h0m233 662h0m410-192h0m-959-99h0m-2 142h0m-40-147h0m941-182h0m295 151h0m-192 314h0m-164-283h0m305-112h0m-890-195h0m158 142h0m641 385h0m-345-669h0m-521 279h0m613-153h0m15 283h0m105 133h0m-236-318h0m208 254h0m-560-334h0m954 459h0m-957-380h0m154 315h0m135-161h0m-333-134h0m190-279h0m398 440h0m394 171h0m-135-228h0m-670-277h0" stroke="#0b6a74" stroke-width="33"/>
<path d="M1276 2628h0m22 261h0m399 84h0m-256-178h0m-420 584h0m-12-9h0m430-707h0m-597 465h0m258-376h0m233 662h0m410-192h0m-959-99h0m-2 142h0m-40-147h0m941-182h0m295 151h0m-192 314h0m-164-283h0m305-112h0m-890-195h0m158 142h0m641 385h0m-345-669h0m-521 279h0m613-153h0m15 283h0m105 133h0m-236-318h0m208 254h0m-560-334h0m954 459h0m-957-380h0m154 315h0m135-161h0m-333-134h0m190-279h0m398 440h0m394 171h0m-135-228h0m-670-277h0" stroke="#28dce2" stroke-width="24"/>
<path d="M1145 2974h0m-66-78h0m667 460h0m-494-405h0m685 74h0m-540 325h0m3-233h0m184-306h0m127 42h0m-81 127h0m-572 9h0m436 173h0m135-30h0m-289-113h0m-211 268h0m463 117h0m-85-402h0m140 309h0m-344-454h0m441-30h0m-79 469h0m107-510h0m-938 443h0m330 248h0m401-224h0m-152-505h0m484 446h0m-459 145h0m537-139h0m187-37h0m-1330-11h0m659-54h0m213 92h0m-345-543h0m467 610h0m-546 133h0m139-588h0m-183 148h0m172 141h0m-130 269h0" stroke="#0b6a74" stroke-width="33"/>
<path d="M1145 2974h0m-66-78h0m667 460h0m-494-405h0m685 74h0m-540 325h0m3-233h0m184-306h0m127 42h0m-81 127h0m-572 9h0m436 173h0m135-30h0m-289-113h0m-211 268h0m463 117h0m-85-402h0m140 309h0m-344-454h0m441-30h0m-79 469h0m107-510h0m-938 443h0m330 248h0m401-224h0m-152-505h0m484 446h0m-459 145h0m537-139h0m187-37h0m-1330-11h0m659-54h0m213 92h0m-345-543h0m467 610h0m-546 133h0m139-588h0m-183 148h0m172 141h0m-130 269h0" stroke="#28dce2" stroke-width="24"/>
<path d="M1637 3156h0m-303 11h0m-40 195h0m826-140h0m-878 30h0m-1-129h0m600 101h0m-241-5h0m321-296h0m62 412h0m-523-621h0m-197 251h0m-96 304h0m534-254h0m-84 71h0m-821-16h0m375 129h0m-133-397h0m344 119h0m391 142h0m102 261h0m-406-359h0m386 243h0m-82 158h0m-699-439h0m596-143h0m-212 239h0m-64 327h0m143-379h0m-218 234h0m551-142h0m-230 194h0m-16-330h0m-265 310h0m343-51h0m158-173h0m-230-59h0m-598 264h0m97-261h0m-98-105h0" stroke="#0b6a74" stroke-width="33"/>
<path d="M1637 3156h0m-303 11h0m-40 195h0m826-140h0m-878 30h0m-1-129h0m600 101h0m-241-5h0m321-296h0m62 412h0m-523-621h0m-197 251h0m-96 304h0m534-254h0m-84 71h0m-821-16h0m375 129h0m-133-397h0m344 119h0m391 142h0m102 261h0m-406-359h0m386 243h0m-82 158h0m-699-439h0m596-143h0m-212 239h0m-64 327h0m143-379h0m-218 234h0m551-142h0m-230 194h0m-16-330h0m-265 310h0m343-51h0m158-173h0m-230-59h0m-598 264h0m97-261h0m-98-105h0" stroke="#28dce2" stroke-width="24"/>
<path d="M1121 3390h0m-161-431h0m433 199h0m294-432h0m-892 365h0m960 243h0m113-99h0m-348-242h0m13 111h0m105-402h0m-255 384h0m-1 94h0m190-341h0m-82 510h0m361-413h0m-1003 77h0m409 66h0m506-80h0m-194 197h0m197-15h0m-1000-51h0m110-94h0m388 293h0m779-231h0m-695 148h0m536-96h0m-980-197h0m789 433h0m107 13h0m-819-366h0m575-332h0m359 381h0m123 36h0m7 88h0m-247-358h0m-190-33h0m103 347h0m-274-519h0m125 628h0m-393 33h0" stroke="#0b6a74" stroke-width="33"/>
<path d="M1121 3390h0m-161-431h0m433 199h0m294-432h0m-892 365h0m960 243h0m113-99h0m-348-242h0m13 111h0m105-402h0m-255 384h0m-1 94h0m190-341h0m-82 510h0m361-413h0m-1003 77h0m409 66h0m506-80h0m-194 197h0m197-15h0m-1000-51h0m110-94h0m388 293h0m779-231h0m-695 148h0m536-96h0m-980-197h0m789 433h0m107 13h0m-819-366h0m575-332h0m359 381h0m123 36h0m7 88h0m-247-358h0m-190-33h0m103 347h0m-274-519h0m125 628h0m-393 33h0" stroke="#28dce2" stroke-width="24"/>
<path d="M1738 2973h0m-192-299h0m-388 374h0m761 92h0m-360 96h0m564-155h0m-1013-116h0m949 82h0m-456-41h0m-422 120h0m135-324h0m666 442h0m176-10h0m-1148-222h0m291 331h0m3-75h0m288-541h0m114 654h0m-831-190h0m-29-218h0m95 43h0m712 414h0m-384-37h0m634-360h0m-798 169h0m-365-97h0m829 356h0m476-429h0m-197-113h0m-589 335h0m322-251h0m-864 104h0m240 14h0m697 105h0m259 105h0m-161-405h0m-240 195h0m-187 180h0m504-101h0m-382-430h0" stroke="#0b6a74" stroke-width="33"/>
<path d="M1738 2973h0m-192-299h0m-388 374h0m761 92h0m-360 96h0m564-155h0m-1013-116h0m949 82h0m-456-41h0m-422 120h0m135-324h0m666 442h0m176-10h0m-1148-222h0m291 331h0m3-75h0m288-541h0m114 654h0m-831-190h0m-29-218h0m95 43h0m712 414h0m-384-37h0m634-360h0m-798 169h0m-365-97h0m829 356h0m476-429h0m-197-113h0m-589 335h0m322-251h0m-864 104h0m240 14h0m697 105h0m259 105h0m-161-405h0m-240 195h0m-187 180h0m504-101h0m-382-430h0" stroke="#28dce2" stroke-width="24"/>
<path d="M1274 2865h0m7-252h0m-51 41h0m69 439h0m-373-76h0m1120 146h0m-1086-289h0m928 255h0m-510 75h0m-299 149h0m482-283h0m-583-102h0m101 52h0m962 128h0m-331-163h0m-155-88h0m-299 303h0m-297-195h0m279 190h0m-351-218h0m1095 171h0m-1098-118h0m762-179h0m-645 533h0m153-116h0m202-116h0m-141-263h0m815 294h0m-580 167h0m341-261h0m-135-66h0m175 16h0m-51-178h0m39 367h0m-461-36h0m-163 122h0m199-372h0m-5 246h0m-361-44h0m845 18h0" stroke="#0b6a74" stroke-width="33"/>
<path d="M1274 2865h0m7-252h0m-51 41h0m69 439h0m-373-76h0m1120 146h0m-1086-289h0m928 255h0m-510 75h0m-299 149h0m482-283h0m-583-102h0m101 52h0m962 128h0m-331-163h0m-155-88h0m-299 303h0m-297-195h0m279 190h0m-351-218h0m1095 171h0m-1098-118h0m762-179h0m-645 533h0m153-116h0m202-116h0m-141-263h0m815 294h0m-580 167h0m341-261h0m-135-66h0m175 16h0m-51-178h0m39 367h0m-461-36h0m-163 122h0m199-372h0m-5 246h0m-361-44h0m845 18h0" stroke="#28dce2" stroke-width="24"/>
<path d="M1055 3016h0m752-32h0m-509-216h0m-215 126h0m1014 204h0m-1100-117h0m71 303h0m49-213h0m604-129h0m84 190h0m1-111h0m-1016 14h0m1109 26h0m-144-282h0m-597-122h0m605 466h0m-490 163h0m498-343h0m-457-310h0m185 651h0m-376-256h0m260 114h0m-187-145h0m-181 174h0m723-271h0m-852 305h0m913 62h0m-100-257h0m-373-13h0m-419 306h0m998 50h0m-931-321h0m648 414h0m322-327h0m84 54h0m-908-264h0m262 210h0m-261-68h0m-58 77h0m94 61h0" stroke="#0b6a74" stroke-width="33"/>
<path d="M1055 3016h0m752-32h0m-509-216h0m-215 126h0m1014 204h0m-1100-117h0m71 303h0m49-213h0m604-129h0m84 190h0m1-111h0m-1016 14h0m1109 26h0m-144-282h0m-597-122h0m605 466h0m-490 163h0m498-343h0m-457-310h0m185 651h0m-376-256h0m260 114h0m-187-145h0m-181 174h0m723-271h0m-852 305h0m913 62h0m-100-257h0m-373-13h0m-419 306h0m998 50h0m-931-321h0m648 414h0m322-327h0m84 54h0m-908-264h0m262 210h0m-261-68h0m-58 77h0m94 61h0" stroke="#28dce2" stroke-width="24"/>
<path d="M1524 3320h0m428-15h0m-141-387h0m-480-175h0m-142 53h0m408 359h0m-300 86h0m192-132h0m-170 29h0m387-190h0m172 237h0m33-40h0m83-153h0m-472 52h0m178-184h0m-54 472h0m-174-265h0m-185-340h0m731 498h0m-329 106h0m-482-519h0m-104 550h0m794-186h0m-653-97h0m348-244h0m-763 300h0m766-162h0m-652 197h0m767-424h0m114 280h0m-739-26h0m-251 267h0m450-119h0m100-275h0m-301-124h0m204 667h0m459-277h0m-369-400h0m542 227h0m-491 345h0" stroke="#0b6a74" stroke-width="33"/>
<path d="M1524 3320h0m428-15h0m-141-387h0m-480-175h0m-142 53h0m408 359h0m-300 86h0m192-132h0m-170 29h0m387-190h0m172 237h0m33-40h0m83-153h0m-472 52h0m178-184h0m-54 472h0m-174-265h0m-185-340h0m731 498h0m-329 106h0m-482-519h0m-104 550h0m794-186h0m-653-97h0m348-244h0m-763 300h0m766-162h0m-652 197h0m767-424h0m114 280h0m-739-26h0m-251 267h0m450-119h0m100-275h0m-301-124h0m204 667h0m459-277h0m-369-400h0m542 227h0m-491 345h0" stroke="#28dce2" stroke-width="24"/>
<path d="M1478 3268h0m-307-562h0m-496 381h0m551-450h0m28 105h0m-449 244h0m284 201h0m942 77h0m-818-17h0m523 15h0m-759 39h0m635-80h0m-519-386h0m716 2h0m-764 410h0m1035-168h0m-287-257h0m-310 93h0m-54 399h0m370-80h0m-847 73h0m894-280h0m-462-61h0m-71-313h0m275 197h0m287 417h0m-589-207h0m278 380h0m-277-457h0m533 232h0m-758 144h0m269-166h0m459 133h0m-645-434h0m170-185h0m-115 61h0m-127 213h0m502 160h0m-749 105h0m654-37h0" stroke="#0b6a74" stroke-width="33"/>
<path d="M1478 3268h0m-307-562h0m-496 381h0m551-450h0m28 105h0m-449 244h0m284 201h0m942 77h0m-818-17h0m523 15h0m-759 39h0m635-80h0m-519-386h0m716 2h0m-764 410h0m1035-168h0m-287-257h0m-310 93h0m-54 399h0m370-80h0m-847 73h0m894-280h0m-462-61h0m-71-313h0m275 197h0m287 417h0m-589-207h0m278 380h0m-277-457h0m533 232h0m-758 144h0m269-166h0m459 133h0m-645-434h0m170-185h0m-115 61h0m-127 213h0m502 160h0m-749 105h0m654-37h0" stroke="#28dce2" stroke-width="24"/>
<path d="M1070 2736h0m-399 357h0m343 126h0m418-309h0m-426 3h0m254-19h0m831 226h0m-1056 160h0m304-510h0m60 26h0m317 325h0m-303 229h0m-153-125h0m857 58h0m-882-131h0m-306 147h0m104-248h0m337-366h0m-89 242h0m-73-94h0m-136 17h0m401-88h0m302 125h0m-574 300h0m-290 56h0m801 95h0m40-149h0m-676-108h0m247-361h0m206 71h0m-35-142h0m-413 134h0m164 125h0m397 165h0m-12 30h0m-366-180h0m417-127h0m28 467h0m-621-154h0m404-86h0" stroke="#0b6a74" stroke-width="33"/>
<path d="M1070 2736h0m-399 357h0m343 126h0m418-309h0m-426 3h0m254-19h0m831 226h0m-1056 160h0m304-510h0m60 26h0m317 325h0m-303 229h0m-153-125h0m857 58h0m-882-131h0m-306 147h0m104-248h0m337-366h0m-89 242h0m-73-94h0m-136 17h0m401-88h0m302 125h0m-574 300h0m-290 56h0m801 95h0m40-149h0m-676-108h0m247-361h0m206 71h0m-35-142h0m-413 134h0m164 125h0m397 165h0m-12 30h0m-366-180h0m417-127h0m28 467h0m-621-154h0m404-86h0" stroke="#28dce2" stroke-width="24"/>
<path d="M1012 2958h0m304-83h0m-374 458h0m-18-397h0m931 147h0m-497-385h0m293 403h0m11 10h0m347 107h0m-476-300h0m49 145h0m6 181h0m-333-438h0m670 294h0m-255-7h0m-124-162h0m-369 484h0m10-573h0m42-52h0m674 519h0m-319-527h0m192-16h0m-625 166h0m-141-96h0m887 109h0m-1199 137h0m1451 74h0m-994 307h0m-315-487h0m822 428h0m-194-39h0m-469-514h0m-170 149h0m829-156h0m125 373h0m-296-49h0m281 99h0m-286-264h0m224-257h0m71 238h0" stroke="#0b6a74" stroke-width="33"/>
<path d="M1012 2958h0m304-83h0m-374 458h0m-18-397h0m931 147h0m-497-385h0m293 403h0m11 10h0m347 107h0m-476-300h0m49 145h0m6 181h0m-333-438h0m670 294h0m-255-7h0m-124-162h0m-369 484h0m10-573h0m42-52h0m674 519h0m-319-527h0m192-16h0m-625 166h0m-141-96h0m887 109h0m-1199 137h0m1451 74h0m-994 307h0m-315-487h0m822 428h0m-194-39h0m-469-514h0m-170 149h0m829-156h0m125 373h0m-296-49h0m281 99h0m-286-264h0m224-257h0m71 238h0" stroke="#28dce2" stroke-width="24"/>
<path d="M2089 3120h0m-88-89h0m-921-219h0m462 378h0m-792-15h0m1138-144h0m-723-256h0m973 335h0m-1441-2h0m481 354h0m328-770h0m89-10h0m-319 387h0m232 358h0m-115-303h0m160-293h0m-496-47h0m-133 338h0m-7 112h0m6 26h0m877 13h0m-548-168h0m87 107h0m63-477h0m265 216h0m47-167h0m-298 79h0m59 514h0m670-171h0m-569 184h0m15-490h0m-843 177h0m406 287h0m506-365h0m-579 260h0m179 124h0m-345-88h0m1136 77h0m-469-68h0m-44-66h0" stroke="#0b6a74" stroke-width="33"/>
<path d="M2089 3120h0m-88-89h0m-921-219h0m462 378h0m-792-15h0m1138-144h0m-723-256h0m973 335h0m-1441-2h0m481 354h0m328-770h0m89-10h0m-319 387h0m232 358h0m-115-303h0m160-293h0m-496-47h0m-133 338h0m-7 112h0m6 26h0m877 13h0m-548-168h0m87 107h0m63-477h0m265 216h0m47-167h0m-298 79h0m59 514h0m670-171h0m-569 184h0m15-490h0m-843 177h0m406 287h0m506-365h0m-579 260h0m179 124h0m-345-88h0m1136 77h0m-469-68h0m-44-66h0" stroke="#28dce2" stroke-width="24"/>
<path d="M1179 2875h0m225 109h0m-57-379h0m-386 662h0m594-121h0m147 173h0m-255-626h0m299 258h0m88 375h0m-143-429h0m15 336h0m-133-295h0m97 127h0m-246-231h0m-543 437h0m382 74h0m639 25h0m-4-253h0m-672 172h0m281-151h0m369-185h0m-1015-12h0m28 131h0m1059 189h0m-231-500h0m-307 331h0m-343 137h0m727 109h0m-64 43h0m-608-308h0m208-117h0m219-216h0m-255 655h0m167-13h0m-296-198h0m-212-295h0m267 277h0m247-366h0m261 189h0m-510-273h0" stroke="#0b6a74" stroke-width="33"/>
<path d="M1179 2875h0m225 109h0m-57-379h0m-386 662h0m594-121h0m147 173h0m-255-626h0m299 258h0m88 375h0m-143-429h0m15 336h0m-133-295h0m97 127h0m-246-231h0m-543 437h0m382 74h0m639 25h0m-4-253h0m-672 172h0m281-151h0m369-185h0m-1015-12h0m28 131h0m1059 189h0m-231-500h0m-307 331h0m-343 137h0m727 109h0m-64 43h0m-608-308h0m208-117h0m219-216h0m-255 655h0m167-13h0m-296-198h0m-212-295h0m267 277h0m247-366h0m261 189h0m-510-273h0" stroke="#28dce2" stroke-width="24"/>
<path d="M1118 2798h0m763 507h0m-1113-117h0m132-208h0m385 72h0m324-205h0m-91 361h0m-547-372h0m445 222h0m-94-175h0m434-119h0m-328 433h0m682-96h0m-981 69h0m-125 220h0m358-439h0m620 207h0m-675-316h0m282 452h0m235-331h0m-351-282h0m-526 346h0m891-135h0m-267 287h0m-421-341h0m-25 57h0m-334 224h0m899-148h0m-679-51h0m16 54h0m597 378h0m-486-136h0m179-91h0m-241 167h0m346-320h0m-344 417h0m-266-257h0m139-226h0m463 326h0m44-274h0" stroke="#0b6a74" stroke-width="33"/>
<path d="M1118 2798h0m763 507h0m-1113-117h0m132-208h0m385 72h0m324-205h0m-91 361h0m-547-372h0m445 222h0m-94-175h0m434-119h0m-328 433h0m682-96h0m-981 69h0m-125 220h0m358-439h0m620 207h0m-675-316h0m282 452h0m235-331h0m-351-282h0m-526 346h0m891-135h0m-267 287h0m-421-341h0m-25 57h0m-334 224h0m899-148h0m-679-51h0m16 54h0m597 378h0m-486-136h0m179-91h0m-241 167h0m346-320h0m-344 417h0m-266-257h0m139-226h0m463 326h0m44-274h0" stroke="#28dce2" stroke-width="24"/>
<path d="M2011 3045h0m-525-210h0m-551 513h0m214-530h0m350 368h0m-46-460h0m-185 116h0m-233 193h0m28 166h0m-55 138h0m964-144h0m-981-264h0m309 243h0m234-272h0m-453 426h0m111-605h0m176 622h0m-223-87h0m346-394h0m-395-71h0m378 283h0m-148-295h0m-506 313h0m902-214h0m-768 334h0m-108 32h0m71 134h0m528-528h0m145 563h0m-612-515h0m591 384h0m-47-339h0m-518 279h0m998-45h0m-822 33h0m782-32h0m-360 114h0m-82-201h0m154-252h0m179 417h0" stroke="#0b6a74" stroke-width="33"/>
<path d="M2011 3045h0m-525-210h0m-551 513h0m214-530h0m350 368h0m-46-460h0m-185 116h0m-233 193h0m28 166h0m-55 138h0m964-144h0m-981-264h0m309 243h0m234-272h0m-453 426h0m111-605h0m176 622h0m-223-87h0m346-394h0m-395-71h0m378 283h0m-148-295h0m-506 313h0m902-214h0m-768 334h0m-108 32h0m71 134h0m528-528h0m145 563h0m-612-515h0m591 384h0m-47-339h0m-518 279h0m998-45h0m-822 33h0m782-32h0m-360 114h0m-82-201h0m154-252h0m179 417h0" stroke="#28dce2" stroke-width="24"/>
<path d="M1914 3222h0m-562-103h0m410 262h0m-302-734h0m-372 724h0m361-304h0m-3 62h0m-362 151h0m49 117h0m164-594h0m-176-71h0m429 66h0m356 347h0m-453-104h0m-10-171h0m225 470h0m-58-18h0m-9-435h0m344 167h0m-437 159h0m95-204h0m-615 49h0m1091 71h0m-834 14h0m692 103h0m-107-376h0m-1071 349h0m555 194h0m65-468h0m305 103h0m-27 195h0m-314-355h0m346 31h0m-121-241h0m68 295h0m-147 289h0m14-142h0m229-94h0m-421-285h0m235 358h0" stroke="#0b6a74" stroke-width="33"/>
<path d="M1914 3222h0m-562-103h0m410 262h0m-302-734h0m-372 724h0m361-304h0m-3 62h0m-362 151h0m49 117h0m164-594h0m-176-71h0m429 66h0m356 347h0m-453-104h0m-10-171h0m225 470h0m-58-18h0m-9-435h0m344 167h0m-437 159h0m95-204h0m-615 49h0m1091 71h0m-834 14h0m692 103h0m-107-376h0m-1071 349h0m555 194h0m65-468h0m305 103h0m-27 195h0m-314-355h0m346 31h0m-121-241h0m68 295h0m-147 289h0m14-142h0m229-94h0m-421-285h0m235 358h0" stroke="#28dce2" stroke-width="24"/>
<path d="M1204 2644h0m42 337h0m327 226h0m108 75h0m170 4h0m-578 58h0m722-151h0m-942-137h0m847 242h0m-630-316h0m590 372h0m-538 24h0m179-562h0m-500 482h0m1114-104h0m-1255 156h0m318-173h0m225-117h0m51-51h0m-505 379h0m767-299h0m35-207h0m-503-156h0m-166 87h0m158 522h0m-411-369h0m126-38h0m906 173h0m-757 236h0m813-91h0m-188-239h0m-84-88h0m293 33h0m-1021 23h0m301-259h0m40 589h0m-422-257h0m1221 30h0m-959-52h0m4 93h0" stroke="#0b6a74" stroke-width="33"/>
<path d="M1204 2644h0m42 337h0m327 226h0m108 75h0m170 4h0m-578 58h0m722-151h0m-942-137h0m847 242h0m-630-316h0m590 372h0m-538 24h0m179-562h0m-500 482h0m1114-104h0m-1255 156h0m318-173h0m225-117h0m51-51h0m-505 379h0m767-299h0m35-207h0m-503-156h0m-166 87h0m158 522h0m-411-369h0m126-38h0m906 173h0m-757 236h0m813-91h0m-188-239h0m-84-88h0m293 33h0m-1021 23h0m301-259h0m40 589h0m-422-257h0m1221 30h0m-959-52h0m4 93h0" stroke="#28dce2" stroke-width="24"/>
<path d="M1673 2942h0m101 345h0m-260-123h0m-642-242h0m1024 86h0m-703-41h0m257-224h0m477 625h0m-951-271h0m567 251h0m274-242h0m-89-249h0m-776 502h0m-37-256h0m76-231h0m-49 123h0m575-27h0m166-151h0m-336 333h0m-176-422h0m21 540h0m447-249h0m-191-203h0m-563 324h0m211 148h0m-353-259h0m221 195h0m330-35h0m-410-81h0m416 191h0m651-12h0m-1158-207h0m208-93h0m-232 216h0m659-323h0m-580 324h0m671 62h0m-147-542h0m-388 334h0m475 361h0" stroke="#0b6a74" stroke-width="33"/>
<path d="M1673 2942h0m101 345h0m-260-123h0m-642-242h0m1024 86h0m-703-41h0m257-224h0m477 625h0m-951-271h0m567 251h0m274-242h0m-89-249h0m-776 502h0m-37-256h0m76-231h0m-49 123h0m575-27h0m166-151h0m-336 333h0m-176-422h0m21 540h0m447-249h0m-191-203h0m-563 324h0m211 148h0m-353-259h0m221 195h0m330-35h0m-410-81h0m416 191h0m651-12h0m-1158-207h0m208-93h0m-232 216h0m659-323h0m-580 324h0m671 62h0m-147-542h0m-388 334h0m475 361h0" stroke="#28dce2" stroke-width="24"/>
<path d="M1172 2877h0m-290 469h0m422-67h0m14 70h0m55-18h0m0-558h0m134-114h0m205 702h0m68-248h0m-43-369h0m-438 528h0m100-391h0m194-124h0m-317 41h0m-73 255h0m727 171h0m-1146-204h0m1129 207h0m21-266h0m-911 159h0m474-165h0m-684 238h0m482-483h0m643 387h0m-549-68h0m67-148h0m617 339h0m-240 173h0m-42-223h0m-540-519h0m288 621h0m-370-47h0m920-149h0m-852-258h0m-47 268h0m31-66h0m488 21h0m-504-297h0m665 565h0m-588-453h0" stroke="#0b6a74" stroke-width="33"/>
<path d="M1172 2877h0m-290 469h0m422-67h0m14 70h0m55-18h0m0-558h0m134-114h0m205 702h0m68-248h0m-43-369h0m-438 528h0m100-391h0m194-124h0m-317 41h0m-73 255h0m727 171h0m-1146-204h0m1129 207h0m21-266h0m-911 159h0m474-165h0m-684 238h0m482-483h0m643 387h0m-549-68h0m67-148h0m617 339h0m-240 173h0m-42-223h0m-540-519h0m288 621h0m-370-47h0m920-149h0m-852-258h0m-47 268h0m31-66h0m488 21h0m-504-297h0m665 565h0m-588-453h0" stroke="#28dce2" stroke-width="24"/>
<path d="M1805 3389h0m-415-67h0m166-282h0m-616 255h0m794-91h0m-416-137h0m15-4h0m129 43h0m-160 32h0m330-353h0m-503-95h0m340 564h0m53 132h0m529-244h0m-886 174h0m272-239h0m551-39h0m-761 74h0m93 288h0m386-402h0m265 45h0m-636 173h0m-188-449h0m286-18h0m383 533h0m96-312h0m-334-98h0m21 309h0m-493-434h0m278 253h0m-660 139h0m71 68h0m660 87h0m-396-407h0m-86 259h0m806-342h0m331 308h0m-736 163h0m585-273h0m-661 373h0" stroke="#0b6a74" stroke-width="33"/>
<path d="M1805 3389h0m-415-67h0m166-282h0m-616 255h0m794-91h0m-416-137h0m15-4h0m129 43h0m-160 32h0m330-353h0m-503-95h0m340 564h0m53 132h0m529-244h0m-886 174h0m272-239h0m551-39h0m-761 74h0m93 288h0m386-402h0m265 45h0m-636 173h0m-188-449h0m286-18h0m383 533h0m96-312h0m-334-98h0m21 309h0m-493-434h0m278 253h0m-660 139h0m71 68h0m660 87h0m-396-407h0m-86 259h0m806-342h0m331 308h0m-736 163h0m585-273h0m-661 373h0" stroke="#28dce2" stroke-width="24"/>
<path d="M1731 2992h0m-784-59h0m-15 328h0m1015-125h0m-1123 39h0m509-132h0m353-22h0m-154-76h0m-329 286h0m-369-19h0m517-511h0m-445 662h0m633-365h0m311 42h0m-797 158h0m381-492h0m611 618h0m-674-320h0m-387 243h0m-15-94h0m281 210h0m228-110h0m-498-205h0m742-253h0m-216 77h0m32-109h0m247 513h0m-509-207h0m479 85h0m-548-55h0m458-341h0m-19 285h0m308 221h0m-631-325h0m32-23h0m-462 16h0m782 28h0m172 360h0m-111-400h0m327 187h0" stroke="#0b6a74" stroke-width="33"/>
<path d="M1731 2992h0m-784-59h0m-15 328h0m1015-125h0m-1123 39h0m509-132h0m353-22h0m-154-76h0m-329 286h0m-369-19h0m517-511h0m-445 662h0m633-365h0m311 42h0m-797 158h0m381-492h0m611 618h0m-674-320h0m-387 243h0m-15-94h0m281 210h0m228-110h0m-498-205h0m742-253h0m-216 77h0m32-109h0m247 513h0m-509-207h0m479 85h0m-548-55h0m458-341h0m-19 285h0m308 221h0m-631-325h0m32-23h0m-462 16h0m782 28h0m172 360h0m-111-400h0m327 187h0" stroke="#28dce2" stroke-width="24"/>
<path d="M1076 3210h0m-195-238h0m500-122h0m-190 282h0m316-414h0m-448 212h0m588 446h0m-354-766h0m168 256h0m-317 244h0m82-442h0m600 242h0m-39 457h0m117-126h0m-700-257h0m-80 115h0m201-90h0m-162 143h0m5-250h0m186 267h0m-346-67h0m81-20h0m66-88h0m-140-169h0m-180 361h0m570-554h0m-366 200h0m-178 276h0m594 112h0m-244-356h0m527 379h0m-112-36h0m-581 211h0m640-257h0m-921-101h0m1047-277h0m-334 412h0m515-151h0m-678-93h0m-166 62h0" stroke="#0b6a74" stroke-width="33"/>
<path d="M1076 3210h0m-195-238h0m500-122h0m-190 282h0m316-414h0m-448 212h0m588 446h0m-354-766h0m168 256h0m-317 244h0m82-442h0m600 242h0m-39 457h0m117-126h0m-700-257h0m-80 115h0m201-90h0m-162 143h0m5-250h0m186 267h0m-346-67h0m81-20h0m66-88h0m-140-169h0m-180 361h0m570-554h0m-366 200h0m-178 276h0m594 112h0m-244-356h0m527 379h0m-112-36h0m-581 211h0m640-257h0m-921-101h0m1047-277h0m-334 412h0m515-151h0m-678-93h0m-166 62h0" stroke="#28dce2" stroke-width="24"/>
<path d="M1752 2932h0m-246-171h0m-57 415h0m-544-117h0m289 357h0m-167-321h0m73-9h0m852 155h0m-493-86h0m476-170h0m-872 26h0m363-231h0m93 233h0m264-106h0m19 279h0m-576-354h0m539 197h0m-284-236h0m-282 247h0m26 241h0m760 1h0m-96-14h0m-973-264h0m855 4h0m-628 392h0m256-703h0m172 620h0m-700-16h0m121-117h0m1054 128h0m-404-26h0m34-19h0m376 70h0m-93-177h0m-611-304h0m-117 200h0m184 121h0m14 100h0m-267-442h0m-60 18h0" stroke="#0b6a74" stroke-width="33"/>
<path d="M1752 2932h0m-246-171h0m-57 415h0m-544-117h0m289 357h0m-167-321h0m73-9h0m852 155h0m-493-86h0m476-170h0m-872 26h0m363-231h0m93 233h0m264-106h0m19 279h0m-576-354h0m539 197h0m-284-236h0m-282 247h0m26 241h0m760 1h0m-96-14h0m-973-264h0m855 4h0m-628 392h0m256-703h0m172 620h0m-700-16h0m121-117h0m1054 128h0m-404-26h0m34-19h0m376 70h0m-93-177h0m-611-304h0m-117 200h0m184 121h0m14 100h0m-267-442h0m-60 18h0" stroke="#28dce2" stroke-width="24"/>
<path d="M1938 3159h0m-737-248h0m-105 99h0m-55 253h0m-55-401h0m342 233h0m316-233h0m-478 232h0m-142-101h0m331 87h0m6 150h0m-236 116h0m87-593h0m304 72h0m-82 79h0m327 209h0m196-54h0m-811 80h0m-62-41h0m459-108h0m-297 230h0m479 62h0m84-221h0m-822 228h0m517 29h0m-313-378h0m107-15h0m431 308h0m-1018-81h0m274 191h0m529-439h0m19 267h0m457-66h0m-284 154h0m-270-105h0m54-409h0m98 223h0m43 304h0m464-104h0m-788 5h0" stroke="#0b6a74" stroke-width="33"/>
<path d="M1938 3159h0m-737-248h0m-105 99h0m-55 253h0m-55-401h0m342 233h0m316-233h0m-478 232h0m-142-101h0m331 87h0m6 150h0m-236 116h0m87-593h0m304 72h0m-82 79h0m327 209h0m196-54h0m-811 80h0m-62-41h0m459-108h0m-297 230h0m479 62h0m84-221h0m-822 228h0m517 29h0m-313-378h0m107-15h0m431 308h0m-1018-81h0m274 191h0m529-439h0m19 267h0m457-66h0m-284 154h0m-270-105h0m54-409h0m98 223h0m43 304h0m464-104h0m-788 5h0" stroke="#28dce2" stroke-width="24"/>
<path d="M744 3155h0m627-227h0m-122 171h0m-13 277h0m-202-345h0m110-291h0m-324 469h0m1316-10h0m-753 21h0m232-162h0m-115 176h0m-480-53h0m714 151h0m300 11h0m-659-734h0m221 716h0m-59-173h0m90 143h0m-789-117h0m141 88h0m262-480h0m46-51h0m-114 123h0m-234 54h0m246 109h0m-420 65h0m470 145h0m751-142h0m-474 314h0m512-327h0m-729-423h0m-165 301h0m219 320h0m627-57h0m147 2h0m-279-259h0m-94 268h0m-883 53h0m911-132h0m-664 145h0" stroke="#0b6a74" stroke-width="33"/>
<path d="M744 3155h0m627-227h0m-122 171h0m-13 277h0m-202-345h0m110-291h0m-324 469h0m1316-10h0m-753 21h0m232-162h0m-115 176h0m-480-53h0m714 151h0m300 11h0m-659-734h0m221 716h0m-59-173h0m90 143h0m-789-117h0m141 88h0m262-480h0m46-51h0m-114 123h0m-234 54h0m246 109h0m-420 65h0m470 145h0m751-142h0m-474 314h0m512-327h0m-729-423h0m-165 301h0m219 320h0m627-57h0m147 2h0m-279-259h0m-94 268h0m-883 53h0m911-132h0m-664 145h0" stroke="#28dce2" stroke-width="24"/>
<path d="M1771 3243h0m-23-151h0m-388 180h0m48-91h0m72-65h0m-35 200h0m-176-569h0m-300 425h0m393-506h0m248 433h0m-210 98h0m-219 78h0m-80-491h0m337 624h0m-423-375h0m394-272h0m-71 49h0m430 297h0m-384-23h0m282 372h0m170-474h0m301 118h0m-487-293h0m46 638h0m-395-406h0m342 155h0m-399-360h0m-185 576h0m954-214h0m-422-290h0m-132 488h0m106-442h0m-888 117h0m91-63h0m579-376h0m347 667h0m-93-365h0m-407 436h0m124-453h0m66-20h0" stroke="#0b6a74" stroke-width="33"/>
<path d="M1771 3243h0m-23-151h0m-388 180h0m48-91h0m72-65h0m-35 200h0m-176-569h0m-300 425h0m393-506h0m248 433h0m-210 98h0m-219 78h0m-80-491h0m337 624h0m-423-375h0m394-272h0m-71 49h0m430 297h0m-384-23h0m282 372h0m170-474h0m301 118h0m-487-293h0m46 638h0m-395-406h0m342 155h0m-399-360h0m-185 576h0m954-214h0m-422-290h0m-132 488h0m106-442h0m-888 117h0m91-63h0m579-376h0m347 667h0m-93-365h0m-407 436h0m124-453h0m66-20h0" stroke="#28dce2" stroke-width="24"/>
<path d="M1767 2804h0m-139 350h0m-491-366h0m119-79h0m596 168h0m14 416h0m-512-243h0m-344 363h0m518-483h0m142-185h0m-323-64h0m91 339h0" stroke="#0b6a74" stroke-width="33"/>
<path d="M1767 2804h0m-139 350h0m-491-366h0m119-79h0m596 168h0m14 416h0m-512-243h0m-344 363h0m518-483h0m142-185h0m-323-64h0m91 339h0" stroke="#28dce2" stroke-width="24"/>
</g>
<g transform="scale(0.1)" fill="none" stroke-linecap="round">
<path d="M610 3260h0m134 98h0m75 38h0m119 59h0m105 23h0m164 52h0m8 18h0m75-30h0m134 15h0m179 0h0m194-45h0m409-251h0m-68 69h0m-82 95h0m-274 69h0m-258-858h0m131 30h0m138 82h0m71 60h0" stroke="#118c94" stroke-width="32"/>
<path d="M610 3260h0m134 98h0m75 38h0m119 59h0m105 23h0m164 52h0m8 18h0m75-30h0m134 15h0m179 0h0m194-45h0m409-251h0m-68 69h0m-82 95h0m-274 69h0m-258-858h0m131 30h0m138 82h0m71 60h0" stroke="#1cc2c6" stroke-width="22"/>
</g>
<rect x="328.25" y="234.25" width="215.0" height="140.0" fill="none" stroke="#c0c0c0" stroke-width="0.8"/>
<line x1="328.25" y1="374.25" x2="328.25" y2="372.45" stroke="#c0c0c0" stroke-width="1.0"/>
<line x1="328.25" y1="234.25" x2="328.25" y2="236.05" stroke="#c0c0c0" stroke-width="1.0"/>
<text x="328.25" y="385" font-size="8.2" text-anchor="middle" fill="#383838" stroke="#383838" stroke-width="0.22">0</text>
<line x1="388.25" y1="374.25" x2="388.25" y2="372.45" stroke="#c0c0c0" stroke-width="1.0"/>
<line x1="388.25" y1="234.25" x2="388.25" y2="236.05" stroke="#c0c0c0" stroke-width="1.0"/>
<text x="388.25" y="385" font-size="8.2" text-anchor="middle" fill="#383838" stroke="#383838" stroke-width="0.22">50</text>
<line x1="448.25" y1="374.25" x2="448.25" y2="372.45" stroke="#c0c0c0" stroke-width="1.0"/>
<line x1="448.25" y1="234.25" x2="448.25" y2="236.05" stroke="#c0c0c0" stroke-width="1.0"/>
<text x="448.25" y="385" font-size="8.2" text-anchor="middle" fill="#383838" stroke="#383838" stroke-width="0.22">100</text>
<line x1="508.25" y1="374.25" x2="508.25" y2="372.45" stroke="#c0c0c0" stroke-width="1.0"/>
<line x1="508.25" y1="234.25" x2="508.25" y2="236.05" stroke="#c0c0c0" stroke-width="1.0"/>
<text x="508.25" y="385" font-size="8.2" text-anchor="middle" fill="#383838" stroke="#383838" stroke-width="0.22">150</text>
<line x1="328.25" y1="374.25" x2="330.05" y2="374.25" stroke="#c0c0c0" stroke-width="1.0"/>
<line x1="543.25" y1="374.25" x2="541.45" y2="374.25" stroke="#c0c0c0" stroke-width="1.0"/>
<text x="326" y="378.25" font-size="8.2" text-anchor="end" fill="#383838" stroke="#383838" stroke-width="0.22">0</text>
<line x1="328.25" y1="354.25" x2="330.05" y2="354.25" stroke="#c0c0c0" stroke-width="1.0"/>
<line x1="543.25" y1="354.25" x2="541.45" y2="354.25" stroke="#c0c0c0" stroke-width="1.0"/>
<text x="326" y="358.25" font-size="8.2" text-anchor="end" fill="#383838" stroke="#383838" stroke-width="0.22">1</text>
<line x1="328.25" y1="334.25" x2="330.05" y2="334.25" stroke="#c0c0c0" stroke-width="1.0"/>
<line x1="543.25" y1="334.25" x2="541.45" y2="334.25" stroke="#c0c0c0" stroke-width="1.0"/>
<text x="326" y="338.25" font-size="8.2" text-anchor="end" fill="#383838" stroke="#383838" stroke-width="0.22">2</text>
<line x1="328.25" y1="314.25" x2="330.05" y2="314.25" stroke="#c0c0c0" stroke-width="1.0"/>
<line x1="543.25" y1="314.25" x2="541.45" y2="314.25" stroke="#c0c0c0" stroke-width="1.0"/>
<text x="326" y="318.25" font-size="8.2" text-anchor="end" fill="#383838" stroke="#383838" stroke-width="0.22">3</text>
<line x1="328.25" y1="294.25" x2="330.05" y2="294.25" stroke="#c0c0c0" stroke-width="1.0"/>
<line x1="543.25" y1="294.25" x2="541.45" y2="294.25" stroke="#c0c0c0" stroke-width="1.0"/>
<text x="326" y="298.25" font-size="8.2" text-anchor="end" fill="#383838" stroke="#383838" stroke-width="0.22">4</text>
<line x1="328.25" y1="274.25" x2="330.05" y2="274.25" stroke="#c0c0c0" stroke-width="1.0"/>
<line x1="543.25" y1="274.25" x2="541.45" y2="274.25" stroke="#c0c0c0" stroke-width="1.0"/>
<text x="326" y="278.25" font-size="8.2" text-anchor="end" fill="#383838" stroke="#383838" stroke-width="0.22">5</text>
<line x1="328.25" y1="254.25" x2="330.05" y2="254.25" stroke="#c0c0c0" stroke-width="1.0"/>
<line x1="543.25" y1="254.25" x2="541.45" y2="254.25" stroke="#c0c0c0" stroke-width="1.0"/>
<text x="326" y="258.25" font-size="8.2" text-anchor="end" fill="#383838" stroke="#383838" stroke-width="0.22">6</text>
<line x1="328.25" y1="234.25" x2="330.05" y2="234.25" stroke="#c0c0c0" stroke-width="1.0"/>
<line x1="543.25" y1="234.25" x2="541.45" y2="234.25" stroke="#c0c0c0" stroke-width="1.0"/>
<text x="326" y="238.25" font-size="8.2" text-anchor="end" fill="#383838" stroke="#383838" stroke-width="0.22">7</text>
<path d="M328.25,374.25 L359.45,374.25 L360.05,374.25 L360.65,374.25 L361.25,373.83 L361.85,373.06 L362.45,372.07 L363.05,370.82 L363.65,369.27 L364.25,367.39 L364.85,365.12 L365.45,362.43 L366.05,359.29 L366.65,355.67 L367.25,351.56 L367.85,346.97 L368.45,341.91 L369.05,336.41 L369.65,330.52 L370.25,324.31 L370.85,317.85 L371.45,311.25 L372.05,304.60 L372.65,298.01 L373.25,291.60 L373.85,285.46 L374.45,279.70 L375.05,274.41 L375.65,269.66 L376.25,265.51 L376.85,262.00 L377.45,259.14 L378.05,256.94 L378.65,255.35 L379.25,254.33 L379.85,253.80 L380.45,253.65 L381.05,253.71 L381.65,254.07 L382.25,254.88 L382.85,256.23 L383.45,258.18 L384.05,260.78 L384.65,264.03 L385.25,267.93 L385.85,272.44 L386.45,277.52 L387.05,283.11 L387.65,289.10 L388.25,295.42 L388.85,301.87 L389.45,308.28 L390.05,314.56 L390.65,320.64 L391.25,326.44 L391.85,331.89 L392.45,336.96 L393.05,341.61 L393.65,345.82 L394.25,349.60 L394.85,352.96 L395.45,355.94 L396.05,358.58 L396.65,360.93 L397.25,362.96 L397.85,364.64 L398.45,366.00 L399.05,367.09 L399.65,367.98 L400.25,368.72 L400.85,368.89 L401.45,369.06 L402.05,369.28 L402.65,369.52 L403.25,369.80 L403.85,370.10 L404.45,370.42 L405.05,370.76 L405.65,371.10 L406.25,371.45 L406.85,371.80 L407.45,372.14 L408.05,372.48 L408.65,372.80 L409.25,373.10 L409.85,373.38 L410.45,373.62 L411.05,373.84 L411.65,374.01 L412.25,374.14 L412.85,374.22 L413.45,374.25 L414.05,374.25 L414.65,374.25 L415.25,374.25 L415.85,374.25 L416.45,374.25 L417.05,374.25 L417.65,374.25 L418.25,374.25 L544.25,374.25" fill="none" stroke="#1686cc" stroke-width="1.7" stroke-linejoin="round"/>
<text x="312.2" y="304.5" font-size="8.65" text-anchor="middle" fill="#383838" stroke="#383838" stroke-width="0.22" transform="rotate(-90 312.2 304.5)" dy="3">Probability (%)</text>
<text x="435.8" y="396" font-size="8.6" text-anchor="middle" fill="#383838" stroke="#383838" stroke-width="0.22">Contact Angle (degree)</text>
<text x="132.8" y="12.3" font-size="8.75" text-anchor="middle" fill="#000" stroke="#000" stroke-width="0.22">Original</text>
<text x="346.3" y="26.7" font-size="8.88" fill="#000" stroke="#000" stroke-width="0.12">After hit<tspan font-size="11.3" dx="0.95">–</tspan><tspan dx="0.95">and</tspan><tspan font-size="11.3" dx="0.95">–</tspan><tspan dx="0.95">count (91 points were removed)</tspan></text>
<text x="5.0" y="213" font-size="8.88" fill="#000" stroke="#000" stroke-width="0.12">After hit<tspan font-size="11.3" dx="0.95">–</tspan><tspan dx="0.95">and</tspan><tspan font-size="11.3" dx="0.95">–</tspan><tspan dx="0.95">count and fine</tspan><tspan font-size="11.3" dx="0.95">–</tspan><tspan dx="0.95">percision (43 points were removed)</tspan></text>
<text x="434.7" y="215.4" font-size="8.7" fill="#000" stroke="#000" stroke-width="0.12" text-anchor="middle" xml:space="preserve">Fan and Cagin  Method</text>
<text x="371" y="226.8" font-size="8.75" fill="#000" stroke="#000" stroke-width="0.12"><tspan font-family="Liberation Serif" font-style="italic">θ</tspan><tspan font-size="6.6" dy="3.3">ave</tspan><tspan dy="-3.3">(from distribution)=45.215935</tspan></text>
</svg>
</body></html>
